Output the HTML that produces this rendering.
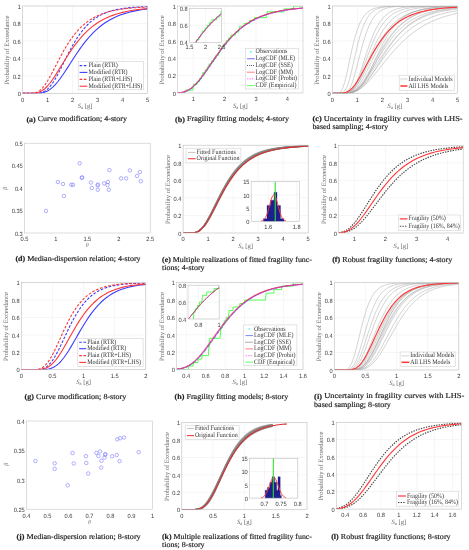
<!DOCTYPE html>
<html><head><meta charset="utf-8"><style>
html,body{margin:0;padding:0;background:#fff;width:469px;height:550px;overflow:hidden}
svg{display:block;will-change:transform} text{text-rendering:geometricPrecision}
</style></head><body>
<svg width="469" height="550" viewBox="0 0 469 550" font-family='"Liberation Sans", sans-serif'>
<rect width="469" height="550" fill="#fff"/>
<clipPath id="c1"><rect x="22.50" y="6.00" width="125.20" height="87.40"/></clipPath>
<rect x="22.50" y="6.00" width="125.20" height="87.40" fill="#fff"/>
<line x1="22.50" y1="6.00" x2="22.50" y2="93.40" stroke="#ececec" stroke-width="0.5"/>
<line x1="47.54" y1="6.00" x2="47.54" y2="93.40" stroke="#ececec" stroke-width="0.5"/>
<line x1="72.58" y1="6.00" x2="72.58" y2="93.40" stroke="#ececec" stroke-width="0.5"/>
<line x1="97.62" y1="6.00" x2="97.62" y2="93.40" stroke="#ececec" stroke-width="0.5"/>
<line x1="122.66" y1="6.00" x2="122.66" y2="93.40" stroke="#ececec" stroke-width="0.5"/>
<line x1="147.70" y1="6.00" x2="147.70" y2="93.40" stroke="#ececec" stroke-width="0.5"/>
<line x1="22.50" y1="93.40" x2="147.70" y2="93.40" stroke="#ececec" stroke-width="0.5"/>
<line x1="22.50" y1="75.92" x2="147.70" y2="75.92" stroke="#ececec" stroke-width="0.5"/>
<line x1="22.50" y1="58.44" x2="147.70" y2="58.44" stroke="#ececec" stroke-width="0.5"/>
<line x1="22.50" y1="40.96" x2="147.70" y2="40.96" stroke="#ececec" stroke-width="0.5"/>
<line x1="22.50" y1="23.48" x2="147.70" y2="23.48" stroke="#ececec" stroke-width="0.5"/>
<line x1="22.50" y1="6.00" x2="147.70" y2="6.00" stroke="#ececec" stroke-width="0.5"/>
<text x="22.50" y="100.20" font-size="6.1" text-anchor="middle" dominant-baseline="central" fill="#383838" textLength="3.17" lengthAdjust="spacingAndGlyphs">0</text>
<text x="47.54" y="100.20" font-size="6.1" text-anchor="middle" dominant-baseline="central" fill="#383838" textLength="3.17" lengthAdjust="spacingAndGlyphs">1</text>
<text x="72.58" y="100.20" font-size="6.1" text-anchor="middle" dominant-baseline="central" fill="#383838" textLength="3.17" lengthAdjust="spacingAndGlyphs">2</text>
<text x="97.62" y="100.20" font-size="6.1" text-anchor="middle" dominant-baseline="central" fill="#383838" textLength="3.17" lengthAdjust="spacingAndGlyphs">3</text>
<text x="122.66" y="100.20" font-size="6.1" text-anchor="middle" dominant-baseline="central" fill="#383838" textLength="3.17" lengthAdjust="spacingAndGlyphs">4</text>
<text x="147.70" y="100.20" font-size="6.1" text-anchor="middle" dominant-baseline="central" fill="#383838" textLength="3.17" lengthAdjust="spacingAndGlyphs">5</text>
<text x="20.80" y="93.40" font-size="6.1" text-anchor="end" dominant-baseline="central" fill="#383838" dy="1.25" textLength="3.17" lengthAdjust="spacingAndGlyphs">0</text>
<text x="20.80" y="75.92" font-size="6.1" text-anchor="end" dominant-baseline="central" fill="#383838" dy="1.25" textLength="7.92" lengthAdjust="spacingAndGlyphs">0.2</text>
<text x="20.80" y="58.44" font-size="6.1" text-anchor="end" dominant-baseline="central" fill="#383838" dy="1.25" textLength="7.92" lengthAdjust="spacingAndGlyphs">0.4</text>
<text x="20.80" y="40.96" font-size="6.1" text-anchor="end" dominant-baseline="central" fill="#383838" dy="1.25" textLength="7.92" lengthAdjust="spacingAndGlyphs">0.6</text>
<text x="20.80" y="23.48" font-size="6.1" text-anchor="end" dominant-baseline="central" fill="#383838" dy="1.25" textLength="7.92" lengthAdjust="spacingAndGlyphs">0.8</text>
<text x="20.80" y="6.00" font-size="6.1" text-anchor="end" dominant-baseline="central" fill="#383838" dy="1.25" textLength="3.17" lengthAdjust="spacingAndGlyphs">1</text>
<path d="M22.50,93.40 L25.00,93.40 L27.51,93.40 L30.01,93.40 L32.52,93.40 L35.02,93.37 L37.52,93.27 L40.03,92.96 L42.53,92.28 L45.04,91.05 L47.54,89.16 L50.04,86.53 L52.55,83.20 L55.05,79.25 L57.56,74.79 L60.06,70.00 L62.56,65.01 L65.07,59.96 L67.57,54.98 L70.08,50.17 L72.58,45.59 L75.08,41.30 L77.59,37.33 L80.09,33.70 L82.60,30.39 L85.10,27.42 L87.60,24.75 L90.11,22.38 L92.61,20.28 L95.12,18.42 L97.62,16.79 L100.12,15.37 L102.63,14.12 L105.13,13.03 L107.64,12.08 L110.14,11.26 L112.64,10.55 L115.15,9.93 L117.65,9.40 L120.16,8.94 L122.66,8.54 L125.16,8.19 L127.67,7.89 L130.17,7.64 L132.68,7.41 L135.18,7.22 L137.68,7.06 L140.19,6.92 L142.69,6.79 L145.20,6.69 L147.70,6.59" fill="none" stroke="#3c3cff" stroke-width="1.1" stroke-dasharray="2.6,1.6" stroke-linejoin="round" clip-path="url(#c1)"/>
<path d="M22.50,93.40 L25.00,93.40 L27.51,93.40 L30.01,93.40 L32.52,93.40 L35.02,93.38 L37.52,93.31 L40.03,93.13 L42.53,92.73 L45.04,92.03 L47.54,90.93 L50.04,89.38 L52.55,87.36 L55.05,84.88 L57.56,81.99 L60.06,78.75 L62.56,75.22 L65.07,71.49 L67.57,67.64 L70.08,63.73 L72.58,59.82 L75.08,55.98 L77.59,52.24 L80.09,48.64 L82.60,45.20 L85.10,41.94 L87.60,38.87 L90.11,36.01 L92.61,33.34 L95.12,30.86 L97.62,28.58 L100.12,26.48 L102.63,24.55 L105.13,22.79 L107.64,21.18 L110.14,19.72 L112.64,18.39 L115.15,17.18 L117.65,16.09 L120.16,15.10 L122.66,14.20 L125.16,13.39 L127.67,12.66 L130.17,12.00 L132.68,11.41 L135.18,10.87 L137.68,10.39 L140.19,9.96 L142.69,9.57 L145.20,9.21 L147.70,8.90" fill="none" stroke="#3c3cff" stroke-width="1.1" stroke-linejoin="round" clip-path="url(#c1)"/>
<path d="M22.50,93.40 L25.00,93.40 L27.51,93.40 L30.01,93.38 L32.52,93.27 L35.02,92.88 L37.52,91.96 L40.03,90.34 L42.53,87.93 L45.04,84.76 L47.54,80.93 L50.04,76.60 L52.55,71.94 L55.05,67.10 L57.56,62.23 L60.06,57.43 L62.56,52.81 L65.07,48.41 L67.57,44.28 L70.08,40.44 L72.58,36.90 L75.08,33.67 L77.59,30.73 L80.09,28.06 L82.60,25.66 L85.10,23.51 L87.60,21.57 L90.11,19.85 L92.61,18.31 L95.12,16.94 L97.62,15.72 L100.12,14.63 L102.63,13.67 L105.13,12.81 L107.64,12.06 L110.14,11.38 L112.64,10.79 L115.15,10.26 L117.65,9.79 L120.16,9.37 L122.66,9.01 L125.16,8.68 L127.67,8.39 L130.17,8.13 L132.68,7.90 L135.18,7.70 L137.68,7.52 L140.19,7.36 L142.69,7.22 L145.20,7.09 L147.70,6.98" fill="none" stroke="#ff3636" stroke-width="1.1" stroke-dasharray="2.6,1.6" stroke-linejoin="round" clip-path="url(#c1)"/>
<path d="M22.50,93.40 L25.00,93.40 L27.51,93.40 L30.01,93.39 L32.52,93.35 L35.02,93.17 L37.52,92.71 L40.03,91.84 L42.53,90.45 L45.04,88.50 L47.54,85.99 L50.04,82.98 L52.55,79.56 L55.05,75.83 L57.56,71.89 L60.06,67.83 L62.56,63.74 L65.07,59.69 L67.57,55.73 L70.08,51.91 L72.58,48.26 L75.08,44.81 L77.59,41.56 L80.09,38.52 L82.60,35.69 L85.10,33.07 L87.60,30.65 L90.11,28.43 L92.61,26.39 L95.12,24.53 L97.62,22.82 L100.12,21.27 L102.63,19.86 L105.13,18.57 L107.64,17.40 L110.14,16.34 L112.64,15.38 L115.15,14.51 L117.65,13.72 L120.16,13.00 L122.66,12.36 L125.16,11.77 L127.67,11.24 L130.17,10.76 L132.68,10.32 L135.18,9.93 L137.68,9.57 L140.19,9.25 L142.69,8.95 L145.20,8.69 L147.70,8.45" fill="none" stroke="#ff3636" stroke-width="1.1" stroke-linejoin="round" clip-path="url(#c1)"/>
<rect x="22.50" y="6.00" width="125.20" height="87.40" fill="none" stroke="#c0c0c0" stroke-width="0.55"/>
<rect x="78.20" y="61.50" width="65.40" height="28.30" fill="#fff" stroke="#d2d2d2" stroke-width="0.6"/>
<line x1="79.60" y1="65.60" x2="87.40" y2="65.60" stroke="#3c3cff" stroke-width="1.1" stroke-dasharray="2.6,1.6"/>
<text x="88.50" y="65.60" font-family='"Liberation Serif", serif' font-size="6.8" dominant-baseline="central" fill="#333" textLength="29.14" lengthAdjust="spacingAndGlyphs">Plain (RTR)</text>
<line x1="79.60" y1="72.40" x2="87.40" y2="72.40" stroke="#3c3cff" stroke-width="1.1"/>
<text x="88.50" y="72.40" font-family='"Liberation Serif", serif' font-size="6.8" dominant-baseline="central" fill="#333" textLength="39.13" lengthAdjust="spacingAndGlyphs">Modified (RTR)</text>
<line x1="79.60" y1="79.40" x2="87.40" y2="79.40" stroke="#ff3636" stroke-width="1.1" stroke-dasharray="2.6,1.6"/>
<text x="88.50" y="79.40" font-family='"Liberation Serif", serif' font-size="6.8" dominant-baseline="central" fill="#333" textLength="43.86" lengthAdjust="spacingAndGlyphs">Plain (RTR+LHS)</text>
<line x1="79.60" y1="86.20" x2="87.40" y2="86.20" stroke="#ff3636" stroke-width="1.1"/>
<text x="88.50" y="86.20" font-family='"Liberation Serif", serif' font-size="6.8" dominant-baseline="central" fill="#333" textLength="53.85" lengthAdjust="spacingAndGlyphs">Modified (RTR+LHS)</text>
<text x="7.90" y="50.10" font-family='"Liberation Serif", serif' font-size="6.6" text-anchor="middle" dominant-baseline="central" fill="#666" transform="rotate(-90 7.90 50.10)" textLength="69" lengthAdjust="spacingAndGlyphs">Probability of Exceedance</text>
<text x="85.10" y="106.00" font-family='"Liberation Serif", serif' font-size="6.6" text-anchor="middle" dominant-baseline="central" fill="#666"><tspan font-style="italic">S</tspan><tspan font-size="4.62" dy="1">a</tspan><tspan dy="-1"> [g]</tspan></text>
<text x="26.40" y="118.80" font-family='"Liberation Serif", serif' font-size="7.6" dominant-baseline="central" fill="#222" stroke="#222" stroke-width="0.18" textLength="100.6" lengthAdjust="spacingAndGlyphs"><tspan font-weight="bold">(a)</tspan> Curve modification; 4-story</text>
<clipPath id="c2"><rect x="177.60" y="6.00" width="125.40" height="87.00"/></clipPath>
<rect x="177.60" y="6.00" width="125.40" height="87.00" fill="#fff"/>
<line x1="193.28" y1="6.00" x2="193.28" y2="93.00" stroke="#ececec" stroke-width="0.5"/>
<line x1="224.62" y1="6.00" x2="224.62" y2="93.00" stroke="#ececec" stroke-width="0.5"/>
<line x1="255.97" y1="6.00" x2="255.97" y2="93.00" stroke="#ececec" stroke-width="0.5"/>
<line x1="287.32" y1="6.00" x2="287.32" y2="93.00" stroke="#ececec" stroke-width="0.5"/>
<line x1="177.60" y1="93.00" x2="303.00" y2="93.00" stroke="#ececec" stroke-width="0.5"/>
<line x1="177.60" y1="75.60" x2="303.00" y2="75.60" stroke="#ececec" stroke-width="0.5"/>
<line x1="177.60" y1="58.20" x2="303.00" y2="58.20" stroke="#ececec" stroke-width="0.5"/>
<line x1="177.60" y1="40.80" x2="303.00" y2="40.80" stroke="#ececec" stroke-width="0.5"/>
<line x1="177.60" y1="23.40" x2="303.00" y2="23.40" stroke="#ececec" stroke-width="0.5"/>
<line x1="177.60" y1="6.00" x2="303.00" y2="6.00" stroke="#ececec" stroke-width="0.5"/>
<text x="193.28" y="99.80" font-size="6.1" text-anchor="middle" dominant-baseline="central" fill="#383838" textLength="3.17" lengthAdjust="spacingAndGlyphs">1</text>
<text x="224.62" y="99.80" font-size="6.1" text-anchor="middle" dominant-baseline="central" fill="#383838" textLength="3.17" lengthAdjust="spacingAndGlyphs">2</text>
<text x="255.97" y="99.80" font-size="6.1" text-anchor="middle" dominant-baseline="central" fill="#383838" textLength="3.17" lengthAdjust="spacingAndGlyphs">3</text>
<text x="287.32" y="99.80" font-size="6.1" text-anchor="middle" dominant-baseline="central" fill="#383838" textLength="3.17" lengthAdjust="spacingAndGlyphs">4</text>
<text x="175.90" y="93.00" font-size="6.1" text-anchor="end" dominant-baseline="central" fill="#383838" dy="1.25" textLength="3.17" lengthAdjust="spacingAndGlyphs">0</text>
<text x="175.90" y="75.60" font-size="6.1" text-anchor="end" dominant-baseline="central" fill="#383838" dy="1.25" textLength="7.92" lengthAdjust="spacingAndGlyphs">0.2</text>
<text x="175.90" y="58.20" font-size="6.1" text-anchor="end" dominant-baseline="central" fill="#383838" dy="1.25" textLength="7.92" lengthAdjust="spacingAndGlyphs">0.4</text>
<text x="175.90" y="40.80" font-size="6.1" text-anchor="end" dominant-baseline="central" fill="#383838" dy="1.25" textLength="7.92" lengthAdjust="spacingAndGlyphs">0.6</text>
<text x="175.90" y="23.40" font-size="6.1" text-anchor="end" dominant-baseline="central" fill="#383838" dy="1.25" textLength="7.92" lengthAdjust="spacingAndGlyphs">0.8</text>
<text x="175.90" y="6.00" font-size="6.1" text-anchor="end" dominant-baseline="central" fill="#383838" dy="1.25" textLength="3.17" lengthAdjust="spacingAndGlyphs">1</text>
<path d="M177.60,93.00 L185.12,93.00 L185.12,90.10 L192.96,90.10 L192.96,87.20 L193.28,87.20 L193.28,84.30 L197.04,84.30 L197.04,81.40 L199.54,81.40 L199.54,78.50 L201.43,78.50 L201.43,75.60 L202.68,75.60 L202.68,72.70 L205.19,72.70 L205.19,69.80 L207.38,69.80 L207.38,66.90 L208.95,66.90 L208.95,64.00 L211.46,64.00 L211.46,61.10 L213.97,61.10 L213.97,58.20 L215.85,58.20 L215.85,55.30 L218.35,55.30 L218.35,52.40 L219.92,52.40 L219.92,49.50 L221.49,49.50 L221.49,46.60 L224.00,46.60 L224.00,43.70 L226.19,43.70 L226.19,40.80 L228.39,40.80 L228.39,37.90 L230.90,37.90 L230.90,35.00 L235.60,35.00 L235.60,32.10 L238.73,32.10 L238.73,29.20 L239.67,29.20 L239.67,26.30 L244.06,26.30 L244.06,23.40 L249.70,23.40 L249.70,20.50 L254.41,20.50 L254.41,17.60 L266.32,17.60 L266.32,14.70 L266.95,14.70 L266.95,11.80 L284.19,11.80 L284.19,8.90 L293.60,8.90 L293.60,6.00 L303.00,6.00" fill="none" stroke="#40ff40" stroke-width="0.9" stroke-linejoin="round" clip-path="url(#c2)"/>
<path d="M177.60,92.89 L180.11,92.68 L182.62,92.27 L185.12,91.56 L187.63,90.49 L190.14,89.01 L192.65,87.10 L195.16,84.79 L197.66,82.10 L200.17,79.09 L202.68,75.82 L205.19,72.35 L207.70,68.75 L210.20,65.09 L212.71,61.42 L215.22,57.78 L217.73,54.22 L220.24,50.76 L222.74,47.44 L225.25,44.27 L227.76,41.27 L230.27,38.43 L232.78,35.78 L235.28,33.29 L237.79,30.98 L240.30,28.84 L242.81,26.85 L245.32,25.02 L247.82,23.34 L250.33,21.80 L252.84,20.38 L255.35,19.08 L257.86,17.90 L260.36,16.81 L262.87,15.83 L265.38,14.93 L267.89,14.11 L270.40,13.37 L272.90,12.69 L275.41,12.08 L277.92,11.52 L280.43,11.01 L282.94,10.55 L285.44,10.13 L287.95,9.75 L290.46,9.41 L292.97,9.10 L295.48,8.82 L297.98,8.56 L300.49,8.33 L303.00,8.12" fill="none" stroke="#6060ff" stroke-width="1.0" stroke-linejoin="round" clip-path="url(#c2)"/>
<path d="M177.60,92.92 L180.11,92.75 L182.62,92.40 L185.12,91.78 L187.63,90.82 L190.14,89.47 L192.65,87.69 L195.16,85.50 L197.66,82.91 L200.17,79.99 L202.68,76.78 L205.19,73.35 L207.70,69.77 L210.20,66.10 L212.71,62.40 L215.22,58.72 L217.73,55.10 L220.24,51.59 L222.74,48.20 L225.25,44.96 L227.76,41.88 L230.27,38.98 L232.78,36.25 L235.28,33.70 L237.79,31.33 L240.30,29.12 L242.81,27.09 L245.32,25.21 L247.82,23.48 L250.33,21.90 L252.84,20.45 L255.35,19.12 L257.86,17.91 L260.36,16.81 L262.87,15.80 L265.38,14.89 L267.89,14.05 L270.40,13.30 L272.90,12.61 L275.41,11.99 L277.92,11.43 L280.43,10.92 L282.94,10.46 L285.44,10.04 L287.95,9.66 L290.46,9.32 L292.97,9.01 L295.48,8.73 L297.98,8.47 L300.49,8.24 L303.00,8.03" fill="none" stroke="#222" stroke-width="0.7" stroke-dasharray="0.8,0.8" stroke-linejoin="round" clip-path="url(#c2)"/>
<path d="M177.60,92.88 L180.11,92.66 L182.62,92.22 L185.12,91.48 L187.63,90.36 L190.14,88.81 L192.65,86.84 L195.16,84.45 L197.66,81.69 L200.17,78.60 L202.68,75.26 L205.19,71.73 L207.70,68.08 L210.20,64.37 L212.71,60.67 L215.22,57.01 L217.73,53.43 L220.24,49.97 L222.74,46.65 L225.25,43.49 L227.76,40.50 L230.27,37.68 L232.78,35.05 L235.28,32.59 L237.79,30.31 L240.30,28.19 L242.81,26.24 L245.32,24.44 L247.82,22.79 L250.33,21.28 L252.84,19.89 L255.35,18.62 L257.86,17.47 L260.36,16.41 L262.87,15.45 L265.38,14.58 L267.89,13.78 L270.40,13.06 L272.90,12.41 L275.41,11.81 L277.92,11.27 L280.43,10.79 L282.94,10.34 L285.44,9.94 L287.95,9.58 L290.46,9.25 L292.97,8.95 L295.48,8.68 L297.98,8.43 L300.49,8.21 L303.00,8.01" fill="none" stroke="#ff3636" stroke-width="0.8" stroke-linejoin="round" clip-path="url(#c2)"/>
<path d="M177.60,92.87 L180.11,92.63 L182.62,92.17 L185.12,91.40 L187.63,90.27 L190.14,88.72 L192.65,86.76 L195.16,84.41 L197.66,81.69 L200.17,78.67 L202.68,75.41 L205.19,71.97 L207.70,68.42 L210.20,64.80 L212.71,61.19 L215.22,57.62 L217.73,54.12 L220.24,50.74 L222.74,47.48 L225.25,44.37 L227.76,41.43 L230.27,38.64 L232.78,36.03 L235.28,33.59 L237.79,31.31 L240.30,29.19 L242.81,27.23 L245.32,25.42 L247.82,23.75 L250.33,22.21 L252.84,20.79 L255.35,19.50 L257.86,18.31 L260.36,17.22 L262.87,16.23 L265.38,15.32 L267.89,14.49 L270.40,13.74 L272.90,13.05 L275.41,12.42 L277.92,11.85 L280.43,11.33 L282.94,10.85 L285.44,10.42 L287.95,10.03 L290.46,9.67 L292.97,9.35 L295.48,9.05 L297.98,8.78 L300.49,8.54 L303.00,8.32" fill="none" stroke="#ff40ff" stroke-width="0.8" stroke-dasharray="1.5,1" stroke-linejoin="round" clip-path="url(#c2)"/>
<rect x="177.60" y="6.00" width="125.40" height="87.00" fill="none" stroke="#c0c0c0" stroke-width="0.55"/>
<clipPath id="c3"><rect x="189.40" y="8.30" width="32.20" height="34.20"/></clipPath>
<rect x="189.40" y="8.30" width="32.20" height="34.20" fill="#fff"/>
<line x1="189.40" y1="8.30" x2="189.40" y2="42.50" stroke="#ececec" stroke-width="0.5"/>
<line x1="205.50" y1="8.30" x2="205.50" y2="42.50" stroke="#ececec" stroke-width="0.5"/>
<line x1="221.60" y1="8.30" x2="221.60" y2="42.50" stroke="#ececec" stroke-width="0.5"/>
<line x1="189.40" y1="42.50" x2="221.60" y2="42.50" stroke="#ececec" stroke-width="0.5"/>
<line x1="189.40" y1="25.40" x2="221.60" y2="25.40" stroke="#ececec" stroke-width="0.5"/>
<line x1="189.40" y1="8.30" x2="221.60" y2="8.30" stroke="#ececec" stroke-width="0.5"/>
<text x="189.40" y="47.50" font-size="6.1" text-anchor="middle" dominant-baseline="central" fill="#383838" textLength="7.92" lengthAdjust="spacingAndGlyphs">1.5</text>
<text x="205.50" y="47.50" font-size="6.1" text-anchor="middle" dominant-baseline="central" fill="#383838" textLength="3.17" lengthAdjust="spacingAndGlyphs">2</text>
<text x="221.60" y="47.50" font-size="6.1" text-anchor="middle" dominant-baseline="central" fill="#383838" textLength="7.92" lengthAdjust="spacingAndGlyphs">2.5</text>
<text x="187.70" y="42.50" font-size="6.1" text-anchor="end" dominant-baseline="central" fill="#383838" dy="1.25" textLength="7.92" lengthAdjust="spacingAndGlyphs">0.4</text>
<text x="187.70" y="25.40" font-size="6.1" text-anchor="end" dominant-baseline="central" fill="#383838" dy="1.25" textLength="7.92" lengthAdjust="spacingAndGlyphs">0.6</text>
<text x="187.70" y="8.30" font-size="6.1" text-anchor="end" dominant-baseline="central" fill="#383838" dy="1.25" textLength="7.92" lengthAdjust="spacingAndGlyphs">0.8</text>
<path d="M157.20,76.70 L164.93,76.70 L164.93,73.85 L172.98,73.85 L172.98,71.00 L173.30,71.00 L173.30,68.15 L177.16,68.15 L177.16,65.30 L179.74,65.30 L179.74,62.45 L181.67,62.45 L181.67,59.60 L182.96,59.60 L182.96,56.75 L185.54,56.75 L185.54,53.90 L187.79,53.90 L187.79,51.05 L189.40,51.05 L189.40,48.20 L191.98,48.20 L191.98,45.35 L194.55,45.35 L194.55,42.50 L196.48,42.50 L196.48,39.65 L199.06,39.65 L199.06,36.80 L200.67,36.80 L200.67,33.95 L202.28,33.95 L202.28,31.10 L204.86,31.10 L204.86,28.25 L207.11,28.25 L207.11,25.40 L209.36,25.40 L209.36,22.55 L211.94,22.55 L211.94,19.70 L216.77,19.70 L216.77,16.85 L219.99,16.85 L219.99,14.00 L220.96,14.00 L220.96,11.15 L225.46,11.15 L225.46,8.30 L231.26,8.30 L231.26,5.45 L236.09,5.45 L236.09,2.60 L248.33,2.60 L248.33,-0.25 L248.97,-0.25 L248.97,-3.10 L266.68,-3.10 L266.68,-5.95 L276.34,-5.95 L276.34,-8.80 L286.00,-8.80" fill="none" stroke="#40ff40" stroke-width="0.9" stroke-linejoin="round" clip-path="url(#c3)"/>
<path d="M194.87,43.42 L195.41,42.68 L195.94,41.94 L196.48,41.21 L197.01,40.48 L197.55,39.76 L198.08,39.03 L198.62,38.32 L199.15,37.60 L199.68,36.90 L200.22,36.20 L200.75,35.50 L201.29,34.81 L201.82,34.12 L202.36,33.44 L202.89,32.77 L203.43,32.10 L203.96,31.44 L204.50,30.79 L205.03,30.14 L205.56,29.50 L206.10,28.87 L206.63,28.24 L207.17,27.62 L207.70,27.01 L208.24,26.40 L208.77,25.80 L209.31,25.21 L209.84,24.63 L210.38,24.05 L210.91,23.48 L211.44,22.92 L211.98,22.37 L212.51,21.82 L213.05,21.28 L213.58,20.75 L214.12,20.22 L214.65,19.71 L215.19,19.20 L215.72,18.69 L216.25,18.20 L216.79,17.71 L217.32,17.23 L217.86,16.76 L218.39,16.29 L218.93,15.83 L219.46,15.38 L220.00,14.93 L220.53,14.50 L221.07,14.07 L221.60,13.64" fill="none" stroke="#6060ff" stroke-width="1.0" stroke-linejoin="round" clip-path="url(#c3)"/>
<path d="M194.87,43.42 L195.41,42.68 L195.94,41.94 L196.48,41.21 L197.01,40.48 L197.55,39.76 L198.08,39.03 L198.62,38.32 L199.15,37.60 L199.68,36.90 L200.22,36.20 L200.75,35.50 L201.29,34.81 L201.82,34.12 L202.36,33.44 L202.89,32.77 L203.43,32.10 L203.96,31.44 L204.50,30.79 L205.03,30.14 L205.56,29.50 L206.10,28.87 L206.63,28.24 L207.17,27.62 L207.70,27.01 L208.24,26.40 L208.77,25.80 L209.31,25.21 L209.84,24.63 L210.38,24.05 L210.91,23.48 L211.44,22.92 L211.98,22.37 L212.51,21.82 L213.05,21.28 L213.58,20.75 L214.12,20.22 L214.65,19.71 L215.19,19.20 L215.72,18.69 L216.25,18.20 L216.79,17.71 L217.32,17.23 L217.86,16.76 L218.39,16.29 L218.93,15.83 L219.46,15.38 L220.00,14.93 L220.53,14.50 L221.07,14.07 L221.60,13.64" fill="none" stroke="#ff3636" stroke-width="0.8" stroke-linejoin="round" clip-path="url(#c3)"/>
<path d="M194.87,43.24 L195.41,42.51 L195.94,41.79 L196.48,41.07 L197.01,40.35 L197.55,39.64 L198.08,38.93 L198.62,38.23 L199.15,37.53 L199.68,36.84 L200.22,36.15 L200.75,35.47 L201.29,34.79 L201.82,34.12 L202.36,33.45 L202.89,32.79 L203.43,32.14 L203.96,31.49 L204.50,30.85 L205.03,30.21 L205.56,29.59 L206.10,28.96 L206.63,28.35 L207.17,27.74 L207.70,27.14 L208.24,26.55 L208.77,25.96 L209.31,25.38 L209.84,24.81 L210.38,24.24 L210.91,23.68 L211.44,23.13 L211.98,22.58 L212.51,22.05 L213.05,21.52 L213.58,20.99 L214.12,20.48 L214.65,19.97 L215.19,19.47 L215.72,18.97 L216.25,18.48 L216.79,18.00 L217.32,17.53 L217.86,17.06 L218.39,16.60 L218.93,16.15 L219.46,15.71 L220.00,15.27 L220.53,14.84 L221.07,14.41 L221.60,13.99" fill="none" stroke="#ff40ff" stroke-width="0.8" stroke-dasharray="1.5,1" stroke-linejoin="round" clip-path="url(#c3)"/>
<rect x="189.40" y="8.30" width="32.20" height="34.20" fill="none" stroke="#c0c0c0" stroke-width="0.55"/>
<rect x="245.40" y="48.40" width="53.00" height="40.60" fill="#fff" stroke="#d2d2d2" stroke-width="0.6"/>
<circle cx="250.85" cy="51.90" r="1.1" fill="#80ffff"/>
<text x="255.60" y="51.90" font-family='"Liberation Serif", serif' font-size="6.8" dominant-baseline="central" fill="#333" textLength="31.66" lengthAdjust="spacingAndGlyphs">Observations</text>
<line x1="247.00" y1="58.70" x2="254.70" y2="58.70" stroke="#9090ff" stroke-width="1.3"/>
<text x="255.60" y="58.70" font-family='"Liberation Serif", serif' font-size="6.8" dominant-baseline="central" fill="#333" textLength="39.50" lengthAdjust="spacingAndGlyphs">LogCDF (MLE)</text>
<line x1="247.00" y1="65.50" x2="254.70" y2="65.50" stroke="#333" stroke-width="0.8" stroke-dasharray="1,1"/>
<text x="255.60" y="65.50" font-family='"Liberation Serif", serif' font-size="6.8" dominant-baseline="central" fill="#333" textLength="37.17" lengthAdjust="spacingAndGlyphs">LogCDF (SSE)</text>
<line x1="247.00" y1="72.20" x2="254.70" y2="72.20" stroke="#ff6060" stroke-width="0.8"/>
<text x="255.60" y="72.20" font-family='"Liberation Serif", serif' font-size="6.8" dominant-baseline="central" fill="#333" textLength="37.50" lengthAdjust="spacingAndGlyphs">LogCDF (MM)</text>
<line x1="247.00" y1="78.90" x2="254.70" y2="78.90" stroke="#ff60ff" stroke-width="0.8" stroke-dasharray="1.5,1"/>
<text x="255.60" y="78.90" font-family='"Liberation Serif", serif' font-size="6.8" dominant-baseline="central" fill="#333" textLength="41.50" lengthAdjust="spacingAndGlyphs">LogCDF (Probit)</text>
<line x1="247.00" y1="85.60" x2="254.70" y2="85.60" stroke="#60ff60" stroke-width="1.0"/>
<text x="255.60" y="85.60" font-family='"Liberation Serif", serif' font-size="6.8" dominant-baseline="central" fill="#333" textLength="40.82" lengthAdjust="spacingAndGlyphs">CDF (Empirical)</text>
<text x="163.00" y="49.90" font-family='"Liberation Serif", serif' font-size="6.6" text-anchor="middle" dominant-baseline="central" fill="#666" transform="rotate(-90 163.00 49.90)" textLength="69" lengthAdjust="spacingAndGlyphs">Probability of Exceedance</text>
<text x="240.30" y="105.60" font-family='"Liberation Serif", serif' font-size="6.6" text-anchor="middle" dominant-baseline="central" fill="#666"><tspan font-style="italic">S</tspan><tspan font-size="4.62" dy="1">a</tspan><tspan dy="-1"> [g]</tspan></text>
<text x="175.10" y="118.80" font-family='"Liberation Serif", serif' font-size="7.6" dominant-baseline="central" fill="#222" stroke="#222" stroke-width="0.18" textLength="113.9" lengthAdjust="spacingAndGlyphs"><tspan font-weight="bold">(b)</tspan> Fragility fitting models; 4-story</text>
<clipPath id="c4"><rect x="332.40" y="6.00" width="125.10" height="87.30"/></clipPath>
<rect x="332.40" y="6.00" width="125.10" height="87.30" fill="#fff"/>
<line x1="332.40" y1="6.00" x2="332.40" y2="93.30" stroke="#ececec" stroke-width="0.5"/>
<line x1="357.42" y1="6.00" x2="357.42" y2="93.30" stroke="#ececec" stroke-width="0.5"/>
<line x1="382.44" y1="6.00" x2="382.44" y2="93.30" stroke="#ececec" stroke-width="0.5"/>
<line x1="407.46" y1="6.00" x2="407.46" y2="93.30" stroke="#ececec" stroke-width="0.5"/>
<line x1="432.48" y1="6.00" x2="432.48" y2="93.30" stroke="#ececec" stroke-width="0.5"/>
<line x1="457.50" y1="6.00" x2="457.50" y2="93.30" stroke="#ececec" stroke-width="0.5"/>
<line x1="332.40" y1="93.30" x2="457.50" y2="93.30" stroke="#ececec" stroke-width="0.5"/>
<line x1="332.40" y1="75.84" x2="457.50" y2="75.84" stroke="#ececec" stroke-width="0.5"/>
<line x1="332.40" y1="58.38" x2="457.50" y2="58.38" stroke="#ececec" stroke-width="0.5"/>
<line x1="332.40" y1="40.92" x2="457.50" y2="40.92" stroke="#ececec" stroke-width="0.5"/>
<line x1="332.40" y1="23.46" x2="457.50" y2="23.46" stroke="#ececec" stroke-width="0.5"/>
<line x1="332.40" y1="6.00" x2="457.50" y2="6.00" stroke="#ececec" stroke-width="0.5"/>
<text x="332.40" y="100.10" font-size="6.1" text-anchor="middle" dominant-baseline="central" fill="#383838" textLength="3.17" lengthAdjust="spacingAndGlyphs">0</text>
<text x="357.42" y="100.10" font-size="6.1" text-anchor="middle" dominant-baseline="central" fill="#383838" textLength="3.17" lengthAdjust="spacingAndGlyphs">1</text>
<text x="382.44" y="100.10" font-size="6.1" text-anchor="middle" dominant-baseline="central" fill="#383838" textLength="3.17" lengthAdjust="spacingAndGlyphs">2</text>
<text x="407.46" y="100.10" font-size="6.1" text-anchor="middle" dominant-baseline="central" fill="#383838" textLength="3.17" lengthAdjust="spacingAndGlyphs">3</text>
<text x="432.48" y="100.10" font-size="6.1" text-anchor="middle" dominant-baseline="central" fill="#383838" textLength="3.17" lengthAdjust="spacingAndGlyphs">4</text>
<text x="457.50" y="100.10" font-size="6.1" text-anchor="middle" dominant-baseline="central" fill="#383838" textLength="3.17" lengthAdjust="spacingAndGlyphs">5</text>
<text x="330.70" y="93.30" font-size="6.1" text-anchor="end" dominant-baseline="central" fill="#383838" dy="1.25" textLength="3.17" lengthAdjust="spacingAndGlyphs">0</text>
<text x="330.70" y="75.84" font-size="6.1" text-anchor="end" dominant-baseline="central" fill="#383838" dy="1.25" textLength="7.92" lengthAdjust="spacingAndGlyphs">0.2</text>
<text x="330.70" y="58.38" font-size="6.1" text-anchor="end" dominant-baseline="central" fill="#383838" dy="1.25" textLength="7.92" lengthAdjust="spacingAndGlyphs">0.4</text>
<text x="330.70" y="40.92" font-size="6.1" text-anchor="end" dominant-baseline="central" fill="#383838" dy="1.25" textLength="7.92" lengthAdjust="spacingAndGlyphs">0.6</text>
<text x="330.70" y="23.46" font-size="6.1" text-anchor="end" dominant-baseline="central" fill="#383838" dy="1.25" textLength="7.92" lengthAdjust="spacingAndGlyphs">0.8</text>
<text x="330.70" y="6.00" font-size="6.1" text-anchor="end" dominant-baseline="central" fill="#383838" dy="1.25" textLength="3.17" lengthAdjust="spacingAndGlyphs">1</text>
<path d="M332.40,93.30 L334.90,93.30 L337.40,93.27 L339.91,92.56 L342.41,89.15 L344.91,81.68 L347.41,70.96 L349.91,58.96 L352.42,47.45 L354.92,37.45 L357.42,29.33 L359.92,23.03 L362.42,18.29 L364.93,14.80 L367.43,12.27 L369.93,10.46 L372.43,9.16 L374.93,8.25 L377.44,7.60 L379.94,7.14 L382.44,6.81 L384.94,6.58 L387.44,6.42 L389.95,6.30 L392.45,6.22 L394.95,6.16 L397.45,6.11 L399.95,6.08 L402.46,6.06 L404.96,6.04 L407.46,6.03 L409.96,6.02 L412.46,6.02 L414.97,6.01 L417.47,6.01 L419.97,6.01 L422.47,6.01 L424.97,6.00 L427.48,6.00 L429.98,6.00 L432.48,6.00 L434.98,6.00 L437.48,6.00 L439.99,6.00 L442.49,6.00 L444.99,6.00 L447.49,6.00 L449.99,6.00 L452.50,6.00 L455.00,6.00 L457.50,6.00" fill="none" stroke="#a8a8a8" stroke-width="0.5" stroke-linejoin="round" clip-path="url(#c4)"/>
<path d="M332.40,93.30 L334.90,93.30 L337.40,93.30 L339.91,93.27 L342.41,92.86 L344.91,90.90 L347.41,86.02 L349.91,77.90 L352.42,67.47 L354.92,56.22 L357.42,45.48 L359.92,36.07 L362.42,28.33 L364.93,22.26 L367.43,17.66 L369.93,14.26 L372.43,11.80 L374.93,10.05 L377.44,8.81 L379.94,7.95 L382.44,7.35 L384.94,6.93 L387.44,6.64 L389.95,6.44 L392.45,6.31 L394.95,6.21 L397.45,6.15 L399.95,6.10 L402.46,6.07 L404.96,6.05 L407.46,6.04 L409.96,6.02 L412.46,6.02 L414.97,6.01 L417.47,6.01 L419.97,6.01 L422.47,6.00 L424.97,6.00 L427.48,6.00 L429.98,6.00 L432.48,6.00 L434.98,6.00 L437.48,6.00 L439.99,6.00 L442.49,6.00 L444.99,6.00 L447.49,6.00 L449.99,6.00 L452.50,6.00 L455.00,6.00 L457.50,6.00" fill="none" stroke="#a8a8a8" stroke-width="0.5" stroke-linejoin="round" clip-path="url(#c4)"/>
<path d="M332.40,93.30 L334.90,93.30 L337.40,93.30 L339.91,93.30 L342.41,93.26 L344.91,92.91 L347.41,91.50 L349.91,88.11 L352.42,82.24 L354.92,74.14 L357.42,64.65 L359.92,54.75 L362.42,45.31 L364.93,36.89 L367.43,29.75 L369.93,23.94 L372.43,19.35 L374.93,15.82 L377.44,13.16 L379.94,11.17 L382.44,9.72 L384.94,8.66 L387.44,7.90 L389.95,7.35 L392.45,6.96 L394.95,6.68 L397.45,6.48 L399.95,6.34 L402.46,6.24 L404.96,6.17 L407.46,6.12 L409.96,6.09 L412.46,6.06 L414.97,6.04 L417.47,6.03 L419.97,6.02 L422.47,6.02 L424.97,6.01 L427.48,6.01 L429.98,6.01 L432.48,6.00 L434.98,6.00 L437.48,6.00 L439.99,6.00 L442.49,6.00 L444.99,6.00 L447.49,6.00 L449.99,6.00 L452.50,6.00 L455.00,6.00 L457.50,6.00" fill="none" stroke="#a8a8a8" stroke-width="0.5" stroke-linejoin="round" clip-path="url(#c4)"/>
<path d="M332.40,93.30 L334.90,93.30 L337.40,93.30 L339.91,93.30 L342.41,93.29 L344.91,93.23 L347.41,92.88 L349.91,91.82 L352.42,89.55 L354.92,85.72 L357.42,80.30 L359.92,73.58 L362.42,66.02 L364.93,58.14 L367.43,50.40 L369.93,43.16 L372.43,36.63 L374.93,30.92 L377.44,26.05 L379.94,21.98 L382.44,18.64 L384.94,15.93 L387.44,13.75 L389.95,12.03 L392.45,10.67 L394.95,9.61 L397.45,8.78 L399.95,8.14 L402.46,7.64 L404.96,7.26 L407.46,6.97 L409.96,6.74 L412.46,6.57 L414.97,6.44 L417.47,6.33 L419.97,6.26 L422.47,6.20 L424.97,6.15 L427.48,6.12 L429.98,6.09 L432.48,6.07 L434.98,6.05 L437.48,6.04 L439.99,6.03 L442.49,6.02 L444.99,6.02 L447.49,6.01 L449.99,6.01 L452.50,6.01 L455.00,6.01 L457.50,6.01" fill="none" stroke="#a8a8a8" stroke-width="0.5" stroke-linejoin="round" clip-path="url(#c4)"/>
<path d="M332.40,93.30 L334.90,93.30 L337.40,93.30 L339.91,93.30 L342.41,93.29 L344.91,93.20 L347.41,92.82 L349.91,91.80 L352.42,89.77 L354.92,86.49 L357.42,81.95 L359.92,76.32 L362.42,69.93 L364.93,63.14 L367.43,56.28 L369.93,49.65 L372.43,43.44 L374.93,37.78 L377.44,32.74 L379.94,28.32 L382.44,24.52 L384.94,21.28 L387.44,18.54 L389.95,16.26 L392.45,14.37 L394.95,12.81 L397.45,11.52 L399.95,10.48 L402.46,9.62 L404.96,8.93 L407.46,8.36 L409.96,7.91 L412.46,7.54 L414.97,7.24 L417.47,7.00 L419.97,6.81 L422.47,6.66 L424.97,6.53 L427.48,6.43 L429.98,6.35 L432.48,6.28 L434.98,6.23 L437.48,6.18 L439.99,6.15 L442.49,6.12 L444.99,6.10 L447.49,6.08 L449.99,6.07 L452.50,6.05 L455.00,6.04 L457.50,6.04" fill="none" stroke="#a8a8a8" stroke-width="0.5" stroke-linejoin="round" clip-path="url(#c4)"/>
<path d="M332.40,93.30 L334.90,93.30 L337.40,93.30 L339.91,93.30 L342.41,93.29 L344.91,93.21 L347.41,92.91 L349.91,92.11 L352.42,90.53 L354.92,87.98 L357.42,84.38 L359.92,79.84 L362.42,74.54 L364.93,68.75 L367.43,62.71 L369.93,56.66 L372.43,50.79 L374.93,45.24 L377.44,40.12 L379.94,35.46 L382.44,31.28 L384.94,27.59 L387.44,24.36 L389.95,21.56 L392.45,19.14 L394.95,17.07 L397.45,15.30 L399.95,13.81 L402.46,12.54 L404.96,11.48 L407.46,10.58 L409.96,9.83 L412.46,9.20 L414.97,8.67 L417.47,8.23 L419.97,7.86 L422.47,7.55 L424.97,7.30 L427.48,7.09 L429.98,6.91 L432.48,6.76 L434.98,6.63 L437.48,6.53 L439.99,6.45 L442.49,6.37 L444.99,6.31 L447.49,6.26 L449.99,6.22 L452.50,6.19 L455.00,6.16 L457.50,6.13" fill="none" stroke="#a8a8a8" stroke-width="0.5" stroke-linejoin="round" clip-path="url(#c4)"/>
<path d="M332.40,93.30 L334.90,93.30 L337.40,93.30 L339.91,93.30 L342.41,93.29 L344.91,93.24 L347.41,93.04 L349.91,92.50 L352.42,91.44 L354.92,89.67 L357.42,87.11 L359.92,83.77 L362.42,79.74 L364.93,75.15 L367.43,70.17 L369.93,64.99 L372.43,59.76 L374.93,54.61 L377.44,49.65 L379.94,44.96 L382.44,40.58 L384.94,36.55 L387.44,32.88 L389.95,29.57 L392.45,26.60 L394.95,23.96 L397.45,21.62 L399.95,19.56 L402.46,17.76 L404.96,16.18 L407.46,14.80 L409.96,13.60 L412.46,12.56 L414.97,11.66 L417.47,10.88 L419.97,10.21 L422.47,9.63 L424.97,9.13 L427.48,8.70 L429.98,8.32 L432.48,8.00 L434.98,7.73 L437.48,7.49 L439.99,7.29 L442.49,7.11 L444.99,6.96 L447.49,6.83 L449.99,6.72 L452.50,6.62 L455.00,6.54 L457.50,6.46" fill="none" stroke="#a8a8a8" stroke-width="0.5" stroke-linejoin="round" clip-path="url(#c4)"/>
<path d="M332.40,93.30 L334.90,93.30 L337.40,93.30 L339.91,93.30 L342.41,93.29 L344.91,93.25 L347.41,93.08 L349.91,92.66 L352.42,91.82 L354.92,90.44 L357.42,88.42 L359.92,85.76 L362.42,82.49 L364.93,78.71 L367.43,74.52 L369.93,70.07 L372.43,65.47 L374.93,60.83 L377.44,56.25 L379.94,51.80 L382.44,47.55 L384.94,43.54 L387.44,39.78 L389.95,36.31 L392.45,33.11 L394.95,30.19 L397.45,27.54 L399.95,25.14 L402.46,22.98 L404.96,21.05 L407.46,19.32 L409.96,17.77 L412.46,16.40 L414.97,15.18 L417.47,14.10 L419.97,13.15 L422.47,12.30 L424.97,11.55 L427.48,10.90 L429.98,10.32 L432.48,9.80 L434.98,9.35 L437.48,8.96 L439.99,8.61 L442.49,8.30 L444.99,8.03 L447.49,7.79 L449.99,7.58 L452.50,7.40 L455.00,7.23 L457.50,7.09" fill="none" stroke="#a8a8a8" stroke-width="0.5" stroke-linejoin="round" clip-path="url(#c4)"/>
<path d="M332.40,93.30 L334.90,93.30 L337.40,93.30 L339.91,93.30 L342.41,93.29 L344.91,93.24 L347.41,93.07 L349.91,92.66 L352.42,91.88 L354.92,90.62 L357.42,88.81 L359.92,86.44 L362.42,83.54 L364.93,80.18 L367.43,76.45 L369.93,72.45 L372.43,68.28 L374.93,64.03 L377.44,59.80 L379.94,55.63 L382.44,51.60 L384.94,47.74 L387.44,44.08 L389.95,40.64 L392.45,37.43 L394.95,34.46 L397.45,31.71 L399.95,29.19 L402.46,26.89 L404.96,24.79 L407.46,22.88 L409.96,21.16 L412.46,19.60 L414.97,18.19 L417.47,16.92 L419.97,15.78 L422.47,14.76 L424.97,13.84 L427.48,13.02 L429.98,12.28 L432.48,11.62 L434.98,11.03 L437.48,10.50 L439.99,10.03 L442.49,9.61 L444.99,9.23 L447.49,8.89 L449.99,8.59 L452.50,8.32 L455.00,8.08 L457.50,7.87" fill="none" stroke="#a8a8a8" stroke-width="0.5" stroke-linejoin="round" clip-path="url(#c4)"/>
<path d="M332.40,93.30 L334.90,93.30 L337.40,93.30 L339.91,93.30 L342.41,93.29 L344.91,93.23 L347.41,93.06 L349.91,92.66 L352.42,91.92 L354.92,90.75 L357.42,89.11 L359.92,86.96 L362.42,84.36 L364.93,81.34 L367.43,77.98 L369.93,74.36 L372.43,70.57 L374.93,66.69 L377.44,62.78 L379.94,58.90 L382.44,55.10 L384.94,51.43 L387.44,47.91 L389.95,44.56 L392.45,41.40 L394.95,38.43 L397.45,35.66 L399.95,33.08 L402.46,30.70 L404.96,28.50 L407.46,26.47 L409.96,24.61 L412.46,22.91 L414.97,21.35 L417.47,19.93 L419.97,18.63 L422.47,17.46 L424.97,16.39 L427.48,15.41 L429.98,14.53 L432.48,13.73 L434.98,13.01 L437.48,12.35 L439.99,11.76 L442.49,11.22 L444.99,10.73 L447.49,10.29 L449.99,9.89 L452.50,9.53 L455.00,9.20 L457.50,8.90" fill="none" stroke="#a8a8a8" stroke-width="0.5" stroke-linejoin="round" clip-path="url(#c4)"/>
<path d="M332.40,93.30 L334.90,93.30 L337.40,93.30 L339.91,93.30 L342.41,93.29 L344.91,93.24 L347.41,93.08 L349.91,92.72 L352.42,92.09 L354.92,91.09 L357.42,89.69 L359.92,87.87 L362.42,85.65 L364.93,83.06 L367.43,80.16 L369.93,77.01 L372.43,73.67 L374.93,70.22 L377.44,66.69 L379.94,63.16 L382.44,59.65 L384.94,56.21 L387.44,52.87 L389.95,49.65 L392.45,46.57 L394.95,43.63 L397.45,40.85 L399.95,38.23 L402.46,35.77 L404.96,33.46 L407.46,31.31 L409.96,29.31 L412.46,27.45 L414.97,25.73 L417.47,24.14 L419.97,22.66 L422.47,21.30 L424.97,20.05 L427.48,18.90 L429.98,17.84 L432.48,16.87 L434.98,15.97 L437.48,15.15 L439.99,14.40 L442.49,13.71 L444.99,13.07 L447.49,12.49 L449.99,11.96 L452.50,11.47 L455.00,11.02 L457.50,10.61" fill="none" stroke="#a8a8a8" stroke-width="0.5" stroke-linejoin="round" clip-path="url(#c4)"/>
<path d="M332.40,93.30 L334.90,93.30 L337.40,93.30 L339.91,93.30 L342.41,93.29 L344.91,93.24 L347.41,93.11 L349.91,92.82 L352.42,92.31 L354.92,91.51 L357.42,90.38 L359.92,88.91 L362.42,87.10 L364.93,84.97 L367.43,82.55 L369.93,79.90 L372.43,77.06 L374.93,74.07 L377.44,70.99 L379.94,67.85 L382.44,64.69 L384.94,61.55 L387.44,58.46 L389.95,55.43 L392.45,52.49 L394.95,49.65 L397.45,46.92 L399.95,44.31 L402.46,41.82 L404.96,39.46 L407.46,37.23 L409.96,35.12 L412.46,33.13 L414.97,31.26 L417.47,29.51 L419.97,27.87 L422.47,26.33 L424.97,24.90 L427.48,23.56 L429.98,22.32 L432.48,21.16 L434.98,20.08 L437.48,19.07 L439.99,18.14 L442.49,17.27 L444.99,16.47 L447.49,15.72 L449.99,15.02 L452.50,14.38 L455.00,13.78 L457.50,13.23" fill="none" stroke="#a8a8a8" stroke-width="0.5" stroke-linejoin="round" clip-path="url(#c4)"/>
<path d="M332.40,93.30 L334.90,93.30 L337.40,93.30 L339.91,93.30 L342.41,93.30 L344.91,93.29 L347.41,93.24 L349.91,93.06 L352.42,92.59 L354.92,91.64 L357.42,90.04 L359.92,87.67 L362.42,84.49 L364.93,80.56 L367.43,76.00 L369.93,70.98 L372.43,65.66 L374.93,60.24 L377.44,54.86 L379.94,49.65 L382.44,44.70 L384.94,40.09 L387.44,35.85 L389.95,32.00 L392.45,28.54 L394.95,25.46 L397.45,22.74 L399.95,20.36 L402.46,18.28 L404.96,16.48 L407.46,14.93 L409.96,13.59 L412.46,12.44 L414.97,11.46 L417.47,10.63 L419.97,9.92 L422.47,9.31 L424.97,8.80 L427.48,8.36 L429.98,8.00 L432.48,7.69 L434.98,7.42 L437.48,7.20 L439.99,7.02 L442.49,6.86 L444.99,6.73 L447.49,6.61 L449.99,6.52 L452.50,6.44 L455.00,6.37 L457.50,6.31" fill="none" stroke="#a8a8a8" stroke-width="0.5" stroke-linejoin="round" clip-path="url(#c4)"/>
<path d="M332.40,93.30 L334.90,93.30 L337.40,93.30 L339.91,93.30 L342.41,93.28 L344.91,93.16 L347.41,92.77 L349.91,91.89 L352.42,90.32 L354.92,87.93 L357.42,84.72 L359.92,80.76 L362.42,76.22 L364.93,71.25 L367.43,66.06 L369.93,60.80 L372.43,55.62 L374.93,50.62 L377.44,45.89 L379.94,41.47 L382.44,37.41 L384.94,33.70 L387.44,30.35 L389.95,27.35 L392.45,24.67 L394.95,22.29 L397.45,20.20 L399.95,18.35 L402.46,16.74 L404.96,15.32 L407.46,14.09 L409.96,13.02 L412.46,12.08 L414.97,11.27 L417.47,10.57 L419.97,9.96 L422.47,9.43 L424.97,8.98 L427.48,8.58 L429.98,8.24 L432.48,7.94 L434.98,7.69 L437.48,7.46 L439.99,7.27 L442.49,7.11 L444.99,6.96 L447.49,6.84 L449.99,6.73 L452.50,6.63 L455.00,6.55 L457.50,6.48" fill="none" stroke="#a8a8a8" stroke-width="0.5" stroke-linejoin="round" clip-path="url(#c4)"/>
<path d="M332.40,93.30 L334.90,93.30 L337.40,93.30 L339.91,93.30 L342.41,93.30 L344.91,93.28 L347.41,93.19 L349.91,92.92 L352.42,92.34 L354.92,91.30 L357.42,89.67 L359.92,87.41 L362.42,84.50 L364.93,81.01 L367.43,77.04 L369.93,72.70 L372.43,68.12 L374.93,63.42 L377.44,58.72 L379.94,54.10 L382.44,49.65 L384.94,45.41 L387.44,41.43 L389.95,37.72 L392.45,34.31 L394.95,31.18 L397.45,28.34 L399.95,25.78 L402.46,23.47 L404.96,21.41 L407.46,19.56 L409.96,17.93 L412.46,16.48 L414.97,15.19 L417.47,14.06 L419.97,13.06 L422.47,12.19 L424.97,11.42 L427.48,10.74 L429.98,10.15 L432.48,9.63 L434.98,9.17 L437.48,8.78 L439.99,8.43 L442.49,8.13 L444.99,7.86 L447.49,7.63 L449.99,7.43 L452.50,7.25 L455.00,7.09 L457.50,6.96" fill="none" stroke="#a8a8a8" stroke-width="0.5" stroke-linejoin="round" clip-path="url(#c4)"/>
<path d="M332.40,93.30 L334.90,93.30 L337.40,93.30 L339.91,93.30 L342.41,93.30 L344.91,93.28 L347.41,93.21 L349.91,93.02 L352.42,92.60 L354.92,91.85 L357.42,90.66 L359.92,88.98 L362.42,86.80 L364.93,84.12 L367.43,81.00 L369.93,77.51 L372.43,73.73 L374.93,69.76 L377.44,65.68 L379.94,61.56 L382.44,57.49 L384.94,53.50 L387.44,49.65 L389.95,45.97 L392.45,42.49 L394.95,39.21 L397.45,36.15 L399.95,33.32 L402.46,30.70 L404.96,28.29 L407.46,26.09 L409.96,24.08 L412.46,22.25 L414.97,20.59 L417.47,19.09 L419.97,17.74 L422.47,16.52 L424.97,15.42 L427.48,14.43 L429.98,13.54 L432.48,12.75 L434.98,12.04 L437.48,11.40 L439.99,10.83 L442.49,10.32 L444.99,9.86 L447.49,9.45 L449.99,9.09 L452.50,8.76 L455.00,8.47 L457.50,8.21" fill="none" stroke="#a8a8a8" stroke-width="0.5" stroke-linejoin="round" clip-path="url(#c4)"/>
<path d="M332.40,93.30 L334.90,93.30 L337.40,93.30 L339.91,93.28 L342.41,93.16 L344.91,92.75 L347.41,91.84 L349.91,90.24 L352.42,87.89 L354.92,84.82 L357.42,81.13 L359.92,76.96 L362.42,72.47 L364.93,67.81 L367.43,63.10 L369.93,58.45 L372.43,53.95 L374.93,49.65 L377.44,45.60 L379.94,41.81 L382.44,38.31 L384.94,35.08 L387.44,32.14 L389.95,29.45 L392.45,27.02 L394.95,24.82 L397.45,22.84 L399.95,21.06 L402.46,19.47 L404.96,18.04 L407.46,16.76 L409.96,15.61 L412.46,14.59 L414.97,13.68 L417.47,12.86 L419.97,12.14 L422.47,11.49 L424.97,10.91 L427.48,10.39 L429.98,9.94 L432.48,9.53 L434.98,9.16 L437.48,8.83 L439.99,8.54 L442.49,8.28 L444.99,8.05 L447.49,7.84 L449.99,7.66 L452.50,7.49 L455.00,7.34 L457.50,7.21" fill="none" stroke="#ff3636" stroke-width="1.15" stroke-linejoin="round" clip-path="url(#c4)"/>
<rect x="332.40" y="6.00" width="125.10" height="87.30" fill="none" stroke="#c0c0c0" stroke-width="0.55"/>
<rect x="399.20" y="75.20" width="55.10" height="15.40" fill="#fff" stroke="#d2d2d2" stroke-width="0.6"/>
<line x1="400.30" y1="79.00" x2="407.50" y2="79.00" stroke="#aaa" stroke-width="0.5"/>
<text x="408.40" y="79.00" font-family='"Liberation Serif", serif' font-size="6.8" dominant-baseline="central" fill="#333" textLength="44.16" lengthAdjust="spacingAndGlyphs">Individual Models</text>
<line x1="400.30" y1="86.00" x2="407.50" y2="86.00" stroke="#ff3636" stroke-width="1.5"/>
<text x="408.40" y="86.00" font-family='"Liberation Serif", serif' font-size="6.8" dominant-baseline="central" fill="#333" textLength="40.00" lengthAdjust="spacingAndGlyphs">All LHS Models</text>
<text x="317.80" y="50.05" font-family='"Liberation Serif", serif' font-size="6.6" text-anchor="middle" dominant-baseline="central" fill="#666" transform="rotate(-90 317.80 50.05)" textLength="69" lengthAdjust="spacingAndGlyphs">Probability of Exceedance</text>
<text x="394.95" y="105.90" font-family='"Liberation Serif", serif' font-size="6.6" text-anchor="middle" dominant-baseline="central" fill="#666"><tspan font-style="italic">S</tspan><tspan font-size="4.62" dy="1">a</tspan><tspan dy="-1"> [g]</tspan></text>
<text x="312.40" y="118.30" font-family='"Liberation Serif", serif' font-size="7.6" dominant-baseline="central" fill="#222" stroke="#222" stroke-width="0.18" textLength="150.2" lengthAdjust="spacingAndGlyphs"><tspan font-weight="bold">(c)</tspan> Uncertainty in fragility curves with LHS-</text>
<text x="312.40" y="126.90" font-family='"Liberation Serif", serif' font-size="7.6" dominant-baseline="central" fill="#222" stroke="#222" stroke-width="0.18" textLength="75.8" lengthAdjust="spacingAndGlyphs">based sampling; 4-story</text>
<clipPath id="c5"><rect x="24.50" y="143.20" width="125.70" height="89.80"/></clipPath>
<rect x="24.50" y="143.20" width="125.70" height="89.80" fill="#fff"/>
<text x="24.50" y="239.80" font-size="6.1" text-anchor="middle" dominant-baseline="central" fill="#383838" textLength="7.92" lengthAdjust="spacingAndGlyphs">0.5</text>
<text x="55.92" y="239.80" font-size="6.1" text-anchor="middle" dominant-baseline="central" fill="#383838" textLength="3.17" lengthAdjust="spacingAndGlyphs">1</text>
<text x="87.35" y="239.80" font-size="6.1" text-anchor="middle" dominant-baseline="central" fill="#383838" textLength="7.92" lengthAdjust="spacingAndGlyphs">1.5</text>
<text x="118.77" y="239.80" font-size="6.1" text-anchor="middle" dominant-baseline="central" fill="#383838" textLength="3.17" lengthAdjust="spacingAndGlyphs">2</text>
<text x="150.20" y="239.80" font-size="6.1" text-anchor="middle" dominant-baseline="central" fill="#383838" textLength="7.92" lengthAdjust="spacingAndGlyphs">2.5</text>
<text x="22.80" y="233.00" font-size="6.1" text-anchor="end" dominant-baseline="central" fill="#383838" dy="1.25" textLength="7.92" lengthAdjust="spacingAndGlyphs">0.3</text>
<text x="22.80" y="210.55" font-size="6.1" text-anchor="end" dominant-baseline="central" fill="#383838" dy="1.25" textLength="11.09" lengthAdjust="spacingAndGlyphs">0.35</text>
<text x="22.80" y="188.10" font-size="6.1" text-anchor="end" dominant-baseline="central" fill="#383838" dy="1.25" textLength="7.92" lengthAdjust="spacingAndGlyphs">0.4</text>
<text x="22.80" y="165.65" font-size="6.1" text-anchor="end" dominant-baseline="central" fill="#383838" dy="1.25" textLength="11.09" lengthAdjust="spacingAndGlyphs">0.45</text>
<text x="22.80" y="143.20" font-size="6.1" text-anchor="end" dominant-baseline="central" fill="#383838" dy="1.25" textLength="7.92" lengthAdjust="spacingAndGlyphs">0.5</text>
<circle cx="46.00" cy="210.90" r="1.75" fill="none" stroke="#7070ff" stroke-width="0.55"/>
<circle cx="57.90" cy="182.00" r="1.75" fill="none" stroke="#7070ff" stroke-width="0.55"/>
<circle cx="63.00" cy="184.00" r="1.75" fill="none" stroke="#7070ff" stroke-width="0.55"/>
<circle cx="71.30" cy="184.80" r="1.75" fill="none" stroke="#7070ff" stroke-width="0.55"/>
<circle cx="73.00" cy="184.80" r="1.75" fill="none" stroke="#7070ff" stroke-width="0.55"/>
<circle cx="63.90" cy="195.90" r="1.75" fill="none" stroke="#7070ff" stroke-width="0.55"/>
<circle cx="79.70" cy="163.30" r="1.75" fill="none" stroke="#7070ff" stroke-width="0.55"/>
<circle cx="81.80" cy="177.80" r="1.75" fill="none" stroke="#7070ff" stroke-width="0.55"/>
<circle cx="82.20" cy="177.40" r="1.75" fill="none" stroke="#7070ff" stroke-width="0.55"/>
<circle cx="90.90" cy="182.50" r="1.75" fill="none" stroke="#7070ff" stroke-width="0.55"/>
<circle cx="91.80" cy="188.00" r="1.75" fill="none" stroke="#7070ff" stroke-width="0.55"/>
<circle cx="97.60" cy="185.40" r="1.75" fill="none" stroke="#7070ff" stroke-width="0.55"/>
<circle cx="97.80" cy="189.80" r="1.75" fill="none" stroke="#7070ff" stroke-width="0.55"/>
<circle cx="97.90" cy="184.60" r="1.75" fill="none" stroke="#7070ff" stroke-width="0.55"/>
<circle cx="104.10" cy="183.40" r="1.75" fill="none" stroke="#7070ff" stroke-width="0.55"/>
<circle cx="107.90" cy="181.90" r="1.75" fill="none" stroke="#7070ff" stroke-width="0.55"/>
<circle cx="107.50" cy="185.10" r="1.75" fill="none" stroke="#7070ff" stroke-width="0.55"/>
<circle cx="108.80" cy="189.80" r="1.75" fill="none" stroke="#7070ff" stroke-width="0.55"/>
<circle cx="109.40" cy="170.10" r="1.75" fill="none" stroke="#7070ff" stroke-width="0.55"/>
<circle cx="121.10" cy="178.40" r="1.75" fill="none" stroke="#7070ff" stroke-width="0.55"/>
<circle cx="126.10" cy="178.40" r="1.75" fill="none" stroke="#7070ff" stroke-width="0.55"/>
<circle cx="129.90" cy="170.40" r="1.75" fill="none" stroke="#7070ff" stroke-width="0.55"/>
<circle cx="137.10" cy="175.90" r="1.75" fill="none" stroke="#7070ff" stroke-width="0.55"/>
<circle cx="139.90" cy="172.00" r="1.75" fill="none" stroke="#7070ff" stroke-width="0.55"/>
<circle cx="140.80" cy="181.20" r="1.75" fill="none" stroke="#7070ff" stroke-width="0.55"/>
<rect x="24.50" y="143.20" width="125.70" height="89.80" fill="none" stroke="#c0c0c0" stroke-width="0.55"/>
<text x="6.0" y="188.2" font-family='"Liberation Serif", serif' font-size="6" text-anchor="middle" dominant-baseline="central" fill="#777" font-style="italic" transform="rotate(-90 6.0 188.2)">β</text>
<text x="87.3" y="246.2" font-family='"Liberation Serif", serif' font-size="6" text-anchor="middle" dominant-baseline="central" fill="#777" font-style="italic">θ</text>
<text x="15.40" y="258.30" font-family='"Liberation Serif", serif' font-size="7.6" dominant-baseline="central" fill="#222" stroke="#222" stroke-width="0.18" textLength="125.2" lengthAdjust="spacingAndGlyphs"><tspan font-weight="bold">(d)</tspan> Median-dispersion relation; 4-story</text>
<clipPath id="c6"><rect x="183.10" y="145.20" width="125.10" height="87.80"/></clipPath>
<rect x="183.10" y="145.20" width="125.10" height="87.80" fill="#fff"/>
<line x1="183.10" y1="145.20" x2="183.10" y2="233.00" stroke="#ececec" stroke-width="0.5"/>
<line x1="208.12" y1="145.20" x2="208.12" y2="233.00" stroke="#ececec" stroke-width="0.5"/>
<line x1="233.14" y1="145.20" x2="233.14" y2="233.00" stroke="#ececec" stroke-width="0.5"/>
<line x1="258.16" y1="145.20" x2="258.16" y2="233.00" stroke="#ececec" stroke-width="0.5"/>
<line x1="283.18" y1="145.20" x2="283.18" y2="233.00" stroke="#ececec" stroke-width="0.5"/>
<line x1="308.20" y1="145.20" x2="308.20" y2="233.00" stroke="#ececec" stroke-width="0.5"/>
<line x1="183.10" y1="233.00" x2="308.20" y2="233.00" stroke="#ececec" stroke-width="0.5"/>
<line x1="183.10" y1="215.44" x2="308.20" y2="215.44" stroke="#ececec" stroke-width="0.5"/>
<line x1="183.10" y1="197.88" x2="308.20" y2="197.88" stroke="#ececec" stroke-width="0.5"/>
<line x1="183.10" y1="180.32" x2="308.20" y2="180.32" stroke="#ececec" stroke-width="0.5"/>
<line x1="183.10" y1="162.76" x2="308.20" y2="162.76" stroke="#ececec" stroke-width="0.5"/>
<line x1="183.10" y1="145.20" x2="308.20" y2="145.20" stroke="#ececec" stroke-width="0.5"/>
<text x="183.10" y="239.80" font-size="6.1" text-anchor="middle" dominant-baseline="central" fill="#383838" textLength="3.17" lengthAdjust="spacingAndGlyphs">0</text>
<text x="208.12" y="239.80" font-size="6.1" text-anchor="middle" dominant-baseline="central" fill="#383838" textLength="3.17" lengthAdjust="spacingAndGlyphs">1</text>
<text x="233.14" y="239.80" font-size="6.1" text-anchor="middle" dominant-baseline="central" fill="#383838" textLength="3.17" lengthAdjust="spacingAndGlyphs">2</text>
<text x="258.16" y="239.80" font-size="6.1" text-anchor="middle" dominant-baseline="central" fill="#383838" textLength="3.17" lengthAdjust="spacingAndGlyphs">3</text>
<text x="283.18" y="239.80" font-size="6.1" text-anchor="middle" dominant-baseline="central" fill="#383838" textLength="3.17" lengthAdjust="spacingAndGlyphs">4</text>
<text x="308.20" y="239.80" font-size="6.1" text-anchor="middle" dominant-baseline="central" fill="#383838" textLength="3.17" lengthAdjust="spacingAndGlyphs">5</text>
<text x="181.40" y="233.00" font-size="6.1" text-anchor="end" dominant-baseline="central" fill="#383838" dy="1.25" textLength="3.17" lengthAdjust="spacingAndGlyphs">0</text>
<text x="181.40" y="215.44" font-size="6.1" text-anchor="end" dominant-baseline="central" fill="#383838" dy="1.25" textLength="7.92" lengthAdjust="spacingAndGlyphs">0.2</text>
<text x="181.40" y="197.88" font-size="6.1" text-anchor="end" dominant-baseline="central" fill="#383838" dy="1.25" textLength="7.92" lengthAdjust="spacingAndGlyphs">0.4</text>
<text x="181.40" y="180.32" font-size="6.1" text-anchor="end" dominant-baseline="central" fill="#383838" dy="1.25" textLength="7.92" lengthAdjust="spacingAndGlyphs">0.6</text>
<text x="181.40" y="162.76" font-size="6.1" text-anchor="end" dominant-baseline="central" fill="#383838" dy="1.25" textLength="7.92" lengthAdjust="spacingAndGlyphs">0.8</text>
<text x="181.40" y="145.20" font-size="6.1" text-anchor="end" dominant-baseline="central" fill="#383838" dy="1.25" textLength="3.17" lengthAdjust="spacingAndGlyphs">1</text>
<path d="M183.10,233.00 L185.60,233.00 L188.10,233.00 L190.61,232.98 L193.11,232.82 L195.61,232.31 L198.11,231.17 L200.61,229.22 L203.12,226.41 L205.62,222.81 L208.12,218.56 L210.62,213.85 L213.12,208.86 L215.63,203.78 L218.13,198.73 L220.63,193.83 L223.13,189.15 L225.63,184.76 L228.14,180.68 L230.64,176.92 L233.14,173.50 L235.64,170.39 L238.14,167.58 L240.65,165.07 L243.15,162.81 L245.65,160.80 L248.15,159.01 L250.65,157.43 L253.16,156.02 L255.66,154.77 L258.16,153.67 L260.66,152.69 L263.16,151.83 L265.67,151.07 L268.17,150.39 L270.67,149.80 L273.17,149.28 L275.67,148.82 L278.18,148.41 L280.68,148.05 L283.18,147.73 L285.68,147.45 L288.18,147.20 L290.69,146.98 L293.19,146.78 L295.69,146.61 L298.19,146.46 L300.69,146.32 L303.20,146.20 L305.70,146.09 L308.20,146.00" fill="none" stroke="#8a8a8a" stroke-width="0.6" stroke-opacity="0.6" stroke-linejoin="round" clip-path="url(#c6)"/>
<path d="M183.10,233.00 L185.60,233.00 L188.10,233.00 L190.61,232.99 L193.11,232.90 L195.61,232.54 L198.11,231.67 L200.61,230.08 L203.12,227.67 L205.62,224.43 L208.12,220.49 L210.62,215.99 L213.12,211.12 L215.63,206.07 L218.13,200.98 L220.63,195.98 L223.13,191.16 L225.63,186.60 L228.14,182.34 L230.64,178.40 L233.14,174.78 L235.64,171.50 L238.14,168.53 L240.65,165.87 L243.15,163.48 L245.65,161.35 L248.15,159.46 L250.65,157.78 L253.16,156.29 L255.66,154.98 L258.16,153.82 L260.66,152.79 L263.16,151.89 L265.67,151.10 L268.17,150.40 L270.67,149.79 L273.17,149.25 L275.67,148.77 L278.18,148.35 L280.68,147.98 L283.18,147.66 L285.68,147.38 L288.18,147.13 L290.69,146.90 L293.19,146.71 L295.69,146.54 L298.19,146.39 L300.69,146.25 L303.20,146.14 L305.70,146.03 L308.20,145.94" fill="none" stroke="#8a8a8a" stroke-width="0.6" stroke-opacity="0.6" stroke-linejoin="round" clip-path="url(#c6)"/>
<path d="M183.10,233.00 L185.60,233.00 L188.10,233.00 L190.61,232.98 L193.11,232.85 L195.61,232.38 L198.11,231.31 L200.61,229.44 L203.12,226.69 L205.62,223.12 L208.12,218.88 L210.62,214.14 L213.12,209.10 L215.63,203.94 L218.13,198.80 L220.63,193.82 L223.13,189.06 L225.63,184.59 L228.14,180.44 L230.64,176.63 L233.14,173.15 L235.64,170.01 L238.14,167.18 L240.65,164.65 L243.15,162.38 L245.65,160.37 L248.15,158.58 L250.65,157.00 L253.16,155.61 L255.66,154.37 L258.16,153.28 L260.66,152.33 L263.16,151.48 L265.67,150.74 L268.17,150.09 L270.67,149.51 L273.17,149.01 L275.67,148.56 L278.18,148.17 L280.68,147.83 L283.18,147.52 L285.68,147.26 L288.18,147.02 L290.69,146.82 L293.19,146.63 L295.69,146.47 L298.19,146.33 L300.69,146.20 L303.20,146.09 L305.70,145.99 L308.20,145.91" fill="none" stroke="#8a8a8a" stroke-width="0.6" stroke-opacity="0.6" stroke-linejoin="round" clip-path="url(#c6)"/>
<path d="M183.10,233.00 L185.60,233.00 L188.10,233.00 L190.61,232.97 L193.11,232.80 L195.61,232.26 L198.11,231.10 L200.61,229.17 L203.12,226.43 L205.62,222.95 L208.12,218.87 L210.62,214.36 L213.12,209.59 L215.63,204.71 L218.13,199.86 L220.63,195.13 L223.13,190.60 L225.63,186.32 L228.14,182.32 L230.64,178.62 L233.14,175.22 L235.64,172.12 L238.14,169.30 L240.65,166.75 L243.15,164.45 L245.65,162.38 L248.15,160.53 L250.65,158.87 L253.16,157.39 L255.66,156.06 L258.16,154.88 L260.66,153.83 L263.16,152.90 L265.67,152.07 L268.17,151.33 L270.67,150.67 L273.17,150.08 L275.67,149.56 L278.18,149.10 L280.68,148.69 L283.18,148.32 L285.68,147.99 L288.18,147.70 L290.69,147.44 L293.19,147.21 L295.69,147.00 L298.19,146.82 L300.69,146.66 L303.20,146.51 L305.70,146.38 L308.20,146.26" fill="none" stroke="#8a8a8a" stroke-width="0.6" stroke-opacity="0.6" stroke-linejoin="round" clip-path="url(#c6)"/>
<path d="M183.10,233.00 L185.60,233.00 L188.10,233.00 L190.61,232.99 L193.11,232.91 L195.61,232.57 L198.11,231.71 L200.61,230.09 L203.12,227.58 L205.62,224.18 L208.12,220.01 L210.62,215.24 L213.12,210.09 L215.63,204.75 L218.13,199.39 L220.63,194.16 L223.13,189.16 L225.63,184.46 L228.14,180.10 L230.64,176.11 L233.14,172.49 L235.64,169.22 L238.14,166.30 L240.65,163.70 L243.15,161.40 L245.65,159.36 L248.15,157.58 L250.65,156.00 L253.16,154.63 L255.66,153.42 L258.16,152.37 L260.66,151.46 L263.16,150.66 L265.67,149.96 L268.17,149.35 L270.67,148.82 L273.17,148.36 L275.67,147.96 L278.18,147.62 L280.68,147.31 L283.18,147.05 L285.68,146.82 L288.18,146.62 L290.69,146.44 L293.19,146.29 L295.69,146.16 L298.19,146.04 L300.69,145.94 L303.20,145.85 L305.70,145.77 L308.20,145.70" fill="none" stroke="#8a8a8a" stroke-width="0.6" stroke-opacity="0.6" stroke-linejoin="round" clip-path="url(#c6)"/>
<path d="M183.10,233.00 L185.60,233.00 L188.10,233.00 L190.61,232.98 L193.11,232.84 L195.61,232.38 L198.11,231.34 L200.61,229.54 L203.12,226.92 L205.62,223.53 L208.12,219.50 L210.62,214.99 L213.12,210.19 L215.63,205.24 L218.13,200.30 L220.63,195.47 L223.13,190.83 L225.63,186.45 L228.14,182.35 L230.64,178.56 L233.14,175.08 L235.64,171.91 L238.14,169.03 L240.65,166.44 L243.15,164.10 L245.65,162.01 L248.15,160.14 L250.65,158.47 L253.16,156.98 L255.66,155.66 L258.16,154.49 L260.66,153.45 L263.16,152.52 L265.67,151.70 L268.17,150.98 L270.67,150.33 L273.17,149.76 L275.67,149.26 L278.18,148.81 L280.68,148.42 L283.18,148.06 L285.68,147.75 L288.18,147.48 L290.69,147.23 L293.19,147.01 L295.69,146.82 L298.19,146.65 L300.69,146.49 L303.20,146.36 L305.70,146.24 L308.20,146.13" fill="none" stroke="#8a8a8a" stroke-width="0.6" stroke-opacity="0.6" stroke-linejoin="round" clip-path="url(#c6)"/>
<path d="M183.10,233.00 L185.60,233.00 L188.10,233.00 L190.61,232.98 L193.11,232.82 L195.61,232.33 L198.11,231.25 L200.61,229.43 L203.12,226.81 L205.62,223.46 L208.12,219.50 L210.62,215.09 L213.12,210.39 L215.63,205.57 L218.13,200.75 L220.63,196.03 L223.13,191.49 L225.63,187.19 L228.14,183.17 L230.64,179.43 L233.14,175.98 L235.64,172.83 L238.14,169.97 L240.65,167.37 L243.15,165.02 L245.65,162.91 L248.15,161.01 L250.65,159.31 L253.16,157.79 L255.66,156.43 L258.16,155.22 L260.66,154.14 L263.16,153.17 L265.67,152.32 L268.17,151.55 L270.67,150.87 L273.17,150.27 L275.67,149.73 L278.18,149.25 L280.68,148.82 L283.18,148.44 L285.68,148.10 L288.18,147.80 L290.69,147.53 L293.19,147.29 L295.69,147.08 L298.19,146.88 L300.69,146.71 L303.20,146.56 L305.70,146.42 L308.20,146.30" fill="none" stroke="#8a8a8a" stroke-width="0.6" stroke-opacity="0.6" stroke-linejoin="round" clip-path="url(#c6)"/>
<path d="M183.10,233.00 L185.60,233.00 L188.10,233.00 L190.61,232.99 L193.11,232.87 L195.61,232.46 L198.11,231.50 L200.61,229.78 L203.12,227.20 L205.62,223.81 L208.12,219.72 L210.62,215.10 L213.12,210.16 L215.63,205.05 L218.13,199.94 L220.63,194.95 L223.13,190.16 L225.63,185.65 L228.14,181.45 L230.64,177.57 L233.14,174.03 L235.64,170.81 L238.14,167.91 L240.65,165.31 L243.15,162.98 L245.65,160.91 L248.15,159.07 L250.65,157.43 L253.16,155.99 L255.66,154.71 L258.16,153.58 L260.66,152.59 L263.16,151.72 L265.67,150.95 L268.17,150.27 L270.67,149.67 L273.17,149.15 L275.67,148.69 L278.18,148.28 L280.68,147.92 L283.18,147.61 L285.68,147.33 L288.18,147.09 L290.69,146.87 L293.19,146.68 L295.69,146.51 L298.19,146.37 L300.69,146.24 L303.20,146.12 L305.70,146.02 L308.20,145.93" fill="none" stroke="#8a8a8a" stroke-width="0.6" stroke-opacity="0.6" stroke-linejoin="round" clip-path="url(#c6)"/>
<path d="M183.10,233.00 L185.60,233.00 L188.10,233.00 L190.61,232.99 L193.11,232.90 L195.61,232.56 L198.11,231.74 L200.61,230.23 L203.12,227.93 L205.62,224.84 L208.12,221.07 L210.62,216.74 L213.12,212.04 L215.63,207.13 L218.13,202.17 L220.63,197.26 L223.13,192.52 L225.63,188.00 L228.14,183.76 L230.64,179.81 L233.14,176.18 L235.64,172.87 L238.14,169.85 L240.65,167.13 L243.15,164.68 L245.65,162.49 L248.15,160.53 L250.65,158.78 L253.16,157.22 L255.66,155.84 L258.16,154.62 L260.66,153.54 L263.16,152.58 L265.67,151.73 L268.17,150.98 L270.67,150.32 L273.17,149.73 L275.67,149.21 L278.18,148.76 L280.68,148.36 L283.18,148.00 L285.68,147.68 L288.18,147.41 L290.69,147.16 L293.19,146.94 L295.69,146.75 L298.19,146.58 L300.69,146.43 L303.20,146.30 L305.70,146.18 L308.20,146.07" fill="none" stroke="#8a8a8a" stroke-width="0.6" stroke-opacity="0.6" stroke-linejoin="round" clip-path="url(#c6)"/>
<path d="M183.10,233.00 L185.60,233.00 L188.10,233.00 L190.61,232.99 L193.11,232.91 L195.61,232.56 L198.11,231.70 L200.61,230.09 L203.12,227.60 L205.62,224.23 L208.12,220.11 L210.62,215.39 L213.12,210.30 L215.63,205.02 L218.13,199.72 L220.63,194.53 L223.13,189.57 L225.63,184.89 L228.14,180.55 L230.64,176.57 L233.14,172.95 L235.64,169.68 L238.14,166.74 L240.65,164.13 L243.15,161.81 L245.65,159.75 L248.15,157.94 L250.65,156.35 L253.16,154.95 L255.66,153.72 L258.16,152.65 L260.66,151.71 L263.16,150.89 L265.67,150.17 L268.17,149.55 L270.67,149.01 L273.17,148.53 L275.67,148.11 L278.18,147.75 L280.68,147.44 L283.18,147.16 L285.68,146.92 L288.18,146.71 L290.69,146.53 L293.19,146.37 L295.69,146.23 L298.19,146.10 L300.69,145.99 L303.20,145.90 L305.70,145.82 L308.20,145.75" fill="none" stroke="#8a8a8a" stroke-width="0.6" stroke-opacity="0.6" stroke-linejoin="round" clip-path="url(#c6)"/>
<path d="M183.10,233.00 L185.60,233.00 L188.10,233.00 L190.61,232.98 L193.11,232.85 L195.61,232.41 L198.11,231.38 L200.61,229.60 L203.12,226.97 L205.62,223.55 L208.12,219.46 L210.62,214.88 L213.12,209.99 L215.63,204.96 L218.13,199.93 L220.63,195.02 L223.13,190.32 L225.63,185.88 L228.14,181.74 L230.64,177.92 L233.14,174.42 L235.64,171.24 L238.14,168.36 L240.65,165.77 L243.15,163.45 L245.65,161.38 L248.15,159.53 L250.65,157.89 L253.16,156.43 L255.66,155.13 L258.16,153.99 L260.66,152.98 L263.16,152.08 L265.67,151.29 L268.17,150.59 L270.67,149.98 L273.17,149.43 L275.67,148.95 L278.18,148.53 L280.68,148.15 L283.18,147.82 L285.68,147.53 L288.18,147.27 L290.69,147.04 L293.19,146.84 L295.69,146.66 L298.19,146.50 L300.69,146.36 L303.20,146.23 L305.70,146.12 L308.20,146.02" fill="none" stroke="#8a8a8a" stroke-width="0.6" stroke-opacity="0.6" stroke-linejoin="round" clip-path="url(#c6)"/>
<path d="M183.10,233.00 L185.60,233.00 L188.10,233.00 L190.61,232.98 L193.11,232.86 L195.61,232.42 L198.11,231.41 L200.61,229.62 L203.12,226.98 L205.62,223.53 L208.12,219.41 L210.62,214.77 L213.12,209.82 L215.63,204.73 L218.13,199.65 L220.63,194.69 L223.13,189.94 L225.63,185.46 L228.14,181.30 L230.64,177.46 L233.14,173.95 L235.64,170.77 L238.14,167.89 L240.65,165.31 L243.15,163.00 L245.65,160.95 L248.15,159.12 L250.65,157.49 L253.16,156.05 L255.66,154.78 L258.16,153.66 L260.66,152.67 L263.16,151.79 L265.67,151.02 L268.17,150.34 L270.67,149.74 L273.17,149.22 L275.67,148.75 L278.18,148.34 L280.68,147.98 L283.18,147.66 L285.68,147.38 L288.18,147.14 L290.69,146.92 L293.19,146.73 L295.69,146.56 L298.19,146.41 L300.69,146.27 L303.20,146.15 L305.70,146.05 L308.20,145.96" fill="none" stroke="#8a8a8a" stroke-width="0.6" stroke-opacity="0.6" stroke-linejoin="round" clip-path="url(#c6)"/>
<path d="M183.10,233.00 L185.60,233.00 L188.10,233.00 L190.61,232.98 L193.11,232.82 L195.61,232.32 L198.11,231.22 L200.61,229.34 L203.12,226.65 L205.62,223.19 L208.12,219.10 L210.62,214.55 L213.12,209.73 L215.63,204.78 L218.13,199.85 L220.63,195.05 L223.13,190.45 L225.63,186.10 L228.14,182.04 L230.64,178.29 L233.14,174.85 L235.64,171.72 L238.14,168.87 L240.65,166.31 L243.15,164.00 L245.65,161.93 L248.15,160.08 L250.65,158.43 L253.16,156.96 L255.66,155.65 L258.16,154.49 L260.66,153.45 L263.16,152.54 L265.67,151.72 L268.17,151.00 L270.67,150.36 L273.17,149.79 L275.67,149.29 L278.18,148.84 L280.68,148.45 L283.18,148.10 L285.68,147.78 L288.18,147.51 L290.69,147.26 L293.19,147.04 L295.69,146.85 L298.19,146.67 L300.69,146.52 L303.20,146.38 L305.70,146.26 L308.20,146.15" fill="none" stroke="#8a8a8a" stroke-width="0.6" stroke-opacity="0.6" stroke-linejoin="round" clip-path="url(#c6)"/>
<path d="M183.10,233.00 L185.60,233.00 L188.10,233.00 L190.61,232.98 L193.11,232.86 L195.61,232.44 L198.11,231.46 L200.61,229.74 L203.12,227.21 L205.62,223.90 L208.12,219.92 L210.62,215.45 L213.12,210.65 L215.63,205.70 L218.13,200.73 L220.63,195.87 L223.13,191.19 L225.63,186.76 L228.14,182.61 L230.64,178.78 L233.14,175.25 L235.64,172.04 L238.14,169.13 L240.65,166.50 L243.15,164.14 L245.65,162.02 L248.15,160.13 L250.65,158.45 L253.16,156.95 L255.66,155.61 L258.16,154.43 L260.66,153.39 L263.16,152.46 L265.67,151.64 L268.17,150.91 L270.67,150.26 L273.17,149.70 L275.67,149.19 L278.18,148.75 L280.68,148.35 L283.18,148.00 L285.68,147.69 L288.18,147.42 L290.69,147.18 L293.19,146.96 L295.69,146.77 L298.19,146.60 L300.69,146.45 L303.20,146.32 L305.70,146.20 L308.20,146.09" fill="none" stroke="#8a8a8a" stroke-width="0.6" stroke-opacity="0.6" stroke-linejoin="round" clip-path="url(#c6)"/>
<path d="M183.10,233.00 L185.60,233.00 L188.10,233.00 L190.61,232.97 L193.11,232.79 L195.61,232.22 L198.11,230.98 L200.61,228.92 L203.12,226.00 L205.62,222.30 L208.12,217.98 L210.62,213.22 L213.12,208.23 L215.63,203.15 L218.13,198.13 L220.63,193.27 L223.13,188.65 L225.63,184.32 L228.14,180.30 L230.64,176.61 L233.14,173.23 L235.64,170.18 L238.14,167.42 L240.65,164.94 L243.15,162.73 L245.65,160.75 L248.15,158.98 L250.65,157.42 L253.16,156.03 L255.66,154.79 L258.16,153.70 L260.66,152.73 L263.16,151.88 L265.67,151.12 L268.17,150.45 L270.67,149.86 L273.17,149.34 L275.67,148.88 L278.18,148.47 L280.68,148.11 L283.18,147.78 L285.68,147.50 L288.18,147.25 L290.69,147.03 L293.19,146.83 L295.69,146.66 L298.19,146.50 L300.69,146.36 L303.20,146.24 L305.70,146.13 L308.20,146.03" fill="none" stroke="#8a8a8a" stroke-width="0.6" stroke-opacity="0.6" stroke-linejoin="round" clip-path="url(#c6)"/>
<path d="M183.10,233.00 L185.60,233.00 L188.10,233.00 L190.61,232.98 L193.11,232.85 L195.61,232.39 L198.11,231.33 L200.61,229.47 L203.12,226.74 L205.62,223.17 L208.12,218.92 L210.62,214.16 L213.12,209.10 L215.63,203.92 L218.13,198.76 L220.63,193.75 L223.13,188.98 L225.63,184.49 L228.14,180.32 L230.64,176.50 L233.14,173.02 L235.64,169.87 L238.14,167.04 L240.65,164.50 L243.15,162.24 L245.65,160.23 L248.15,158.45 L250.65,156.87 L253.16,155.48 L255.66,154.25 L258.16,153.17 L260.66,152.22 L263.16,151.38 L265.67,150.64 L268.17,150.00 L270.67,149.43 L273.17,148.93 L275.67,148.49 L278.18,148.11 L280.68,147.77 L283.18,147.47 L285.68,147.21 L288.18,146.97 L290.69,146.77 L293.19,146.59 L295.69,146.43 L298.19,146.30 L300.69,146.17 L303.20,146.06 L305.70,145.97 L308.20,145.88" fill="none" stroke="#8a8a8a" stroke-width="0.6" stroke-opacity="0.6" stroke-linejoin="round" clip-path="url(#c6)"/>
<path d="M183.10,233.00 L185.60,233.00 L188.10,233.00 L190.61,232.98 L193.11,232.84 L195.61,232.36 L198.11,231.27 L200.61,229.37 L203.12,226.60 L205.62,223.00 L208.12,218.74 L210.62,213.99 L213.12,208.94 L215.63,203.78 L218.13,198.65 L220.63,193.67 L223.13,188.93 L225.63,184.47 L228.14,180.34 L230.64,176.54 L233.14,173.08 L235.64,169.95 L238.14,167.13 L240.65,164.60 L243.15,162.35 L245.65,160.34 L248.15,158.56 L250.65,156.99 L253.16,155.60 L255.66,154.37 L258.16,153.28 L260.66,152.33 L263.16,151.49 L265.67,150.74 L268.17,150.09 L270.67,149.52 L273.17,149.01 L275.67,148.57 L278.18,148.18 L280.68,147.84 L283.18,147.53 L285.68,147.27 L288.18,147.03 L290.69,146.82 L293.19,146.64 L295.69,146.48 L298.19,146.34 L300.69,146.21 L303.20,146.10 L305.70,146.00 L308.20,145.91" fill="none" stroke="#8a8a8a" stroke-width="0.6" stroke-opacity="0.6" stroke-linejoin="round" clip-path="url(#c6)"/>
<path d="M183.10,233.00 L185.60,233.00 L188.10,233.00 L190.61,232.98 L193.11,232.84 L195.61,232.36 L198.11,231.27 L200.61,229.39 L203.12,226.66 L205.62,223.13 L208.12,218.94 L210.62,214.27 L213.12,209.31 L215.63,204.23 L218.13,199.17 L220.63,194.25 L223.13,189.55 L225.63,185.12 L228.14,181.01 L230.64,177.22 L233.14,173.76 L235.64,170.62 L238.14,167.78 L240.65,165.24 L243.15,162.96 L245.65,160.92 L248.15,159.12 L250.65,157.51 L253.16,156.08 L255.66,154.82 L258.16,153.71 L260.66,152.72 L263.16,151.85 L265.67,151.08 L268.17,150.41 L270.67,149.81 L273.17,149.28 L275.67,148.82 L278.18,148.40 L280.68,148.04 L283.18,147.72 L285.68,147.44 L288.18,147.19 L290.69,146.97 L293.19,146.77 L295.69,146.60 L298.19,146.45 L300.69,146.31 L303.20,146.19 L305.70,146.08 L308.20,145.99" fill="none" stroke="#8a8a8a" stroke-width="0.6" stroke-opacity="0.6" stroke-linejoin="round" clip-path="url(#c6)"/>
<path d="M183.10,233.00 L185.60,233.00 L188.10,233.00 L190.61,232.99 L193.11,232.90 L195.61,232.55 L198.11,231.73 L200.61,230.23 L203.12,227.96 L205.62,224.92 L208.12,221.20 L210.62,216.96 L213.12,212.34 L215.63,207.51 L218.13,202.63 L220.63,197.79 L223.13,193.11 L225.63,188.64 L228.14,184.43 L230.64,180.51 L233.14,176.89 L235.64,173.57 L238.14,170.55 L240.65,167.81 L243.15,165.35 L245.65,163.13 L248.15,161.14 L250.65,159.36 L253.16,157.78 L255.66,156.37 L258.16,155.11 L260.66,154.00 L263.16,153.01 L265.67,152.13 L268.17,151.35 L270.67,150.66 L273.17,150.05 L275.67,149.51 L278.18,149.03 L280.68,148.61 L283.18,148.23 L285.68,147.90 L288.18,147.60 L290.69,147.34 L293.19,147.11 L295.69,146.90 L298.19,146.72 L300.69,146.56 L303.20,146.41 L305.70,146.28 L308.20,146.17" fill="none" stroke="#8a8a8a" stroke-width="0.6" stroke-opacity="0.6" stroke-linejoin="round" clip-path="url(#c6)"/>
<path d="M183.10,233.00 L185.60,233.00 L188.10,233.00 L190.61,232.99 L193.11,232.93 L195.61,232.64 L198.11,231.89 L200.61,230.45 L203.12,228.17 L205.62,225.03 L208.12,221.12 L210.62,216.60 L213.12,211.65 L215.63,206.48 L218.13,201.23 L220.63,196.07 L223.13,191.09 L225.63,186.37 L228.14,181.97 L230.64,177.91 L233.14,174.20 L235.64,170.83 L238.14,167.81 L240.65,165.10 L243.15,162.69 L245.65,160.55 L248.15,158.66 L250.65,156.99 L253.16,155.52 L255.66,154.24 L258.16,153.11 L260.66,152.12 L263.16,151.25 L265.67,150.49 L268.17,149.83 L270.67,149.25 L273.17,148.75 L275.67,148.31 L278.18,147.92 L280.68,147.59 L283.18,147.29 L285.68,147.04 L288.18,146.81 L290.69,146.62 L293.19,146.45 L295.69,146.30 L298.19,146.16 L300.69,146.05 L303.20,145.95 L305.70,145.86 L308.20,145.78" fill="none" stroke="#8a8a8a" stroke-width="0.6" stroke-opacity="0.6" stroke-linejoin="round" clip-path="url(#c6)"/>
<path d="M183.10,233.00 L185.60,233.00 L188.10,233.00 L190.61,232.98 L193.11,232.82 L195.61,232.30 L198.11,231.17 L200.61,229.25 L203.12,226.50 L205.62,222.98 L208.12,218.83 L210.62,214.22 L213.12,209.35 L215.63,204.36 L218.13,199.40 L220.63,194.58 L223.13,189.96 L225.63,185.62 L228.14,181.56 L230.64,177.82 L233.14,174.40 L235.64,171.28 L238.14,168.45 L240.65,165.91 L243.15,163.63 L245.65,161.58 L248.15,159.75 L250.65,158.13 L253.16,156.68 L255.66,155.39 L258.16,154.25 L260.66,153.23 L263.16,152.33 L265.67,151.53 L268.17,150.83 L270.67,150.20 L273.17,149.65 L275.67,149.16 L278.18,148.72 L280.68,148.34 L283.18,147.99 L285.68,147.69 L288.18,147.42 L290.69,147.18 L293.19,146.97 L295.69,146.78 L298.19,146.62 L300.69,146.47 L303.20,146.33 L305.70,146.22 L308.20,146.11" fill="none" stroke="#8a8a8a" stroke-width="0.6" stroke-opacity="0.6" stroke-linejoin="round" clip-path="url(#c6)"/>
<path d="M183.10,233.00 L185.60,233.00 L188.10,233.00 L190.61,232.98 L193.11,232.84 L195.61,232.36 L198.11,231.29 L200.61,229.44 L203.12,226.76 L205.62,223.29 L208.12,219.17 L210.62,214.58 L213.12,209.69 L215.63,204.68 L218.13,199.68 L220.63,194.81 L223.13,190.15 L225.63,185.75 L228.14,181.64 L230.64,177.86 L233.14,174.39 L235.64,171.24 L238.14,168.39 L240.65,165.82 L243.15,163.51 L245.65,161.45 L248.15,159.62 L250.65,157.98 L253.16,156.53 L255.66,155.24 L258.16,154.09 L260.66,153.08 L263.16,152.18 L265.67,151.39 L268.17,150.69 L270.67,150.07 L273.17,149.52 L275.67,149.04 L278.18,148.61 L280.68,148.23 L283.18,147.89 L285.68,147.60 L288.18,147.33 L290.69,147.10 L293.19,146.89 L295.69,146.71 L298.19,146.55 L300.69,146.40 L303.20,146.28 L305.70,146.16 L308.20,146.06" fill="none" stroke="#8a8a8a" stroke-width="0.6" stroke-opacity="0.6" stroke-linejoin="round" clip-path="url(#c6)"/>
<path d="M183.10,233.00 L185.60,233.00 L188.10,233.00 L190.61,232.99 L193.11,232.91 L195.61,232.58 L198.11,231.74 L200.61,230.18 L203.12,227.76 L205.62,224.48 L208.12,220.46 L210.62,215.86 L213.12,210.86 L215.63,205.67 L218.13,200.44 L220.63,195.31 L223.13,190.39 L225.63,185.73 L228.14,181.40 L230.64,177.41 L233.14,173.77 L235.64,170.47 L238.14,167.51 L240.65,164.85 L243.15,162.49 L245.65,160.39 L248.15,158.54 L250.65,156.90 L253.16,155.46 L255.66,154.19 L258.16,153.08 L260.66,152.11 L263.16,151.25 L265.67,150.51 L268.17,149.85 L270.67,149.28 L273.17,148.78 L275.67,148.34 L278.18,147.96 L280.68,147.62 L283.18,147.33 L285.68,147.07 L288.18,146.85 L290.69,146.65 L293.19,146.48 L295.69,146.33 L298.19,146.19 L300.69,146.08 L303.20,145.97 L305.70,145.88 L308.20,145.81" fill="none" stroke="#8a8a8a" stroke-width="0.6" stroke-opacity="0.6" stroke-linejoin="round" clip-path="url(#c6)"/>
<path d="M183.10,233.00 L185.60,233.00 L188.10,233.00 L190.61,232.99 L193.11,232.90 L195.61,232.57 L198.11,231.72 L200.61,230.16 L203.12,227.75 L205.62,224.51 L208.12,220.53 L210.62,215.98 L213.12,211.05 L215.63,205.92 L218.13,200.75 L220.63,195.68 L223.13,190.79 L225.63,186.18 L228.14,181.87 L230.64,177.90 L233.14,174.26 L235.64,170.97 L238.14,167.99 L240.65,165.33 L243.15,162.95 L245.65,160.84 L248.15,158.96 L250.65,157.30 L253.16,155.84 L255.66,154.55 L258.16,153.41 L260.66,152.41 L263.16,151.54 L265.67,150.77 L268.17,150.09 L270.67,149.50 L273.17,148.98 L275.67,148.53 L278.18,148.13 L280.68,147.78 L283.18,147.47 L285.68,147.20 L288.18,146.97 L290.69,146.76 L293.19,146.58 L295.69,146.42 L298.19,146.27 L300.69,146.15 L303.20,146.04 L305.70,145.95 L308.20,145.86" fill="none" stroke="#8a8a8a" stroke-width="0.6" stroke-opacity="0.6" stroke-linejoin="round" clip-path="url(#c6)"/>
<path d="M183.10,233.00 L185.60,233.00 L188.10,233.00 L190.61,232.99 L193.11,232.90 L195.61,232.57 L198.11,231.74 L200.61,230.22 L203.12,227.89 L205.62,224.76 L208.12,220.91 L210.62,216.51 L213.12,211.73 L215.63,206.75 L218.13,201.70 L220.63,196.73 L223.13,191.94 L225.63,187.38 L228.14,183.10 L230.64,179.14 L233.14,175.50 L235.64,172.19 L238.14,169.19 L240.65,166.48 L243.15,164.05 L245.65,161.88 L248.15,159.95 L250.65,158.23 L253.16,156.71 L255.66,155.36 L258.16,154.16 L260.66,153.11 L263.16,152.18 L265.67,151.36 L268.17,150.64 L270.67,150.00 L273.17,149.44 L275.67,148.95 L278.18,148.51 L280.68,148.13 L283.18,147.79 L285.68,147.50 L288.18,147.23 L290.69,147.00 L293.19,146.80 L295.69,146.62 L298.19,146.46 L300.69,146.32 L303.20,146.19 L305.70,146.08 L308.20,145.99" fill="none" stroke="#8a8a8a" stroke-width="0.6" stroke-opacity="0.6" stroke-linejoin="round" clip-path="url(#c6)"/>
<path d="M183.10,233.00 L185.60,233.00 L188.10,233.00 L190.61,232.98 L193.11,232.87 L195.61,232.45 L198.11,231.49 L200.61,229.78 L203.12,227.24 L205.62,223.90 L208.12,219.89 L210.62,215.37 L213.12,210.52 L215.63,205.51 L218.13,200.49 L220.63,195.57 L223.13,190.85 L225.63,186.38 L228.14,182.21 L230.64,178.35 L233.14,174.82 L235.64,171.60 L238.14,168.68 L240.65,166.06 L243.15,163.71 L245.65,161.61 L248.15,159.73 L250.65,158.06 L253.16,156.58 L255.66,155.27 L258.16,154.11 L260.66,153.08 L263.16,152.17 L265.67,151.37 L268.17,150.66 L270.67,150.03 L273.17,149.48 L275.67,148.99 L278.18,148.56 L280.68,148.18 L283.18,147.85 L285.68,147.55 L288.18,147.29 L290.69,147.05 L293.19,146.85 L295.69,146.67 L298.19,146.51 L300.69,146.36 L303.20,146.24 L305.70,146.13 L308.20,146.03" fill="none" stroke="#8a8a8a" stroke-width="0.6" stroke-opacity="0.6" stroke-linejoin="round" clip-path="url(#c6)"/>
<path d="M183.10,233.00 L185.60,233.00 L188.10,233.00 L190.61,232.99 L193.11,232.90 L195.61,232.55 L198.11,231.70 L200.61,230.12 L203.12,227.72 L205.62,224.49 L208.12,220.54 L210.62,216.04 L213.12,211.16 L215.63,206.09 L218.13,200.98 L220.63,195.96 L223.13,191.13 L225.63,186.55 L228.14,182.27 L230.64,178.32 L233.14,174.70 L235.64,171.41 L238.14,168.44 L240.65,165.77 L243.15,163.38 L245.65,161.25 L248.15,159.36 L250.65,157.68 L253.16,156.19 L255.66,154.88 L258.16,153.73 L260.66,152.71 L263.16,151.81 L265.67,151.02 L268.17,150.33 L270.67,149.72 L273.17,149.18 L275.67,148.71 L278.18,148.30 L280.68,147.94 L283.18,147.62 L285.68,147.33 L288.18,147.09 L290.69,146.87 L293.19,146.68 L295.69,146.51 L298.19,146.36 L300.69,146.23 L303.20,146.11 L305.70,146.01 L308.20,145.92" fill="none" stroke="#8a8a8a" stroke-width="0.6" stroke-opacity="0.6" stroke-linejoin="round" clip-path="url(#c6)"/>
<path d="M183.10,233.00 L185.60,233.00 L188.10,233.00 L190.61,232.99 L193.11,232.88 L195.61,232.48 L198.11,231.56 L200.61,229.89 L203.12,227.41 L205.62,224.12 L208.12,220.15 L210.62,215.66 L213.12,210.83 L215.63,205.83 L218.13,200.80 L220.63,195.87 L223.13,191.13 L225.63,186.64 L228.14,182.44 L230.64,178.56 L233.14,175.00 L235.64,171.76 L238.14,168.82 L240.65,166.18 L243.15,163.80 L245.65,161.68 L248.15,159.79 L250.65,158.11 L253.16,156.62 L255.66,155.30 L258.16,154.13 L260.66,153.09 L263.16,152.18 L265.67,151.37 L268.17,150.66 L270.67,150.03 L273.17,149.47 L275.67,148.99 L278.18,148.55 L280.68,148.17 L283.18,147.83 L285.68,147.54 L288.18,147.28 L290.69,147.04 L293.19,146.84 L295.69,146.66 L298.19,146.50 L300.69,146.35 L303.20,146.23 L305.70,146.12 L308.20,146.02" fill="none" stroke="#8a8a8a" stroke-width="0.6" stroke-opacity="0.6" stroke-linejoin="round" clip-path="url(#c6)"/>
<path d="M183.10,233.00 L185.60,233.00 L188.10,233.00 L190.61,232.98 L193.11,232.84 L195.61,232.38 L198.11,231.34 L200.61,229.56 L203.12,226.98 L205.62,223.64 L208.12,219.66 L210.62,215.21 L213.12,210.46 L215.63,205.58 L218.13,200.69 L220.63,195.90 L223.13,191.30 L225.63,186.94 L228.14,182.86 L230.64,179.08 L233.14,175.60 L235.64,172.42 L238.14,169.53 L240.65,166.92 L243.15,164.57 L245.65,162.46 L248.15,160.57 L250.65,158.88 L253.16,157.37 L255.66,156.02 L258.16,154.83 L260.66,153.76 L263.16,152.82 L265.67,151.98 L268.17,151.23 L270.67,150.57 L273.17,149.98 L275.67,149.46 L278.18,149.00 L280.68,148.59 L283.18,148.22 L285.68,147.90 L288.18,147.61 L290.69,147.35 L293.19,147.13 L295.69,146.92 L298.19,146.74 L300.69,146.58 L303.20,146.44 L305.70,146.31 L308.20,146.20" fill="none" stroke="#8a8a8a" stroke-width="0.6" stroke-opacity="0.6" stroke-linejoin="round" clip-path="url(#c6)"/>
<path d="M183.10,233.00 L185.60,233.00 L188.10,233.00 L190.61,232.99 L193.11,232.90 L195.61,232.55 L198.11,231.68 L200.61,230.07 L203.12,227.61 L205.62,224.31 L208.12,220.28 L210.62,215.68 L213.12,210.72 L215.63,205.56 L218.13,200.37 L220.63,195.29 L223.13,190.41 L225.63,185.80 L228.14,181.50 L230.64,177.55 L233.14,173.93 L235.64,170.66 L238.14,167.71 L240.65,165.06 L243.15,162.71 L245.65,160.61 L248.15,158.76 L250.65,157.12 L253.16,155.67 L255.66,154.40 L258.16,153.28 L260.66,152.29 L263.16,151.43 L265.67,150.67 L268.17,150.01 L270.67,149.42 L273.17,148.91 L275.67,148.46 L278.18,148.07 L280.68,147.73 L283.18,147.43 L285.68,147.16 L288.18,146.93 L290.69,146.73 L293.19,146.55 L295.69,146.39 L298.19,146.25 L300.69,146.13 L303.20,146.02 L305.70,145.93 L308.20,145.85" fill="none" stroke="#8a8a8a" stroke-width="0.6" stroke-opacity="0.6" stroke-linejoin="round" clip-path="url(#c6)"/>
<path d="M183.10,233.00 L185.60,233.00 L188.10,233.00 L190.61,232.98 L193.11,232.84 L195.61,232.38 L198.11,231.34 L200.61,229.55 L203.12,226.94 L205.62,223.56 L208.12,219.54 L210.62,215.04 L213.12,210.23 L215.63,205.29 L218.13,200.35 L220.63,195.52 L223.13,190.89 L225.63,186.50 L228.14,182.40 L230.64,178.61 L233.14,175.13 L235.64,171.95 L238.14,169.07 L240.65,166.47 L243.15,164.14 L245.65,162.04 L248.15,160.17 L250.65,158.50 L253.16,157.01 L255.66,155.68 L258.16,154.51 L260.66,153.46 L263.16,152.54 L265.67,151.72 L268.17,150.99 L270.67,150.35 L273.17,149.77 L275.67,149.27 L278.18,148.82 L280.68,148.42 L283.18,148.07 L285.68,147.76 L288.18,147.48 L290.69,147.24 L293.19,147.02 L295.69,146.82 L298.19,146.65 L300.69,146.50 L303.20,146.36 L305.70,146.24 L308.20,146.13" fill="none" stroke="#8a8a8a" stroke-width="0.6" stroke-opacity="0.6" stroke-linejoin="round" clip-path="url(#c6)"/>
<path d="M183.10,233.00 L185.60,233.00 L188.10,233.00 L190.61,232.99 L193.11,232.90 L195.61,232.54 L198.11,231.69 L200.61,230.12 L203.12,227.75 L205.62,224.57 L208.12,220.69 L210.62,216.27 L213.12,211.47 L215.63,206.48 L218.13,201.45 L220.63,196.50 L223.13,191.72 L225.63,187.18 L228.14,182.94 L230.64,179.00 L233.14,175.39 L235.64,172.09 L238.14,169.11 L240.65,166.42 L243.15,164.01 L245.65,161.85 L248.15,159.93 L250.65,158.22 L253.16,156.71 L255.66,155.37 L258.16,154.18 L260.66,153.13 L263.16,152.20 L265.67,151.38 L268.17,150.66 L270.67,150.03 L273.17,149.47 L275.67,148.97 L278.18,148.54 L280.68,148.15 L283.18,147.82 L285.68,147.52 L288.18,147.25 L290.69,147.02 L293.19,146.82 L295.69,146.64 L298.19,146.48 L300.69,146.33 L303.20,146.21 L305.70,146.10 L308.20,146.00" fill="none" stroke="#8a8a8a" stroke-width="0.6" stroke-opacity="0.6" stroke-linejoin="round" clip-path="url(#c6)"/>
<path d="M183.10,233.00 L185.60,233.00 L188.10,233.00 L190.61,232.98 L193.11,232.84 L195.61,232.37 L198.11,231.31 L200.61,229.49 L203.12,226.86 L205.62,223.45 L208.12,219.40 L210.62,214.87 L213.12,210.06 L215.63,205.11 L218.13,200.16 L220.63,195.33 L223.13,190.70 L225.63,186.32 L228.14,182.23 L230.64,178.45 L233.14,174.98 L235.64,171.82 L238.14,168.95 L240.65,166.36 L243.15,164.03 L245.65,161.95 L248.15,160.08 L250.65,158.42 L253.16,156.94 L255.66,155.62 L258.16,154.45 L260.66,153.42 L263.16,152.50 L265.67,151.68 L268.17,150.96 L270.67,150.32 L273.17,149.75 L275.67,149.25 L278.18,148.80 L280.68,148.41 L283.18,148.06 L285.68,147.75 L288.18,147.47 L290.69,147.23 L293.19,147.01 L295.69,146.82 L298.19,146.64 L300.69,146.49 L303.20,146.36 L305.70,146.24 L308.20,146.13" fill="none" stroke="#8a8a8a" stroke-width="0.6" stroke-opacity="0.6" stroke-linejoin="round" clip-path="url(#c6)"/>
<path d="M183.10,233.00 L185.60,233.00 L188.10,233.00 L190.61,232.98 L193.11,232.85 L195.61,232.40 L198.11,231.38 L200.61,229.60 L203.12,226.98 L205.62,223.57 L208.12,219.51 L210.62,214.95 L213.12,210.08 L215.63,205.07 L218.13,200.06 L220.63,195.17 L223.13,190.48 L225.63,186.05 L228.14,181.92 L230.64,178.10 L233.14,174.60 L235.64,171.42 L238.14,168.54 L240.65,165.95 L243.15,163.62 L245.65,161.54 L248.15,159.68 L250.65,158.03 L253.16,156.57 L255.66,155.27 L258.16,154.11 L260.66,153.09 L263.16,152.19 L265.67,151.39 L268.17,150.69 L270.67,150.06 L273.17,149.51 L275.67,149.02 L278.18,148.59 L280.68,148.21 L283.18,147.88 L285.68,147.58 L288.18,147.32 L290.69,147.08 L293.19,146.88 L295.69,146.69 L298.19,146.53 L300.69,146.39 L303.20,146.26 L305.70,146.15 L308.20,146.05" fill="none" stroke="#8a8a8a" stroke-width="0.6" stroke-opacity="0.6" stroke-linejoin="round" clip-path="url(#c6)"/>
<path d="M183.10,233.00 L185.60,233.00 L188.10,233.00 L190.61,232.99 L193.11,232.89 L195.61,232.52 L198.11,231.63 L200.61,229.99 L203.12,227.50 L205.62,224.18 L208.12,220.14 L210.62,215.56 L213.12,210.61 L215.63,205.48 L218.13,200.33 L220.63,195.28 L223.13,190.44 L225.63,185.86 L228.14,181.60 L230.64,177.66 L233.14,174.07 L235.64,170.81 L238.14,167.88 L240.65,165.24 L243.15,162.89 L245.65,160.80 L248.15,158.94 L250.65,157.30 L253.16,155.84 L255.66,154.56 L258.16,153.44 L260.66,152.44 L263.16,151.57 L265.67,150.81 L268.17,150.13 L270.67,149.54 L273.17,149.02 L275.67,148.57 L278.18,148.17 L280.68,147.82 L283.18,147.51 L285.68,147.24 L288.18,147.00 L290.69,146.79 L293.19,146.61 L295.69,146.45 L298.19,146.30 L300.69,146.18 L303.20,146.07 L305.70,145.97 L308.20,145.88" fill="none" stroke="#8a8a8a" stroke-width="0.6" stroke-opacity="0.6" stroke-linejoin="round" clip-path="url(#c6)"/>
<path d="M183.10,233.00 L185.60,233.00 L188.10,233.00 L190.61,232.99 L193.11,232.87 L195.61,232.45 L198.11,231.45 L200.61,229.67 L203.12,227.02 L205.62,223.53 L208.12,219.33 L210.62,214.61 L213.12,209.57 L215.63,204.38 L218.13,199.21 L220.63,194.16 L223.13,189.34 L225.63,184.81 L228.14,180.60 L230.64,176.74 L233.14,173.21 L235.64,170.02 L238.14,167.16 L240.65,164.59 L243.15,162.30 L245.65,160.27 L248.15,158.47 L250.65,156.88 L253.16,155.47 L255.66,154.23 L258.16,153.14 L260.66,152.19 L263.16,151.35 L265.67,150.61 L268.17,149.96 L270.67,149.39 L273.17,148.89 L275.67,148.45 L278.18,148.07 L280.68,147.73 L283.18,147.43 L285.68,147.17 L288.18,146.94 L290.69,146.74 L293.19,146.56 L295.69,146.40 L298.19,146.27 L300.69,146.15 L303.20,146.04 L305.70,145.95 L308.20,145.86" fill="none" stroke="#8a8a8a" stroke-width="0.6" stroke-opacity="0.6" stroke-linejoin="round" clip-path="url(#c6)"/>
<path d="M183.10,233.00 L185.60,233.00 L188.10,233.00 L190.61,232.97 L193.11,232.77 L195.61,232.18 L198.11,230.96 L200.61,228.97 L203.12,226.18 L205.62,222.67 L208.12,218.60 L210.62,214.11 L213.12,209.38 L215.63,204.57 L218.13,199.78 L220.63,195.13 L223.13,190.67 L225.63,186.46 L228.14,182.52 L230.64,178.87 L233.14,175.51 L235.64,172.44 L238.14,169.65 L240.65,167.12 L243.15,164.83 L245.65,162.77 L248.15,160.92 L250.65,159.26 L253.16,157.77 L255.66,156.44 L258.16,155.25 L260.66,154.19 L263.16,153.24 L265.67,152.39 L268.17,151.64 L270.67,150.96 L273.17,150.36 L275.67,149.82 L278.18,149.35 L280.68,148.92 L283.18,148.54 L285.68,148.20 L288.18,147.89 L290.69,147.62 L293.19,147.38 L295.69,147.16 L298.19,146.96 L300.69,146.79 L303.20,146.63 L305.70,146.49 L308.20,146.37" fill="none" stroke="#8a8a8a" stroke-width="0.6" stroke-opacity="0.6" stroke-linejoin="round" clip-path="url(#c6)"/>
<path d="M183.10,233.00 L185.60,233.00 L188.10,233.00 L190.61,232.97 L193.11,232.81 L195.61,232.29 L198.11,231.17 L200.61,229.29 L203.12,226.61 L205.62,223.19 L208.12,219.16 L210.62,214.70 L213.12,209.96 L215.63,205.11 L218.13,200.27 L220.63,195.55 L223.13,191.02 L225.63,186.73 L228.14,182.72 L230.64,179.01 L233.14,175.59 L235.64,172.46 L238.14,169.62 L240.65,167.05 L243.15,164.72 L245.65,162.64 L248.15,160.76 L250.65,159.08 L253.16,157.58 L255.66,156.24 L258.16,155.05 L260.66,153.98 L263.16,153.04 L265.67,152.19 L268.17,151.44 L270.67,150.77 L273.17,150.18 L275.67,149.65 L278.18,149.17 L280.68,148.75 L283.18,148.38 L285.68,148.05 L288.18,147.75 L290.69,147.49 L293.19,147.25 L295.69,147.04 L298.19,146.85 L300.69,146.69 L303.20,146.54 L305.70,146.40 L308.20,146.28" fill="none" stroke="#8a8a8a" stroke-width="0.6" stroke-opacity="0.6" stroke-linejoin="round" clip-path="url(#c6)"/>
<path d="M183.10,233.00 L185.60,233.00 L188.10,233.00 L190.61,232.98 L193.11,232.83 L195.61,232.34 L198.11,231.27 L200.61,229.44 L203.12,226.79 L205.62,223.39 L208.12,219.35 L210.62,214.86 L213.12,210.08 L215.63,205.16 L218.13,200.26 L220.63,195.47 L223.13,190.88 L225.63,186.53 L228.14,182.47 L230.64,178.71 L233.14,175.25 L235.64,172.10 L238.14,169.24 L240.65,166.65 L243.15,164.32 L245.65,162.23 L248.15,160.36 L250.65,158.69 L253.16,157.20 L255.66,155.87 L258.16,154.69 L260.66,153.64 L263.16,152.71 L265.67,151.88 L268.17,151.15 L270.67,150.49 L273.17,149.91 L275.67,149.40 L278.18,148.94 L280.68,148.54 L283.18,148.18 L285.68,147.86 L288.18,147.58 L290.69,147.32 L293.19,147.10 L295.69,146.90 L298.19,146.72 L300.69,146.56 L303.20,146.42 L305.70,146.30 L308.20,146.19" fill="none" stroke="#8a8a8a" stroke-width="0.6" stroke-opacity="0.6" stroke-linejoin="round" clip-path="url(#c6)"/>
<path d="M183.10,233.00 L185.60,233.00 L188.10,233.00 L190.61,232.98 L193.11,232.82 L195.61,232.30 L198.11,231.18 L200.61,229.28 L203.12,226.57 L205.62,223.09 L208.12,218.99 L210.62,214.43 L213.12,209.61 L215.63,204.67 L218.13,199.75 L220.63,194.96 L223.13,190.37 L225.63,186.03 L228.14,181.99 L230.64,178.25 L233.14,174.82 L235.64,171.70 L238.14,168.87 L240.65,166.31 L243.15,164.01 L245.65,161.94 L248.15,160.10 L250.65,158.45 L253.16,156.98 L255.66,155.68 L258.16,154.51 L260.66,153.48 L263.16,152.56 L265.67,151.75 L268.17,151.03 L270.67,150.39 L273.17,149.82 L275.67,149.32 L278.18,148.87 L280.68,148.47 L283.18,148.12 L285.68,147.81 L288.18,147.53 L290.69,147.28 L293.19,147.06 L295.69,146.86 L298.19,146.69 L300.69,146.54 L303.20,146.40 L305.70,146.27 L308.20,146.16" fill="none" stroke="#8a8a8a" stroke-width="0.6" stroke-opacity="0.6" stroke-linejoin="round" clip-path="url(#c6)"/>
<path d="M183.10,233.00 L185.60,233.00 L188.10,233.00 L190.61,232.98 L193.11,232.85 L195.61,232.42 L198.11,231.43 L200.61,229.71 L203.12,227.18 L205.62,223.90 L208.12,219.97 L210.62,215.56 L213.12,210.83 L215.63,205.95 L218.13,201.05 L220.63,196.25 L223.13,191.63 L225.63,187.25 L228.14,183.14 L230.64,179.33 L233.14,175.82 L235.64,172.61 L238.14,169.70 L240.65,167.07 L243.15,164.69 L245.65,162.56 L248.15,160.65 L250.65,158.94 L253.16,157.42 L255.66,156.07 L258.16,154.86 L260.66,153.79 L263.16,152.83 L265.67,151.99 L268.17,151.24 L270.67,150.57 L273.17,149.98 L275.67,149.46 L278.18,148.99 L280.68,148.58 L283.18,148.21 L285.68,147.89 L288.18,147.60 L290.69,147.34 L293.19,147.11 L295.69,146.91 L298.19,146.73 L300.69,146.57 L303.20,146.43 L305.70,146.30 L308.20,146.19" fill="none" stroke="#d83030" stroke-width="1.1" stroke-linejoin="round" clip-path="url(#c6)"/>
<rect x="183.10" y="145.20" width="125.10" height="87.80" fill="none" stroke="#c0c0c0" stroke-width="0.55"/>
<rect x="186.00" y="148.20" width="54.90" height="14.70" fill="#fff" stroke="#d2d2d2" stroke-width="0.6"/>
<line x1="187.90" y1="152.40" x2="195.60" y2="152.40" stroke="#999" stroke-width="0.6"/>
<text x="196.60" y="152.40" font-family='"Liberation Serif", serif' font-size="6.8" dominant-baseline="central" fill="#333" textLength="39.17" lengthAdjust="spacingAndGlyphs">Fitted Functions</text>
<line x1="187.90" y1="158.70" x2="195.60" y2="158.70" stroke="#ff3636" stroke-width="1.1"/>
<text x="196.60" y="158.70" font-family='"Liberation Serif", serif' font-size="6.8" dominant-baseline="central" fill="#333" textLength="42.83" lengthAdjust="spacingAndGlyphs">Original Function</text>
<clipPath id="c7"><rect x="251.20" y="181.70" width="48.30" height="39.60"/></clipPath>
<rect x="251.20" y="181.70" width="48.30" height="39.60" fill="#fff"/>
<line x1="268.25" y1="181.70" x2="268.25" y2="221.30" stroke="#ececec" stroke-width="0.5"/>
<line x1="296.66" y1="181.70" x2="296.66" y2="221.30" stroke="#ececec" stroke-width="0.5"/>
<line x1="251.20" y1="221.30" x2="299.50" y2="221.30" stroke="#ececec" stroke-width="0.5"/>
<line x1="251.20" y1="208.10" x2="299.50" y2="208.10" stroke="#ececec" stroke-width="0.5"/>
<line x1="251.20" y1="194.90" x2="299.50" y2="194.90" stroke="#ececec" stroke-width="0.5"/>
<line x1="251.20" y1="181.70" x2="299.50" y2="181.70" stroke="#ececec" stroke-width="0.5"/>
<text x="268.25" y="227.50" font-size="6.1" text-anchor="middle" dominant-baseline="central" fill="#383838" textLength="7.92" lengthAdjust="spacingAndGlyphs">1.6</text>
<text x="296.66" y="227.50" font-size="6.1" text-anchor="middle" dominant-baseline="central" fill="#383838" textLength="7.92" lengthAdjust="spacingAndGlyphs">1.8</text>
<text x="249.50" y="221.30" font-size="6.1" text-anchor="end" dominant-baseline="central" fill="#383838" dy="1.25" textLength="3.17" lengthAdjust="spacingAndGlyphs">0</text>
<text x="249.50" y="208.10" font-size="6.1" text-anchor="end" dominant-baseline="central" fill="#383838" dy="1.25" textLength="3.17" lengthAdjust="spacingAndGlyphs">5</text>
<text x="249.50" y="194.90" font-size="6.1" text-anchor="end" dominant-baseline="central" fill="#383838" dy="1.25" textLength="6.34" lengthAdjust="spacingAndGlyphs">10</text>
<text x="249.50" y="181.70" font-size="6.1" text-anchor="end" dominant-baseline="central" fill="#383838" dy="1.25" textLength="6.34" lengthAdjust="spacingAndGlyphs">15</text>
<path d="M263.40,221.30 L263.40,218.66 L267.00,218.66 L267.00,205.46 L270.50,205.46 L270.50,200.18 L274.00,200.18 L274.00,192.26 L277.00,192.26 L277.00,205.46 L280.50,205.46 L280.50,218.66 L284.00,218.66 L284.00,221.30 Z" fill="#1e1e8c" stroke="#1e1e8c" stroke-width="0.3"/>
<path d="M261.40,220.96 L261.81,220.85 L262.22,220.71 L262.63,220.53 L263.05,220.31 L263.46,220.03 L263.87,219.69 L264.28,219.28 L264.69,218.79 L265.10,218.21 L265.52,217.54 L265.93,216.76 L266.34,215.87 L266.75,214.87 L267.16,213.75 L267.57,212.53 L267.99,211.21 L268.40,209.80 L268.81,208.32 L269.22,206.78 L269.63,205.22 L270.05,203.66 L270.46,202.14 L270.87,200.69 L271.28,199.33 L271.69,198.11 L272.10,197.06 L272.51,196.20 L272.93,195.56 L273.34,195.16 L273.75,195.00 L274.16,195.10 L274.57,195.44 L274.99,196.03 L275.40,196.83 L275.81,197.84 L276.22,199.02 L276.63,200.35 L277.04,201.78 L277.45,203.29 L277.87,204.84 L278.28,206.40 L278.69,207.95 L279.10,209.44 L279.51,210.87 L279.93,212.22 L280.34,213.47 L280.75,214.61 L281.16,215.64 L281.57,216.55 L281.98,217.36 L282.40,218.06 L282.81,218.66 L283.22,219.17 L283.63,219.60 L284.04,219.95 L284.45,220.25 L284.87,220.48 L285.28,220.67 L285.69,220.82 L286.10,220.94" fill="none" stroke="#ff3636" stroke-width="1.0"/>
<line x1="275.2" y1="181.70" x2="275.2" y2="221.30" stroke="#30e030" stroke-width="1.1"/>
<rect x="251.20" y="181.70" width="48.30" height="39.60" fill="none" stroke="#c0c0c0" stroke-width="0.55"/>
<text x="168.50" y="189.50" font-family='"Liberation Serif", serif' font-size="6.6" text-anchor="middle" dominant-baseline="central" fill="#666" transform="rotate(-90 168.50 189.50)" textLength="69" lengthAdjust="spacingAndGlyphs">Probability of Exceedance</text>
<text x="245.65" y="245.60" font-family='"Liberation Serif", serif' font-size="6.6" text-anchor="middle" dominant-baseline="central" fill="#666"><tspan font-style="italic">S</tspan><tspan font-size="4.62" dy="1">a</tspan><tspan dy="-1"> [g]</tspan></text>
<text x="162.00" y="259.30" font-family='"Liberation Serif", serif' font-size="7.6" dominant-baseline="central" fill="#222" stroke="#222" stroke-width="0.18" textLength="150.0" lengthAdjust="spacingAndGlyphs"><tspan font-weight="bold">(e)</tspan> Multiple realizations of fitted fragility func-</text>
<text x="162.00" y="267.80" font-family='"Liberation Serif", serif' font-size="7.6" dominant-baseline="central" fill="#222" stroke="#222" stroke-width="0.18" textLength="42.6" lengthAdjust="spacingAndGlyphs">tions; 4-story</text>
<clipPath id="c8"><rect x="338.70" y="145.30" width="124.50" height="87.70"/></clipPath>
<rect x="338.70" y="145.30" width="124.50" height="87.70" fill="#fff"/>
<line x1="354.26" y1="145.30" x2="354.26" y2="233.00" stroke="#ececec" stroke-width="0.5"/>
<line x1="385.39" y1="145.30" x2="385.39" y2="233.00" stroke="#ececec" stroke-width="0.5"/>
<line x1="416.51" y1="145.30" x2="416.51" y2="233.00" stroke="#ececec" stroke-width="0.5"/>
<line x1="447.64" y1="145.30" x2="447.64" y2="233.00" stroke="#ececec" stroke-width="0.5"/>
<line x1="338.70" y1="233.00" x2="463.20" y2="233.00" stroke="#ececec" stroke-width="0.5"/>
<line x1="338.70" y1="215.46" x2="463.20" y2="215.46" stroke="#ececec" stroke-width="0.5"/>
<line x1="338.70" y1="197.92" x2="463.20" y2="197.92" stroke="#ececec" stroke-width="0.5"/>
<line x1="338.70" y1="180.38" x2="463.20" y2="180.38" stroke="#ececec" stroke-width="0.5"/>
<line x1="338.70" y1="162.84" x2="463.20" y2="162.84" stroke="#ececec" stroke-width="0.5"/>
<line x1="338.70" y1="145.30" x2="463.20" y2="145.30" stroke="#ececec" stroke-width="0.5"/>
<text x="354.26" y="239.80" font-size="6.1" text-anchor="middle" dominant-baseline="central" fill="#383838" textLength="3.17" lengthAdjust="spacingAndGlyphs">1</text>
<text x="385.39" y="239.80" font-size="6.1" text-anchor="middle" dominant-baseline="central" fill="#383838" textLength="3.17" lengthAdjust="spacingAndGlyphs">2</text>
<text x="416.51" y="239.80" font-size="6.1" text-anchor="middle" dominant-baseline="central" fill="#383838" textLength="3.17" lengthAdjust="spacingAndGlyphs">3</text>
<text x="447.64" y="239.80" font-size="6.1" text-anchor="middle" dominant-baseline="central" fill="#383838" textLength="3.17" lengthAdjust="spacingAndGlyphs">4</text>
<text x="337.00" y="233.00" font-size="6.1" text-anchor="end" dominant-baseline="central" fill="#383838" dy="1.25" textLength="3.17" lengthAdjust="spacingAndGlyphs">0</text>
<text x="337.00" y="215.46" font-size="6.1" text-anchor="end" dominant-baseline="central" fill="#383838" dy="1.25" textLength="7.92" lengthAdjust="spacingAndGlyphs">0.2</text>
<text x="337.00" y="197.92" font-size="6.1" text-anchor="end" dominant-baseline="central" fill="#383838" dy="1.25" textLength="7.92" lengthAdjust="spacingAndGlyphs">0.4</text>
<text x="337.00" y="180.38" font-size="6.1" text-anchor="end" dominant-baseline="central" fill="#383838" dy="1.25" textLength="7.92" lengthAdjust="spacingAndGlyphs">0.6</text>
<text x="337.00" y="162.84" font-size="6.1" text-anchor="end" dominant-baseline="central" fill="#383838" dy="1.25" textLength="7.92" lengthAdjust="spacingAndGlyphs">0.8</text>
<text x="337.00" y="145.30" font-size="6.1" text-anchor="end" dominant-baseline="central" fill="#383838" dy="1.25" textLength="3.17" lengthAdjust="spacingAndGlyphs">1</text>
<path d="M338.70,232.74 L341.19,232.33 L343.68,231.57 L346.17,230.39 L348.66,228.71 L351.15,226.54 L353.64,223.89 L356.13,220.82 L358.62,217.40 L361.11,213.72 L363.60,209.86 L366.09,205.91 L368.58,201.92 L371.07,197.98 L373.56,194.12 L376.05,190.39 L378.54,186.82 L381.03,183.42 L383.52,180.22 L386.01,177.22 L388.50,174.42 L390.99,171.83 L393.48,169.43 L395.97,167.22 L398.46,165.19 L400.95,163.34 L403.44,161.64 L405.93,160.09 L408.42,158.68 L410.91,157.40 L413.40,156.24 L415.89,155.19 L418.38,154.24 L420.87,153.37 L423.36,152.59 L425.85,151.89 L428.34,151.25 L430.83,150.68 L433.32,150.16 L435.81,149.69 L438.30,149.27 L440.79,148.89 L443.28,148.54 L445.77,148.23 L448.26,147.95 L450.75,147.70 L453.24,147.47 L455.73,147.27 L458.22,147.08 L460.71,146.91 L463.20,146.76" fill="none" stroke="#444" stroke-width="1.15" stroke-dasharray="1.4,1.2" stroke-linejoin="round" clip-path="url(#c8)"/>
<path d="M338.70,232.93 L341.19,232.79 L343.68,232.51 L346.17,232.02 L348.66,231.25 L351.15,230.17 L353.64,228.75 L356.13,226.97 L358.62,224.86 L361.11,222.44 L363.60,219.75 L366.09,216.83 L368.58,213.74 L371.07,210.53 L373.56,207.24 L376.05,203.92 L378.54,200.60 L381.03,197.32 L383.52,194.10 L386.01,190.97 L388.50,187.96 L390.99,185.06 L393.48,182.29 L395.97,179.66 L398.46,177.17 L400.95,174.83 L403.44,172.62 L405.93,170.55 L408.42,168.62 L410.91,166.82 L413.40,165.14 L415.89,163.58 L418.38,162.13 L420.87,160.79 L423.36,159.56 L425.85,158.41 L428.34,157.36 L430.83,156.38 L433.32,155.48 L435.81,154.66 L438.30,153.90 L440.79,153.20 L443.28,152.56 L445.77,151.97 L448.26,151.42 L450.75,150.93 L453.24,150.47 L455.73,150.05 L458.22,149.66 L460.71,149.31 L463.20,148.98" fill="none" stroke="#444" stroke-width="1.15" stroke-dasharray="1.4,1.2" stroke-linejoin="round" clip-path="url(#c8)"/>
<path d="M338.70,232.86 L341.19,232.62 L343.68,232.15 L346.17,231.37 L348.66,230.22 L351.15,228.65 L353.64,226.67 L356.13,224.28 L358.62,221.54 L361.11,218.50 L363.60,215.21 L366.09,211.75 L368.58,208.17 L371.07,204.54 L373.56,200.90 L376.05,197.31 L378.54,193.80 L381.03,190.39 L383.52,187.12 L386.01,184.00 L388.50,181.03 L390.99,178.23 L393.48,175.61 L395.97,173.15 L398.46,170.86 L400.95,168.73 L403.44,166.75 L405.93,164.93 L408.42,163.24 L410.91,161.69 L413.40,160.27 L415.89,158.96 L418.38,157.77 L420.87,156.67 L423.36,155.67 L425.85,154.75 L428.34,153.91 L430.83,153.15 L433.32,152.45 L435.81,151.82 L438.30,151.24 L440.79,150.71 L443.28,150.23 L445.77,149.80 L448.26,149.40 L450.75,149.04 L453.24,148.71 L455.73,148.41 L458.22,148.14 L460.71,147.89 L463.20,147.66" fill="none" stroke="#ff3636" stroke-width="1.1" stroke-linejoin="round" clip-path="url(#c8)"/>
<rect x="338.70" y="145.30" width="124.50" height="87.70" fill="none" stroke="#c0c0c0" stroke-width="0.55"/>
<rect x="398.40" y="215.00" width="61.90" height="15.60" fill="#fff" stroke="#d2d2d2" stroke-width="0.6"/>
<line x1="399.80" y1="218.90" x2="407.50" y2="218.90" stroke="#ff3636" stroke-width="1.2"/>
<text x="408.60" y="218.90" font-family='"Liberation Serif", serif' font-size="6.8" dominant-baseline="central" fill="#333" textLength="37.16" lengthAdjust="spacingAndGlyphs">Fragility (50%)</text>
<line x1="399.80" y1="226.20" x2="407.50" y2="226.20" stroke="#444" stroke-width="1.15" stroke-dasharray="1.4,1.2"/>
<text x="408.60" y="226.20" font-family='"Liberation Serif", serif' font-size="6.8" dominant-baseline="central" fill="#333" textLength="51.16" lengthAdjust="spacingAndGlyphs">Fragility (16%, 84%)</text>
<text x="324.10" y="189.55" font-family='"Liberation Serif", serif' font-size="6.6" text-anchor="middle" dominant-baseline="central" fill="#666" transform="rotate(-90 324.10 189.55)" textLength="69" lengthAdjust="spacingAndGlyphs">Probability of Exceedance</text>
<text x="400.95" y="245.60" font-family='"Liberation Serif", serif' font-size="6.6" text-anchor="middle" dominant-baseline="central" fill="#666"><tspan font-style="italic">S</tspan><tspan font-size="4.62" dy="1">a</tspan><tspan dy="-1"> [g]</tspan></text>
<text x="332.20" y="259.30" font-family='"Liberation Serif", serif' font-size="7.6" dominant-baseline="central" fill="#222" stroke="#222" stroke-width="0.18" textLength="120.1" lengthAdjust="spacingAndGlyphs"><tspan font-weight="bold">(f)</tspan> Robust fragility functions; 4-story</text>
<clipPath id="c9"><rect x="21.30" y="282.70" width="124.50" height="87.00"/></clipPath>
<rect x="21.30" y="282.70" width="124.50" height="87.00" fill="#fff"/>
<line x1="21.30" y1="282.70" x2="21.30" y2="369.70" stroke="#ececec" stroke-width="0.5"/>
<line x1="52.43" y1="282.70" x2="52.43" y2="369.70" stroke="#ececec" stroke-width="0.5"/>
<line x1="83.55" y1="282.70" x2="83.55" y2="369.70" stroke="#ececec" stroke-width="0.5"/>
<line x1="114.68" y1="282.70" x2="114.68" y2="369.70" stroke="#ececec" stroke-width="0.5"/>
<line x1="145.80" y1="282.70" x2="145.80" y2="369.70" stroke="#ececec" stroke-width="0.5"/>
<line x1="21.30" y1="369.70" x2="145.80" y2="369.70" stroke="#ececec" stroke-width="0.5"/>
<line x1="21.30" y1="352.30" x2="145.80" y2="352.30" stroke="#ececec" stroke-width="0.5"/>
<line x1="21.30" y1="334.90" x2="145.80" y2="334.90" stroke="#ececec" stroke-width="0.5"/>
<line x1="21.30" y1="317.50" x2="145.80" y2="317.50" stroke="#ececec" stroke-width="0.5"/>
<line x1="21.30" y1="300.10" x2="145.80" y2="300.10" stroke="#ececec" stroke-width="0.5"/>
<line x1="21.30" y1="282.70" x2="145.80" y2="282.70" stroke="#ececec" stroke-width="0.5"/>
<text x="21.30" y="376.50" font-size="6.1" text-anchor="middle" dominant-baseline="central" fill="#383838" textLength="3.17" lengthAdjust="spacingAndGlyphs">0</text>
<text x="52.43" y="376.50" font-size="6.1" text-anchor="middle" dominant-baseline="central" fill="#383838" textLength="7.92" lengthAdjust="spacingAndGlyphs">0.5</text>
<text x="83.55" y="376.50" font-size="6.1" text-anchor="middle" dominant-baseline="central" fill="#383838" textLength="3.17" lengthAdjust="spacingAndGlyphs">1</text>
<text x="114.68" y="376.50" font-size="6.1" text-anchor="middle" dominant-baseline="central" fill="#383838" textLength="7.92" lengthAdjust="spacingAndGlyphs">1.5</text>
<text x="145.80" y="376.50" font-size="6.1" text-anchor="middle" dominant-baseline="central" fill="#383838" textLength="3.17" lengthAdjust="spacingAndGlyphs">2</text>
<text x="19.60" y="369.70" font-size="6.1" text-anchor="end" dominant-baseline="central" fill="#383838" dy="1.25" textLength="3.17" lengthAdjust="spacingAndGlyphs">0</text>
<text x="19.60" y="352.30" font-size="6.1" text-anchor="end" dominant-baseline="central" fill="#383838" dy="1.25" textLength="7.92" lengthAdjust="spacingAndGlyphs">0.2</text>
<text x="19.60" y="334.90" font-size="6.1" text-anchor="end" dominant-baseline="central" fill="#383838" dy="1.25" textLength="7.92" lengthAdjust="spacingAndGlyphs">0.4</text>
<text x="19.60" y="317.50" font-size="6.1" text-anchor="end" dominant-baseline="central" fill="#383838" dy="1.25" textLength="7.92" lengthAdjust="spacingAndGlyphs">0.6</text>
<text x="19.60" y="300.10" font-size="6.1" text-anchor="end" dominant-baseline="central" fill="#383838" dy="1.25" textLength="7.92" lengthAdjust="spacingAndGlyphs">0.8</text>
<text x="19.60" y="282.70" font-size="6.1" text-anchor="end" dominant-baseline="central" fill="#383838" dy="1.25" textLength="3.17" lengthAdjust="spacingAndGlyphs">1</text>
<path d="M21.30,369.70 L23.79,369.70 L26.28,369.70 L28.77,369.70 L31.26,369.70 L33.75,369.69 L36.24,369.66 L38.73,369.53 L41.22,369.18 L43.71,368.44 L46.20,367.12 L48.69,365.10 L51.18,362.30 L53.67,358.74 L56.16,354.51 L58.65,349.75 L61.14,344.63 L63.63,339.32 L66.12,333.98 L68.61,328.74 L71.10,323.72 L73.59,318.99 L76.08,314.60 L78.57,310.58 L81.06,306.95 L83.55,303.70 L86.04,300.81 L88.53,298.27 L91.02,296.04 L93.51,294.11 L96.00,292.43 L98.49,290.98 L100.98,289.74 L103.47,288.67 L105.96,287.76 L108.45,286.98 L110.94,286.32 L113.43,285.76 L115.92,285.29 L118.41,284.88 L120.90,284.54 L123.39,284.26 L125.88,284.01 L128.37,283.81 L130.86,283.64 L133.35,283.49 L135.84,283.37 L138.33,283.26 L140.82,283.18 L143.31,283.10 L145.80,283.04" fill="none" stroke="#3c3cff" stroke-width="1.1" stroke-dasharray="2.6,1.6" stroke-linejoin="round" clip-path="url(#c9)"/>
<path d="M21.30,369.70 L23.79,369.70 L26.28,369.70 L28.77,369.70 L31.26,369.70 L33.75,369.70 L36.24,369.70 L38.73,369.69 L41.22,369.66 L43.71,369.57 L46.20,369.37 L48.69,368.96 L51.18,368.25 L53.67,367.17 L56.16,365.62 L58.65,363.58 L61.14,361.02 L63.63,357.99 L66.12,354.52 L68.61,350.70 L71.10,346.61 L73.59,342.34 L76.08,337.99 L78.57,333.63 L81.06,329.34 L83.55,325.17 L86.04,321.19 L88.53,317.41 L91.02,313.88 L93.51,310.59 L96.00,307.56 L98.49,304.79 L100.98,302.27 L103.47,299.99 L105.96,297.94 L108.45,296.10 L110.94,294.46 L113.43,293.01 L115.92,291.72 L118.41,290.58 L120.90,289.57 L123.39,288.69 L125.88,287.91 L128.37,287.23 L130.86,286.64 L133.35,286.12 L135.84,285.67 L138.33,285.28 L140.82,284.94 L143.31,284.64 L145.80,284.38" fill="none" stroke="#3c3cff" stroke-width="1.1" stroke-linejoin="round" clip-path="url(#c9)"/>
<path d="M21.30,369.70 L23.79,369.70 L26.28,369.70 L28.77,369.70 L31.26,369.70 L33.75,369.67 L36.24,369.54 L38.73,369.15 L41.22,368.29 L43.71,366.74 L46.20,364.38 L48.69,361.15 L51.18,357.12 L53.67,352.43 L56.16,347.26 L58.65,341.82 L61.14,336.28 L63.63,330.82 L66.12,325.56 L68.61,320.59 L71.10,315.98 L73.59,311.77 L76.08,307.96 L78.57,304.56 L81.06,301.55 L83.55,298.89 L86.04,296.58 L88.53,294.56 L91.02,292.82 L93.51,291.32 L96.00,290.03 L98.49,288.93 L100.98,287.98 L103.47,287.18 L105.96,286.50 L108.45,285.92 L110.94,285.42 L113.43,285.01 L115.92,284.65 L118.41,284.35 L120.90,284.10 L123.39,283.89 L125.88,283.70 L128.37,283.55 L130.86,283.42 L133.35,283.31 L135.84,283.22 L138.33,283.14 L140.82,283.07 L143.31,283.02 L145.80,282.97" fill="none" stroke="#ff3636" stroke-width="1.1" stroke-dasharray="2.6,1.6" stroke-linejoin="round" clip-path="url(#c9)"/>
<path d="M21.30,369.70 L23.79,369.70 L26.28,369.70 L28.77,369.70 L31.26,369.70 L33.75,369.70 L36.24,369.67 L38.73,369.59 L41.22,369.36 L43.71,368.89 L46.20,368.05 L48.69,366.74 L51.18,364.88 L53.67,362.47 L56.16,359.51 L58.65,356.06 L61.14,352.21 L63.63,348.06 L66.12,343.71 L68.61,339.27 L71.10,334.81 L73.59,330.44 L76.08,326.20 L78.57,322.15 L81.06,318.32 L83.55,314.74 L86.04,311.42 L88.53,308.36 L91.02,305.57 L93.51,303.02 L96.00,300.73 L98.49,298.66 L100.98,296.80 L103.47,295.14 L105.96,293.66 L108.45,292.35 L110.94,291.18 L113.43,290.15 L115.92,289.24 L118.41,288.44 L120.90,287.73 L123.39,287.11 L125.88,286.56 L128.37,286.08 L130.86,285.66 L133.35,285.30 L135.84,284.97 L138.33,284.69 L140.82,284.44 L143.31,284.23 L145.80,284.04" fill="none" stroke="#ff3636" stroke-width="1.1" stroke-linejoin="round" clip-path="url(#c9)"/>
<rect x="21.30" y="282.70" width="124.50" height="87.00" fill="none" stroke="#c0c0c0" stroke-width="0.55"/>
<rect x="77.80" y="338.30" width="65.30" height="28.40" fill="#fff" stroke="#d2d2d2" stroke-width="0.6"/>
<line x1="79.20" y1="342.30" x2="86.20" y2="342.30" stroke="#3c3cff" stroke-width="1.1" stroke-dasharray="2.6,1.6"/>
<text x="87.20" y="342.30" font-family='"Liberation Serif", serif' font-size="6.8" dominant-baseline="central" fill="#333" textLength="29.14" lengthAdjust="spacingAndGlyphs">Plain (RTR)</text>
<line x1="79.20" y1="348.70" x2="86.20" y2="348.70" stroke="#3c3cff" stroke-width="1.1"/>
<text x="87.20" y="348.70" font-family='"Liberation Serif", serif' font-size="6.8" dominant-baseline="central" fill="#333" textLength="39.13" lengthAdjust="spacingAndGlyphs">Modified (RTR)</text>
<line x1="79.20" y1="355.60" x2="86.20" y2="355.60" stroke="#ff3636" stroke-width="1.1" stroke-dasharray="2.6,1.6"/>
<text x="87.20" y="355.60" font-family='"Liberation Serif", serif' font-size="6.8" dominant-baseline="central" fill="#333" textLength="43.86" lengthAdjust="spacingAndGlyphs">Plain (RTR+LHS)</text>
<line x1="79.20" y1="362.40" x2="86.20" y2="362.40" stroke="#ff3636" stroke-width="1.1"/>
<text x="87.20" y="362.40" font-family='"Liberation Serif", serif' font-size="6.8" dominant-baseline="central" fill="#333" textLength="53.85" lengthAdjust="spacingAndGlyphs">Modified (RTR+LHS)</text>
<text x="6.70" y="326.60" font-family='"Liberation Serif", serif' font-size="6.6" text-anchor="middle" dominant-baseline="central" fill="#666" transform="rotate(-90 6.70 326.60)" textLength="69" lengthAdjust="spacingAndGlyphs">Probability of Exceedance</text>
<text x="83.55" y="382.30" font-family='"Liberation Serif", serif' font-size="6.6" text-anchor="middle" dominant-baseline="central" fill="#666"><tspan font-style="italic">S</tspan><tspan font-size="4.62" dy="1">a</tspan><tspan dy="-1"> [g]</tspan></text>
<text x="24.60" y="396.00" font-family='"Liberation Serif", serif' font-size="7.6" dominant-baseline="central" fill="#222" stroke="#222" stroke-width="0.18" textLength="101.7" lengthAdjust="spacingAndGlyphs"><tspan font-weight="bold">(g)</tspan> Curve modification; 8-story</text>
<clipPath id="c10"><rect x="176.60" y="282.70" width="126.40" height="86.80"/></clipPath>
<rect x="176.60" y="282.70" width="126.40" height="86.80" fill="#fff"/>
<line x1="186.32" y1="282.70" x2="186.32" y2="369.50" stroke="#ececec" stroke-width="0.5"/>
<line x1="205.77" y1="282.70" x2="205.77" y2="369.50" stroke="#ececec" stroke-width="0.5"/>
<line x1="225.22" y1="282.70" x2="225.22" y2="369.50" stroke="#ececec" stroke-width="0.5"/>
<line x1="244.66" y1="282.70" x2="244.66" y2="369.50" stroke="#ececec" stroke-width="0.5"/>
<line x1="264.11" y1="282.70" x2="264.11" y2="369.50" stroke="#ececec" stroke-width="0.5"/>
<line x1="283.55" y1="282.70" x2="283.55" y2="369.50" stroke="#ececec" stroke-width="0.5"/>
<line x1="303.00" y1="282.70" x2="303.00" y2="369.50" stroke="#ececec" stroke-width="0.5"/>
<line x1="176.60" y1="369.50" x2="303.00" y2="369.50" stroke="#ececec" stroke-width="0.5"/>
<line x1="176.60" y1="352.14" x2="303.00" y2="352.14" stroke="#ececec" stroke-width="0.5"/>
<line x1="176.60" y1="334.78" x2="303.00" y2="334.78" stroke="#ececec" stroke-width="0.5"/>
<line x1="176.60" y1="317.42" x2="303.00" y2="317.42" stroke="#ececec" stroke-width="0.5"/>
<line x1="176.60" y1="300.06" x2="303.00" y2="300.06" stroke="#ececec" stroke-width="0.5"/>
<line x1="176.60" y1="282.70" x2="303.00" y2="282.70" stroke="#ececec" stroke-width="0.5"/>
<text x="186.32" y="376.30" font-size="6.1" text-anchor="middle" dominant-baseline="central" fill="#383838" textLength="7.92" lengthAdjust="spacingAndGlyphs">0.4</text>
<text x="205.77" y="376.30" font-size="6.1" text-anchor="middle" dominant-baseline="central" fill="#383838" textLength="7.92" lengthAdjust="spacingAndGlyphs">0.6</text>
<text x="225.22" y="376.30" font-size="6.1" text-anchor="middle" dominant-baseline="central" fill="#383838" textLength="7.92" lengthAdjust="spacingAndGlyphs">0.8</text>
<text x="244.66" y="376.30" font-size="6.1" text-anchor="middle" dominant-baseline="central" fill="#383838" textLength="3.17" lengthAdjust="spacingAndGlyphs">1</text>
<text x="264.11" y="376.30" font-size="6.1" text-anchor="middle" dominant-baseline="central" fill="#383838" textLength="7.92" lengthAdjust="spacingAndGlyphs">1.2</text>
<text x="283.55" y="376.30" font-size="6.1" text-anchor="middle" dominant-baseline="central" fill="#383838" textLength="7.92" lengthAdjust="spacingAndGlyphs">1.4</text>
<text x="303.00" y="376.30" font-size="6.1" text-anchor="middle" dominant-baseline="central" fill="#383838" textLength="7.92" lengthAdjust="spacingAndGlyphs">1.6</text>
<text x="174.90" y="369.50" font-size="6.1" text-anchor="end" dominant-baseline="central" fill="#383838" dy="1.25" textLength="3.17" lengthAdjust="spacingAndGlyphs">0</text>
<text x="174.90" y="352.14" font-size="6.1" text-anchor="end" dominant-baseline="central" fill="#383838" dy="1.25" textLength="7.92" lengthAdjust="spacingAndGlyphs">0.2</text>
<text x="174.90" y="334.78" font-size="6.1" text-anchor="end" dominant-baseline="central" fill="#383838" dy="1.25" textLength="7.92" lengthAdjust="spacingAndGlyphs">0.4</text>
<text x="174.90" y="317.42" font-size="6.1" text-anchor="end" dominant-baseline="central" fill="#383838" dy="1.25" textLength="7.92" lengthAdjust="spacingAndGlyphs">0.6</text>
<text x="174.90" y="300.06" font-size="6.1" text-anchor="end" dominant-baseline="central" fill="#383838" dy="1.25" textLength="7.92" lengthAdjust="spacingAndGlyphs">0.8</text>
<text x="174.90" y="282.70" font-size="6.1" text-anchor="end" dominant-baseline="central" fill="#383838" dy="1.25" textLength="3.17" lengthAdjust="spacingAndGlyphs">1</text>
<path d="M176.60,369.50 L188.27,369.50 L188.27,366.03 L193.13,366.03 L193.13,362.56 L197.99,362.56 L197.99,359.08 L201.88,359.08 L201.88,355.61 L208.49,355.61 L208.49,352.14 L208.69,352.14 L208.69,348.67 L208.98,348.67 L208.98,345.20 L209.17,345.20 L209.17,341.72 L209.37,341.72 L209.37,338.25 L220.16,338.25 L220.16,334.78 L220.55,334.78 L220.55,331.31 L220.84,331.31 L220.84,327.84 L222.30,327.84 L222.30,324.36 L224.24,324.36 L224.24,320.89 L226.19,320.89 L226.19,317.42 L228.62,317.42 L228.62,313.95 L228.91,313.95 L228.91,310.48 L232.99,310.48 L232.99,307.00 L239.80,307.00 L239.80,303.53 L244.66,303.53 L244.66,300.06 L265.57,300.06 L265.57,296.59 L266.05,296.59 L266.05,293.12 L273.83,293.12 L273.83,289.64 L281.61,289.64 L281.61,286.17 L293.28,286.17 L293.28,282.70 L303.00,282.70" fill="none" stroke="#40ff40" stroke-width="0.9" stroke-linejoin="round" clip-path="url(#c10)"/>
<path d="M176.60,369.19 L179.13,368.89 L181.66,368.40 L184.18,367.67 L186.71,366.66 L189.24,365.33 L191.77,363.67 L194.30,361.66 L196.82,359.31 L199.35,356.67 L201.88,353.75 L204.41,350.61 L206.94,347.29 L209.46,343.85 L211.99,340.33 L214.52,336.78 L217.05,333.24 L219.58,329.76 L222.10,326.36 L224.63,323.07 L227.16,319.91 L229.69,316.90 L232.22,314.05 L234.74,311.36 L237.27,308.85 L239.80,306.50 L242.33,304.32 L244.86,302.31 L247.38,300.45 L249.91,298.75 L252.44,297.18 L254.97,295.76 L257.50,294.46 L260.02,293.27 L262.55,292.20 L265.08,291.23 L267.61,290.35 L270.14,289.56 L272.66,288.85 L275.19,288.20 L277.72,287.62 L280.25,287.10 L282.78,286.64 L285.30,286.22 L287.83,285.84 L290.36,285.51 L292.89,285.21 L295.42,284.94 L297.94,284.70 L300.47,284.48 L303.00,284.29" fill="none" stroke="#6060ff" stroke-width="1.0" stroke-linejoin="round" clip-path="url(#c10)"/>
<path d="M176.60,369.26 L179.13,369.01 L181.66,368.60 L184.18,367.96 L186.71,367.06 L189.24,365.85 L191.77,364.31 L194.30,362.42 L196.82,360.20 L199.35,357.65 L201.88,354.82 L204.41,351.74 L206.94,348.46 L209.46,345.03 L211.99,341.51 L214.52,337.94 L217.05,334.37 L219.58,330.83 L222.10,327.37 L224.63,324.01 L227.16,320.77 L229.69,317.69 L232.22,314.76 L234.74,311.99 L237.27,309.40 L239.80,306.99 L242.33,304.74 L244.86,302.66 L247.38,300.75 L249.91,298.99 L252.44,297.39 L254.97,295.92 L257.50,294.58 L260.02,293.37 L262.55,292.27 L265.08,291.27 L267.61,290.37 L270.14,289.56 L272.66,288.83 L275.19,288.18 L277.72,287.59 L280.25,287.06 L282.78,286.59 L285.30,286.17 L287.83,285.79 L290.36,285.45 L292.89,285.15 L295.42,284.88 L297.94,284.64 L300.47,284.43 L303.00,284.24" fill="none" stroke="#222" stroke-width="0.7" stroke-dasharray="0.8,0.8" stroke-linejoin="round" clip-path="url(#c10)"/>
<path d="M176.60,369.17 L179.13,368.84 L181.66,368.32 L184.18,367.54 L186.71,366.48 L189.24,365.08 L191.77,363.33 L194.30,361.24 L196.82,358.81 L199.35,356.08 L201.88,353.08 L204.41,349.87 L206.94,346.48 L209.46,342.98 L211.99,339.41 L214.52,335.83 L217.05,332.27 L219.58,328.77 L222.10,325.36 L224.63,322.08 L227.16,318.93 L229.69,315.94 L232.22,313.12 L234.74,310.46 L237.27,307.98 L239.80,305.68 L242.33,303.54 L244.86,301.57 L247.38,299.75 L249.91,298.09 L252.44,296.57 L254.97,295.18 L257.50,293.92 L260.02,292.78 L262.55,291.74 L265.08,290.81 L267.61,289.96 L270.14,289.20 L272.66,288.51 L275.19,287.90 L277.72,287.35 L280.25,286.85 L282.78,286.40 L285.30,286.01 L287.83,285.65 L290.36,285.33 L292.89,285.05 L295.42,284.79 L297.94,284.57 L300.47,284.36 L303.00,284.18" fill="none" stroke="#ff3636" stroke-width="0.8" stroke-linejoin="round" clip-path="url(#c10)"/>
<path d="M176.60,369.14 L179.13,368.80 L181.66,368.27 L184.18,367.49 L186.71,366.43 L189.24,365.04 L191.77,363.33 L194.30,361.28 L196.82,358.91 L199.35,356.25 L201.88,353.34 L204.41,350.22 L206.94,346.93 L209.46,343.53 L211.99,340.06 L214.52,336.58 L217.05,333.10 L219.58,329.69 L222.10,326.35 L224.63,323.13 L227.16,320.03 L229.69,317.07 L232.22,314.27 L234.74,311.63 L237.27,309.15 L239.80,306.84 L242.33,304.69 L244.86,302.69 L247.38,300.85 L249.91,299.16 L252.44,297.60 L254.97,296.17 L257.50,294.87 L260.02,293.68 L262.55,292.60 L265.08,291.62 L267.61,290.73 L270.14,289.92 L272.66,289.19 L275.19,288.53 L277.72,287.94 L280.25,287.40 L282.78,286.92 L285.30,286.48 L287.83,286.09 L290.36,285.74 L292.89,285.43 L295.42,285.14 L297.94,284.89 L300.47,284.66 L303.00,284.46" fill="none" stroke="#ff40ff" stroke-width="0.8" stroke-dasharray="1.5,1" stroke-linejoin="round" clip-path="url(#c10)"/>
<rect x="176.60" y="282.70" width="126.40" height="86.80" fill="none" stroke="#c0c0c0" stroke-width="0.55"/>
<clipPath id="c11"><rect x="188.00" y="285.20" width="31.20" height="33.80"/></clipPath>
<rect x="188.00" y="285.20" width="31.20" height="33.80" fill="#fff"/>
<line x1="198.40" y1="285.20" x2="198.40" y2="319.00" stroke="#ececec" stroke-width="0.5"/>
<line x1="219.20" y1="285.20" x2="219.20" y2="319.00" stroke="#ececec" stroke-width="0.5"/>
<line x1="188.00" y1="319.00" x2="219.20" y2="319.00" stroke="#ececec" stroke-width="0.5"/>
<line x1="188.00" y1="302.10" x2="219.20" y2="302.10" stroke="#ececec" stroke-width="0.5"/>
<line x1="188.00" y1="285.20" x2="219.20" y2="285.20" stroke="#ececec" stroke-width="0.5"/>
<text x="198.40" y="325.30" font-size="6.1" text-anchor="middle" dominant-baseline="central" fill="#383838" textLength="7.92" lengthAdjust="spacingAndGlyphs">0.8</text>
<text x="219.20" y="325.30" font-size="6.1" text-anchor="middle" dominant-baseline="central" fill="#383838" textLength="3.17" lengthAdjust="spacingAndGlyphs">1</text>
<text x="186.30" y="319.00" font-size="6.1" text-anchor="end" dominant-baseline="central" fill="#383838" dy="1.25" textLength="7.92" lengthAdjust="spacingAndGlyphs">0.4</text>
<text x="186.30" y="302.10" font-size="6.1" text-anchor="end" dominant-baseline="central" fill="#383838" dy="1.25" textLength="7.92" lengthAdjust="spacingAndGlyphs">0.6</text>
<text x="186.30" y="285.20" font-size="6.1" text-anchor="end" dominant-baseline="central" fill="#383838" dy="1.25" textLength="7.92" lengthAdjust="spacingAndGlyphs">0.8</text>
<path d="M146.40,352.80 L158.88,352.80 L158.88,349.42 L164.08,349.42 L164.08,346.04 L169.28,346.04 L169.28,342.66 L173.44,342.66 L173.44,339.28 L180.51,339.28 L180.51,335.90 L180.72,335.90 L180.72,332.52 L181.03,332.52 L181.03,329.14 L181.24,329.14 L181.24,325.76 L181.45,325.76 L181.45,322.38 L192.99,322.38 L192.99,319.00 L193.41,319.00 L193.41,315.62 L193.72,315.62 L193.72,312.24 L195.28,312.24 L195.28,308.86 L197.36,308.86 L197.36,305.48 L199.44,305.48 L199.44,302.10 L202.04,302.10 L202.04,298.72 L202.35,298.72 L202.35,295.34 L206.72,295.34 L206.72,291.96 L214.00,291.96 L214.00,288.58 L219.20,288.58 L219.20,285.20 L241.56,285.20 L241.56,281.82 L242.08,281.82 L242.08,278.44 L250.40,278.44 L250.40,275.06 L258.72,275.06 L258.72,271.68 L271.20,271.68 L271.20,268.30 L281.60,268.30" fill="none" stroke="#40ff40" stroke-width="0.9" stroke-linejoin="round" clip-path="url(#c11)"/>
<path d="M188.00,319.62 L188.62,318.82 L189.25,318.03 L189.87,317.24 L190.50,316.45 L191.12,315.67 L191.74,314.89 L192.37,314.11 L192.99,313.34 L193.62,312.57 L194.24,311.81 L194.86,311.05 L195.49,310.30 L196.11,309.55 L196.74,308.82 L197.36,308.08 L197.98,307.36 L198.61,306.64 L199.23,305.92 L199.86,305.22 L200.48,304.52 L201.10,303.83 L201.73,303.15 L202.35,302.48 L202.98,301.81 L203.60,301.15 L204.22,300.51 L204.85,299.86 L205.47,299.23 L206.10,298.61 L206.72,297.99 L207.34,297.39 L207.97,296.79 L208.59,296.20 L209.22,295.62 L209.84,295.05 L210.46,294.49 L211.09,293.93 L211.71,293.39 L212.34,292.85 L212.96,292.33 L213.58,291.81 L214.21,291.30 L214.83,290.80 L215.46,290.31 L216.08,289.82 L216.70,289.35 L217.33,288.88 L217.95,288.42 L218.58,287.97 L219.20,287.53" fill="none" stroke="#6060ff" stroke-width="1.0" stroke-linejoin="round" clip-path="url(#c11)"/>
<path d="M188.00,319.62 L188.62,318.82 L189.25,318.03 L189.87,317.24 L190.50,316.45 L191.12,315.67 L191.74,314.89 L192.37,314.11 L192.99,313.34 L193.62,312.57 L194.24,311.81 L194.86,311.05 L195.49,310.30 L196.11,309.55 L196.74,308.82 L197.36,308.08 L197.98,307.36 L198.61,306.64 L199.23,305.92 L199.86,305.22 L200.48,304.52 L201.10,303.83 L201.73,303.15 L202.35,302.48 L202.98,301.81 L203.60,301.15 L204.22,300.51 L204.85,299.86 L205.47,299.23 L206.10,298.61 L206.72,297.99 L207.34,297.39 L207.97,296.79 L208.59,296.20 L209.22,295.62 L209.84,295.05 L210.46,294.49 L211.09,293.93 L211.71,293.39 L212.34,292.85 L212.96,292.33 L213.58,291.81 L214.21,291.30 L214.83,290.80 L215.46,290.31 L216.08,289.82 L216.70,289.35 L217.33,288.88 L217.95,288.42 L218.58,287.97 L219.20,287.53" fill="none" stroke="#ff3636" stroke-width="0.8" stroke-linejoin="round" clip-path="url(#c11)"/>
<rect x="188.00" y="285.20" width="31.20" height="33.80" fill="none" stroke="#c0c0c0" stroke-width="0.55"/>
<rect x="243.60" y="324.90" width="53.30" height="40.60" fill="#fff" stroke="#d2d2d2" stroke-width="0.6"/>
<circle cx="249.25" cy="329.00" r="1.1" fill="#80ffff"/>
<text x="253.90" y="329.00" font-family='"Liberation Serif", serif' font-size="6.8" dominant-baseline="central" fill="#333" textLength="31.66" lengthAdjust="spacingAndGlyphs">Observations</text>
<line x1="245.50" y1="335.60" x2="253.00" y2="335.60" stroke="#6060ff" stroke-width="0.8"/>
<text x="253.90" y="335.60" font-family='"Liberation Serif", serif' font-size="6.8" dominant-baseline="central" fill="#333" textLength="39.50" lengthAdjust="spacingAndGlyphs">LogCDF (MLE)</text>
<line x1="245.50" y1="342.20" x2="253.00" y2="342.20" stroke="#333" stroke-width="0.8" stroke-dasharray="1,1"/>
<text x="253.90" y="342.20" font-family='"Liberation Serif", serif' font-size="6.8" dominant-baseline="central" fill="#333" textLength="37.17" lengthAdjust="spacingAndGlyphs">LogCDF (SSE)</text>
<line x1="245.50" y1="348.90" x2="253.00" y2="348.90" stroke="#ff6060" stroke-width="0.8"/>
<text x="253.90" y="348.90" font-family='"Liberation Serif", serif' font-size="6.8" dominant-baseline="central" fill="#333" textLength="37.50" lengthAdjust="spacingAndGlyphs">LogCDF (MM)</text>
<line x1="245.50" y1="355.60" x2="253.00" y2="355.60" stroke="#ff60ff" stroke-width="0.8" stroke-dasharray="1.5,1"/>
<text x="253.90" y="355.60" font-family='"Liberation Serif", serif' font-size="6.8" dominant-baseline="central" fill="#333" textLength="41.50" lengthAdjust="spacingAndGlyphs">LogCDF (Probit)</text>
<line x1="245.50" y1="362.20" x2="253.00" y2="362.20" stroke="#60ff60" stroke-width="1.0"/>
<text x="253.90" y="362.20" font-family='"Liberation Serif", serif' font-size="6.8" dominant-baseline="central" fill="#333" textLength="40.82" lengthAdjust="spacingAndGlyphs">CDF (Empirical)</text>
<text x="162.00" y="326.50" font-family='"Liberation Serif", serif' font-size="6.6" text-anchor="middle" dominant-baseline="central" fill="#666" transform="rotate(-90 162.00 326.50)" textLength="69" lengthAdjust="spacingAndGlyphs">Probability of Exceedance</text>
<text x="239.80" y="382.10" font-family='"Liberation Serif", serif' font-size="6.6" text-anchor="middle" dominant-baseline="central" fill="#666"><tspan font-style="italic">S</tspan><tspan font-size="4.62" dy="1">a</tspan><tspan dy="-1"> [g]</tspan></text>
<text x="174.60" y="396.00" font-family='"Liberation Serif", serif' font-size="7.6" dominant-baseline="central" fill="#222" stroke="#222" stroke-width="0.18" textLength="113.6" lengthAdjust="spacingAndGlyphs"><tspan font-weight="bold">(h)</tspan> Fragility fitting models; 8-story</text>
<clipPath id="c12"><rect x="334.30" y="282.70" width="124.50" height="87.30"/></clipPath>
<rect x="334.30" y="282.70" width="124.50" height="87.30" fill="#fff"/>
<line x1="334.30" y1="282.70" x2="334.30" y2="370.00" stroke="#ececec" stroke-width="0.5"/>
<line x1="365.43" y1="282.70" x2="365.43" y2="370.00" stroke="#ececec" stroke-width="0.5"/>
<line x1="396.55" y1="282.70" x2="396.55" y2="370.00" stroke="#ececec" stroke-width="0.5"/>
<line x1="427.68" y1="282.70" x2="427.68" y2="370.00" stroke="#ececec" stroke-width="0.5"/>
<line x1="458.80" y1="282.70" x2="458.80" y2="370.00" stroke="#ececec" stroke-width="0.5"/>
<line x1="334.30" y1="370.00" x2="458.80" y2="370.00" stroke="#ececec" stroke-width="0.5"/>
<line x1="334.30" y1="352.54" x2="458.80" y2="352.54" stroke="#ececec" stroke-width="0.5"/>
<line x1="334.30" y1="335.08" x2="458.80" y2="335.08" stroke="#ececec" stroke-width="0.5"/>
<line x1="334.30" y1="317.62" x2="458.80" y2="317.62" stroke="#ececec" stroke-width="0.5"/>
<line x1="334.30" y1="300.16" x2="458.80" y2="300.16" stroke="#ececec" stroke-width="0.5"/>
<line x1="334.30" y1="282.70" x2="458.80" y2="282.70" stroke="#ececec" stroke-width="0.5"/>
<text x="334.30" y="376.80" font-size="6.1" text-anchor="middle" dominant-baseline="central" fill="#383838" textLength="3.17" lengthAdjust="spacingAndGlyphs">0</text>
<text x="365.43" y="376.80" font-size="6.1" text-anchor="middle" dominant-baseline="central" fill="#383838" textLength="7.92" lengthAdjust="spacingAndGlyphs">0.5</text>
<text x="396.55" y="376.80" font-size="6.1" text-anchor="middle" dominant-baseline="central" fill="#383838" textLength="3.17" lengthAdjust="spacingAndGlyphs">1</text>
<text x="427.68" y="376.80" font-size="6.1" text-anchor="middle" dominant-baseline="central" fill="#383838" textLength="7.92" lengthAdjust="spacingAndGlyphs">1.5</text>
<text x="458.80" y="376.80" font-size="6.1" text-anchor="middle" dominant-baseline="central" fill="#383838" textLength="3.17" lengthAdjust="spacingAndGlyphs">2</text>
<text x="332.60" y="370.00" font-size="6.1" text-anchor="end" dominant-baseline="central" fill="#383838" dy="1.25" textLength="3.17" lengthAdjust="spacingAndGlyphs">0</text>
<text x="332.60" y="352.54" font-size="6.1" text-anchor="end" dominant-baseline="central" fill="#383838" dy="1.25" textLength="7.92" lengthAdjust="spacingAndGlyphs">0.2</text>
<text x="332.60" y="335.08" font-size="6.1" text-anchor="end" dominant-baseline="central" fill="#383838" dy="1.25" textLength="7.92" lengthAdjust="spacingAndGlyphs">0.4</text>
<text x="332.60" y="317.62" font-size="6.1" text-anchor="end" dominant-baseline="central" fill="#383838" dy="1.25" textLength="7.92" lengthAdjust="spacingAndGlyphs">0.6</text>
<text x="332.60" y="300.16" font-size="6.1" text-anchor="end" dominant-baseline="central" fill="#383838" dy="1.25" textLength="7.92" lengthAdjust="spacingAndGlyphs">0.8</text>
<text x="332.60" y="282.70" font-size="6.1" text-anchor="end" dominant-baseline="central" fill="#383838" dy="1.25" textLength="3.17" lengthAdjust="spacingAndGlyphs">1</text>
<path d="M334.30,370.00 L336.79,370.00 L339.28,370.00 L341.77,370.00 L344.26,369.93 L346.75,369.40 L349.24,367.46 L351.73,363.11 L354.22,356.05 L356.71,346.84 L359.20,336.57 L361.69,326.35 L364.18,317.00 L366.67,308.96 L369.16,302.39 L371.65,297.21 L374.14,293.25 L376.63,290.28 L379.12,288.10 L381.61,286.53 L384.10,285.39 L386.59,284.59 L389.08,284.02 L391.57,283.62 L394.06,283.34 L396.55,283.15 L399.04,283.01 L401.53,282.92 L404.02,282.85 L406.51,282.81 L409.00,282.77 L411.49,282.75 L413.98,282.74 L416.47,282.73 L418.96,282.72 L421.45,282.71 L423.94,282.71 L426.43,282.71 L428.92,282.70 L431.41,282.70 L433.90,282.70 L436.39,282.70 L438.88,282.70 L441.37,282.70 L443.86,282.70 L446.35,282.70 L448.84,282.70 L451.33,282.70 L453.82,282.70 L456.31,282.70 L458.80,282.70" fill="none" stroke="#a8a8a8" stroke-width="0.5" stroke-linejoin="round" clip-path="url(#c12)"/>
<path d="M334.30,370.00 L336.79,370.00 L339.28,370.00 L341.77,370.00 L344.26,369.99 L346.75,369.88 L349.24,369.32 L351.73,367.68 L354.22,364.36 L356.71,359.07 L359.20,352.00 L361.69,343.74 L364.18,334.97 L366.67,326.35 L369.16,318.36 L371.65,311.28 L374.14,305.24 L376.63,300.24 L379.12,296.20 L381.61,292.99 L384.10,290.48 L386.59,288.55 L389.08,287.07 L391.57,285.96 L394.06,285.12 L396.55,284.49 L399.04,284.02 L401.53,283.68 L404.02,283.42 L406.51,283.23 L409.00,283.09 L411.49,282.99 L413.98,282.91 L416.47,282.86 L418.96,282.82 L421.45,282.79 L423.94,282.76 L426.43,282.75 L428.92,282.74 L431.41,282.73 L433.90,282.72 L436.39,282.71 L438.88,282.71 L441.37,282.71 L443.86,282.71 L446.35,282.70 L448.84,282.70 L451.33,282.70 L453.82,282.70 L456.31,282.70 L458.80,282.70" fill="none" stroke="#a8a8a8" stroke-width="0.5" stroke-linejoin="round" clip-path="url(#c12)"/>
<path d="M334.30,370.00 L336.79,370.00 L339.28,370.00 L341.77,370.00 L344.26,370.00 L346.75,369.95 L349.24,369.67 L351.73,368.81 L354.22,366.88 L356.71,363.52 L359.20,358.64 L361.69,352.43 L364.18,345.28 L366.67,337.67 L369.16,330.05 L371.65,322.78 L374.14,316.11 L376.63,310.19 L379.12,305.06 L381.61,300.72 L384.10,297.10 L386.59,294.12 L389.08,291.71 L391.57,289.78 L394.06,288.23 L396.55,287.01 L399.04,286.05 L401.53,285.30 L404.02,284.71 L406.51,284.26 L409.00,283.90 L411.49,283.63 L413.98,283.42 L416.47,283.25 L418.96,283.13 L421.45,283.03 L423.94,282.96 L426.43,282.90 L428.92,282.85 L431.41,282.82 L433.90,282.79 L436.39,282.77 L438.88,282.76 L441.37,282.74 L443.86,282.73 L446.35,282.73 L448.84,282.72 L451.33,282.72 L453.82,282.71 L456.31,282.71 L458.80,282.71" fill="none" stroke="#a8a8a8" stroke-width="0.5" stroke-linejoin="round" clip-path="url(#c12)"/>
<path d="M334.30,370.00 L336.79,370.00 L339.28,370.00 L341.77,370.00 L344.26,370.00 L346.75,369.98 L349.24,369.85 L351.73,369.39 L354.22,368.25 L356.71,366.07 L359.20,362.64 L361.69,357.92 L364.18,352.11 L366.67,345.52 L369.16,338.52 L371.65,331.48 L374.14,324.69 L376.63,318.36 L379.12,312.63 L381.61,307.57 L384.10,303.18 L386.59,299.43 L389.08,296.28 L391.57,293.66 L394.06,291.51 L396.55,289.75 L399.04,288.32 L401.53,287.17 L404.02,286.25 L406.51,285.51 L409.00,284.92 L411.49,284.45 L413.98,284.08 L416.47,283.79 L418.96,283.56 L421.45,283.38 L423.94,283.23 L426.43,283.12 L428.92,283.03 L431.41,282.96 L433.90,282.91 L436.39,282.86 L438.88,282.83 L441.37,282.80 L443.86,282.78 L446.35,282.76 L448.84,282.75 L451.33,282.74 L453.82,282.73 L456.31,282.73 L458.80,282.72" fill="none" stroke="#a8a8a8" stroke-width="0.5" stroke-linejoin="round" clip-path="url(#c12)"/>
<path d="M334.30,370.00 L336.79,370.00 L339.28,370.00 L341.77,370.00 L344.26,370.00 L346.75,370.00 L349.24,369.99 L351.73,369.94 L354.22,369.78 L356.71,369.36 L359.20,368.53 L361.69,367.09 L364.18,364.92 L366.67,361.96 L369.16,358.22 L371.65,353.80 L374.14,348.84 L376.63,343.53 L379.12,338.03 L381.61,332.52 L384.10,327.14 L386.59,322.00 L389.08,317.19 L391.57,312.75 L394.06,308.72 L396.55,305.11 L399.04,301.90 L401.53,299.08 L404.02,296.61 L406.51,294.48 L409.00,292.64 L411.49,291.07 L413.98,289.73 L416.47,288.59 L418.96,287.63 L421.45,286.82 L423.94,286.13 L426.43,285.56 L428.92,285.08 L431.41,284.68 L433.90,284.35 L436.39,284.07 L438.88,283.84 L441.37,283.64 L443.86,283.48 L446.35,283.35 L448.84,283.24 L451.33,283.15 L453.82,283.07 L456.31,283.01 L458.80,282.96" fill="none" stroke="#a8a8a8" stroke-width="0.5" stroke-linejoin="round" clip-path="url(#c12)"/>
<path d="M334.30,370.00 L336.79,370.00 L339.28,370.00 L341.77,370.00 L344.26,370.00 L346.75,370.00 L349.24,370.00 L351.73,369.97 L354.22,369.90 L356.71,369.68 L359.20,369.21 L361.69,368.33 L364.18,366.93 L366.67,364.88 L369.16,362.16 L371.65,358.77 L374.14,354.78 L376.63,350.31 L379.12,345.48 L381.61,340.45 L384.10,335.34 L386.59,330.29 L389.08,325.39 L391.57,320.72 L394.06,316.34 L396.55,312.30 L399.04,308.60 L401.53,305.26 L404.02,302.26 L406.51,299.60 L409.00,297.25 L411.49,295.18 L413.98,293.38 L416.47,291.82 L418.96,290.47 L421.45,289.31 L423.94,288.31 L426.43,287.45 L428.92,286.72 L431.41,286.10 L433.90,285.58 L436.39,285.13 L438.88,284.75 L441.37,284.43 L443.86,284.15 L446.35,283.93 L448.84,283.73 L451.33,283.57 L453.82,283.43 L456.31,283.32 L458.80,283.22" fill="none" stroke="#a8a8a8" stroke-width="0.5" stroke-linejoin="round" clip-path="url(#c12)"/>
<path d="M334.30,370.00 L336.79,370.00 L339.28,370.00 L341.77,370.00 L344.26,370.00 L346.75,370.00 L349.24,370.00 L351.73,369.99 L354.22,369.95 L356.71,369.84 L359.20,369.57 L361.69,369.05 L364.18,368.15 L366.67,366.78 L369.16,364.85 L371.65,362.33 L374.14,359.23 L376.63,355.61 L379.12,351.54 L381.61,347.14 L384.10,342.52 L386.59,337.78 L389.08,333.04 L391.57,328.39 L394.06,323.91 L396.55,319.64 L399.04,315.63 L401.53,311.91 L404.02,308.50 L406.51,305.39 L409.00,302.58 L411.49,300.06 L413.98,297.81 L416.47,295.82 L418.96,294.06 L421.45,292.52 L423.94,291.17 L426.43,289.99 L428.92,288.97 L431.41,288.08 L433.90,287.31 L436.39,286.65 L438.88,286.08 L441.37,285.59 L443.86,285.17 L446.35,284.81 L448.84,284.50 L451.33,284.23 L453.82,284.01 L456.31,283.81 L458.80,283.65" fill="none" stroke="#a8a8a8" stroke-width="0.5" stroke-linejoin="round" clip-path="url(#c12)"/>
<path d="M334.30,370.00 L336.79,370.00 L339.28,370.00 L341.77,370.00 L344.26,370.00 L346.75,370.00 L349.24,370.00 L351.73,369.99 L354.22,369.97 L356.71,369.91 L359.20,369.75 L361.69,369.41 L364.18,368.80 L366.67,367.83 L369.16,366.42 L371.65,364.50 L374.14,362.05 L376.63,359.09 L379.12,355.66 L381.61,351.84 L384.10,347.71 L386.59,343.37 L389.08,338.92 L391.57,334.44 L394.06,330.02 L396.55,325.71 L399.04,321.59 L401.53,317.68 L404.02,314.02 L406.51,310.63 L409.00,307.50 L411.49,304.65 L413.98,302.06 L416.47,299.73 L418.96,297.63 L421.45,295.77 L423.94,294.11 L426.43,292.64 L428.92,291.35 L431.41,290.21 L433.90,289.21 L436.39,288.34 L438.88,287.58 L441.37,286.92 L443.86,286.34 L446.35,285.84 L448.84,285.41 L451.33,285.03 L453.82,284.71 L456.31,284.43 L458.80,284.19" fill="none" stroke="#a8a8a8" stroke-width="0.5" stroke-linejoin="round" clip-path="url(#c12)"/>
<path d="M334.30,370.00 L336.79,370.00 L339.28,370.00 L341.77,370.00 L344.26,370.00 L346.75,370.00 L349.24,369.98 L351.73,369.89 L354.22,369.62 L356.71,369.00 L359.20,367.84 L361.69,365.98 L364.18,363.31 L366.67,359.83 L369.16,355.61 L371.65,350.78 L374.14,345.53 L376.63,340.03 L379.12,334.47 L381.61,329.01 L384.10,323.76 L386.59,318.82 L389.08,314.25 L391.57,310.08 L394.06,306.33 L396.55,302.99 L399.04,300.05 L401.53,297.48 L404.02,295.24 L406.51,293.31 L409.00,291.65 L411.49,290.24 L413.98,289.04 L416.47,288.02 L418.96,287.15 L421.45,286.43 L423.94,285.81 L426.43,285.30 L428.92,284.87 L431.41,284.51 L433.90,284.21 L436.39,283.96 L438.88,283.75 L441.37,283.57 L443.86,283.43 L446.35,283.31 L448.84,283.21 L451.33,283.12 L453.82,283.05 L456.31,282.99 L458.80,282.95" fill="none" stroke="#a8a8a8" stroke-width="0.5" stroke-linejoin="round" clip-path="url(#c12)"/>
<path d="M334.30,370.00 L336.79,370.00 L339.28,370.00 L341.77,370.00 L344.26,370.00 L346.75,370.00 L349.24,369.98 L351.73,369.92 L354.22,369.72 L356.71,369.26 L359.20,368.38 L361.69,366.95 L364.18,364.86 L366.67,362.08 L369.16,358.61 L371.65,354.55 L374.14,350.02 L376.63,345.16 L379.12,340.12 L381.61,335.03 L384.10,330.01 L386.59,325.16 L389.08,320.56 L391.57,316.25 L394.06,312.28 L396.55,308.65 L399.04,305.37 L401.53,302.43 L404.02,299.81 L406.51,297.49 L409.00,295.45 L411.49,293.67 L413.98,292.12 L416.47,290.77 L418.96,289.61 L421.45,288.60 L423.94,287.74 L426.43,287.00 L428.92,286.36 L431.41,285.82 L433.90,285.35 L436.39,284.96 L438.88,284.62 L441.37,284.33 L443.86,284.09 L446.35,283.88 L448.84,283.70 L451.33,283.55 L453.82,283.42 L456.31,283.31 L458.80,283.22" fill="none" stroke="#a8a8a8" stroke-width="0.5" stroke-linejoin="round" clip-path="url(#c12)"/>
<path d="M334.30,370.00 L336.79,370.00 L339.28,370.00 L341.77,370.00 L344.26,370.00 L346.75,370.00 L349.24,369.99 L351.73,369.97 L354.22,369.87 L356.71,369.60 L359.20,369.02 L361.69,367.99 L364.18,366.36 L366.67,364.04 L369.16,361.01 L371.65,357.29 L374.14,352.98 L376.63,348.22 L379.12,343.16 L381.61,337.94 L384.10,332.71 L386.59,327.60 L389.08,322.70 L391.57,318.08 L394.06,313.79 L396.55,309.87 L399.04,306.31 L401.53,303.13 L404.02,300.30 L406.51,297.81 L409.00,295.62 L411.49,293.72 L413.98,292.07 L416.47,290.66 L418.96,289.44 L421.45,288.40 L423.94,287.51 L426.43,286.75 L428.92,286.11 L431.41,285.57 L433.90,285.11 L436.39,284.73 L438.88,284.40 L441.37,284.13 L443.86,283.90 L446.35,283.70 L448.84,283.54 L451.33,283.41 L453.82,283.29 L456.31,283.20 L458.80,283.12" fill="none" stroke="#a8a8a8" stroke-width="0.5" stroke-linejoin="round" clip-path="url(#c12)"/>
<path d="M334.30,370.00 L336.79,370.00 L339.28,370.00 L341.77,370.00 L344.26,370.00 L346.75,369.99 L349.24,369.93 L351.73,369.69 L354.22,369.07 L356.71,367.80 L359.20,365.64 L361.69,362.49 L364.18,358.34 L366.67,353.33 L369.16,347.67 L371.65,341.62 L374.14,335.42 L376.63,329.32 L379.12,323.47 L381.61,318.01 L384.10,313.02 L386.59,308.53 L389.08,304.56 L391.57,301.10 L394.06,298.10 L396.55,295.54 L399.04,293.36 L401.53,291.52 L404.02,289.98 L406.51,288.70 L409.00,287.63 L411.49,286.74 L413.98,286.01 L416.47,285.41 L418.96,284.92 L421.45,284.51 L423.94,284.18 L426.43,283.91 L428.92,283.69 L431.41,283.50 L433.90,283.36 L436.39,283.24 L438.88,283.14 L441.37,283.06 L443.86,282.99 L446.35,282.94 L448.84,282.90 L451.33,282.86 L453.82,282.83 L456.31,282.81 L458.80,282.79" fill="none" stroke="#a8a8a8" stroke-width="0.5" stroke-linejoin="round" clip-path="url(#c12)"/>
<path d="M334.30,370.00 L336.79,370.00 L339.28,370.00 L341.77,370.00 L344.26,370.00 L346.75,369.99 L349.24,369.94 L351.73,369.76 L354.22,369.29 L356.71,368.34 L359.20,366.74 L361.69,364.37 L364.18,361.19 L366.67,357.26 L369.16,352.70 L371.65,347.68 L374.14,342.36 L376.63,336.94 L379.12,331.56 L381.61,326.35 L384.10,321.40 L386.59,316.79 L389.08,312.55 L391.57,308.70 L394.06,305.24 L396.55,302.16 L399.04,299.44 L401.53,297.06 L404.02,294.98 L406.51,293.18 L409.00,291.63 L411.49,290.29 L413.98,289.14 L416.47,288.16 L418.96,287.33 L421.45,286.62 L423.94,286.01 L426.43,285.50 L428.92,285.06 L431.41,284.70 L433.90,284.39 L436.39,284.12 L438.88,283.90 L441.37,283.72 L443.86,283.56 L446.35,283.43 L448.84,283.31 L451.33,283.22 L453.82,283.14 L456.31,283.07 L458.80,283.01" fill="none" stroke="#a8a8a8" stroke-width="0.5" stroke-linejoin="round" clip-path="url(#c12)"/>
<path d="M334.30,370.00 L336.79,370.00 L339.28,370.00 L341.77,370.00 L344.26,370.00 L346.75,370.00 L349.24,369.99 L351.73,369.96 L354.22,369.84 L356.71,369.51 L359.20,368.80 L361.69,367.53 L364.18,365.55 L366.67,362.75 L369.16,359.14 L371.65,354.80 L374.14,349.85 L376.63,344.48 L379.12,338.89 L381.61,333.24 L384.10,327.70 L386.59,322.40 L389.08,317.43 L391.57,312.85 L394.06,308.69 L396.55,304.97 L399.04,301.68 L401.53,298.79 L404.02,296.28 L406.51,294.12 L409.00,292.27 L411.49,290.70 L413.98,289.37 L416.47,288.24 L418.96,287.30 L421.45,286.51 L423.94,285.85 L426.43,285.30 L428.92,284.85 L431.41,284.47 L433.90,284.16 L436.39,283.90 L438.88,283.69 L441.37,283.51 L443.86,283.37 L446.35,283.25 L448.84,283.15 L451.33,283.07 L453.82,283.01 L456.31,282.95 L458.80,282.91" fill="none" stroke="#a8a8a8" stroke-width="0.5" stroke-linejoin="round" clip-path="url(#c12)"/>
<path d="M334.30,370.00 L336.79,370.00 L339.28,370.00 L341.77,370.00 L344.26,370.00 L346.75,369.98 L349.24,369.89 L351.73,369.60 L354.22,368.93 L356.71,367.66 L359.20,365.63 L361.69,362.78 L364.18,359.11 L366.67,354.74 L369.16,349.82 L371.65,344.54 L374.14,339.08 L376.63,333.62 L379.12,328.29 L381.61,323.21 L384.10,318.44 L386.59,314.05 L389.08,310.05 L391.57,306.45 L394.06,303.23 L396.55,300.39 L399.04,297.90 L401.53,295.72 L404.02,293.83 L406.51,292.19 L409.00,290.78 L411.49,289.58 L413.98,288.54 L416.47,287.66 L418.96,286.90 L421.45,286.26 L423.94,285.72 L426.43,285.25 L428.92,284.86 L431.41,284.53 L433.90,284.25 L436.39,284.01 L438.88,283.81 L441.37,283.64 L443.86,283.50 L446.35,283.38 L448.84,283.27 L451.33,283.19 L453.82,283.11 L456.31,283.05 L458.80,283.00" fill="none" stroke="#ff3636" stroke-width="1.15" stroke-linejoin="round" clip-path="url(#c12)"/>
<rect x="334.30" y="282.70" width="124.50" height="87.30" fill="none" stroke="#c0c0c0" stroke-width="0.55"/>
<rect x="400.10" y="352.00" width="55.10" height="14.60" fill="#fff" stroke="#d2d2d2" stroke-width="0.6"/>
<line x1="401.50" y1="355.80" x2="409.30" y2="355.80" stroke="#aaa" stroke-width="0.5"/>
<text x="410.30" y="355.80" font-family='"Liberation Serif", serif' font-size="6.8" dominant-baseline="central" fill="#333" textLength="44.16" lengthAdjust="spacingAndGlyphs">Individual Models</text>
<line x1="401.50" y1="362.30" x2="409.30" y2="362.30" stroke="#ff3636" stroke-width="1.5"/>
<text x="410.30" y="362.30" font-family='"Liberation Serif", serif' font-size="6.8" dominant-baseline="central" fill="#333" textLength="40.00" lengthAdjust="spacingAndGlyphs">All LHS Models</text>
<text x="319.70" y="326.75" font-family='"Liberation Serif", serif' font-size="6.6" text-anchor="middle" dominant-baseline="central" fill="#666" transform="rotate(-90 319.70 326.75)" textLength="69" lengthAdjust="spacingAndGlyphs">Probability of Exceedance</text>
<text x="396.55" y="382.60" font-family='"Liberation Serif", serif' font-size="6.6" text-anchor="middle" dominant-baseline="central" fill="#666"><tspan font-style="italic">S</tspan><tspan font-size="4.62" dy="1">a</tspan><tspan dy="-1"> [g]</tspan></text>
<text x="314.10" y="395.60" font-family='"Liberation Serif", serif' font-size="7.6" dominant-baseline="central" fill="#222" stroke="#222" stroke-width="0.18" textLength="150.2" lengthAdjust="spacingAndGlyphs"><tspan font-weight="bold">(i)</tspan> Uncertainty in fragility curves with LHS-</text>
<text x="314.10" y="404.50" font-family='"Liberation Serif", serif' font-size="7.6" dominant-baseline="central" fill="#222" stroke="#222" stroke-width="0.18" textLength="76.8" lengthAdjust="spacingAndGlyphs">based sampling; 8-story</text>
<clipPath id="c13"><rect x="26.50" y="421.00" width="126.00" height="88.20"/></clipPath>
<rect x="26.50" y="421.00" width="126.00" height="88.20" fill="#fff"/>
<text x="26.50" y="516.00" font-size="6.1" text-anchor="middle" dominant-baseline="central" fill="#383838" textLength="7.92" lengthAdjust="spacingAndGlyphs">0.4</text>
<text x="47.50" y="516.00" font-size="6.1" text-anchor="middle" dominant-baseline="central" fill="#383838" textLength="7.92" lengthAdjust="spacingAndGlyphs">0.5</text>
<text x="68.50" y="516.00" font-size="6.1" text-anchor="middle" dominant-baseline="central" fill="#383838" textLength="7.92" lengthAdjust="spacingAndGlyphs">0.6</text>
<text x="89.50" y="516.00" font-size="6.1" text-anchor="middle" dominant-baseline="central" fill="#383838" textLength="7.92" lengthAdjust="spacingAndGlyphs">0.7</text>
<text x="110.50" y="516.00" font-size="6.1" text-anchor="middle" dominant-baseline="central" fill="#383838" textLength="7.92" lengthAdjust="spacingAndGlyphs">0.8</text>
<text x="131.50" y="516.00" font-size="6.1" text-anchor="middle" dominant-baseline="central" fill="#383838" textLength="7.92" lengthAdjust="spacingAndGlyphs">0.9</text>
<text x="152.50" y="516.00" font-size="6.1" text-anchor="middle" dominant-baseline="central" fill="#383838" textLength="3.17" lengthAdjust="spacingAndGlyphs">1</text>
<text x="24.80" y="509.20" font-size="6.1" text-anchor="end" dominant-baseline="central" fill="#383838" dy="1.25" textLength="11.09" lengthAdjust="spacingAndGlyphs">0.25</text>
<text x="24.80" y="479.80" font-size="6.1" text-anchor="end" dominant-baseline="central" fill="#383838" dy="1.25" textLength="7.92" lengthAdjust="spacingAndGlyphs">0.3</text>
<text x="24.80" y="450.40" font-size="6.1" text-anchor="end" dominant-baseline="central" fill="#383838" dy="1.25" textLength="11.09" lengthAdjust="spacingAndGlyphs">0.35</text>
<text x="24.80" y="421.00" font-size="6.1" text-anchor="end" dominant-baseline="central" fill="#383838" dy="1.25" textLength="7.92" lengthAdjust="spacingAndGlyphs">0.4</text>
<circle cx="35.40" cy="461.00" r="1.75" fill="none" stroke="#7070ff" stroke-width="0.55"/>
<circle cx="54.70" cy="463.30" r="1.75" fill="none" stroke="#7070ff" stroke-width="0.55"/>
<circle cx="54.70" cy="468.80" r="1.75" fill="none" stroke="#7070ff" stroke-width="0.55"/>
<circle cx="72.60" cy="453.00" r="1.75" fill="none" stroke="#7070ff" stroke-width="0.55"/>
<circle cx="73.75" cy="463.50" r="1.75" fill="none" stroke="#7070ff" stroke-width="0.55"/>
<circle cx="67.70" cy="485.30" r="1.75" fill="none" stroke="#7070ff" stroke-width="0.55"/>
<circle cx="85.90" cy="456.20" r="1.75" fill="none" stroke="#7070ff" stroke-width="0.55"/>
<circle cx="86.30" cy="463.00" r="1.75" fill="none" stroke="#7070ff" stroke-width="0.55"/>
<circle cx="88.20" cy="473.50" r="1.75" fill="none" stroke="#7070ff" stroke-width="0.55"/>
<circle cx="96.30" cy="452.90" r="1.75" fill="none" stroke="#7070ff" stroke-width="0.55"/>
<circle cx="98.40" cy="456.00" r="1.75" fill="none" stroke="#7070ff" stroke-width="0.55"/>
<circle cx="100.10" cy="451.50" r="1.75" fill="none" stroke="#7070ff" stroke-width="0.55"/>
<circle cx="101.40" cy="460.80" r="1.75" fill="none" stroke="#7070ff" stroke-width="0.55"/>
<circle cx="101.20" cy="467.60" r="1.75" fill="none" stroke="#7070ff" stroke-width="0.55"/>
<circle cx="105.10" cy="454.70" r="1.75" fill="none" stroke="#7070ff" stroke-width="0.55"/>
<circle cx="105.50" cy="454.20" r="1.75" fill="none" stroke="#7070ff" stroke-width="0.55"/>
<circle cx="104.60" cy="457.60" r="1.75" fill="none" stroke="#7070ff" stroke-width="0.55"/>
<circle cx="112.10" cy="456.30" r="1.75" fill="none" stroke="#7070ff" stroke-width="0.55"/>
<circle cx="116.70" cy="455.00" r="1.75" fill="none" stroke="#7070ff" stroke-width="0.55"/>
<circle cx="119.50" cy="461.20" r="1.75" fill="none" stroke="#7070ff" stroke-width="0.55"/>
<circle cx="117.20" cy="439.30" r="1.75" fill="none" stroke="#7070ff" stroke-width="0.55"/>
<circle cx="120.20" cy="438.20" r="1.75" fill="none" stroke="#7070ff" stroke-width="0.55"/>
<circle cx="124.00" cy="437.50" r="1.75" fill="none" stroke="#7070ff" stroke-width="0.55"/>
<circle cx="138.70" cy="452.20" r="1.75" fill="none" stroke="#7070ff" stroke-width="0.55"/>
<rect x="26.50" y="421.00" width="126.00" height="88.20" fill="none" stroke="#c0c0c0" stroke-width="0.55"/>
<text x="7.0" y="464.3" font-family='"Liberation Serif", serif' font-size="6" text-anchor="middle" dominant-baseline="central" fill="#777" font-style="italic" transform="rotate(-90 7.0 464.3)">β</text>
<text x="89.5" y="522.9" font-family='"Liberation Serif", serif' font-size="6" text-anchor="middle" dominant-baseline="central" fill="#777" font-style="italic">θ</text>
<text x="16.40" y="536.00" font-family='"Liberation Serif", serif' font-size="7.6" dominant-baseline="central" fill="#222" stroke="#222" stroke-width="0.18" textLength="124.2" lengthAdjust="spacingAndGlyphs"><tspan font-weight="bold">(j)</tspan> Median-dispersion relation; 8-story</text>
<clipPath id="c14"><rect x="181.80" y="422.70" width="125.20" height="86.90"/></clipPath>
<rect x="181.80" y="422.70" width="125.20" height="86.90" fill="#fff"/>
<line x1="181.80" y1="422.70" x2="181.80" y2="509.60" stroke="#ececec" stroke-width="0.5"/>
<line x1="213.10" y1="422.70" x2="213.10" y2="509.60" stroke="#ececec" stroke-width="0.5"/>
<line x1="244.40" y1="422.70" x2="244.40" y2="509.60" stroke="#ececec" stroke-width="0.5"/>
<line x1="275.70" y1="422.70" x2="275.70" y2="509.60" stroke="#ececec" stroke-width="0.5"/>
<line x1="307.00" y1="422.70" x2="307.00" y2="509.60" stroke="#ececec" stroke-width="0.5"/>
<line x1="181.80" y1="509.60" x2="307.00" y2="509.60" stroke="#ececec" stroke-width="0.5"/>
<line x1="181.80" y1="492.22" x2="307.00" y2="492.22" stroke="#ececec" stroke-width="0.5"/>
<line x1="181.80" y1="474.84" x2="307.00" y2="474.84" stroke="#ececec" stroke-width="0.5"/>
<line x1="181.80" y1="457.46" x2="307.00" y2="457.46" stroke="#ececec" stroke-width="0.5"/>
<line x1="181.80" y1="440.08" x2="307.00" y2="440.08" stroke="#ececec" stroke-width="0.5"/>
<line x1="181.80" y1="422.70" x2="307.00" y2="422.70" stroke="#ececec" stroke-width="0.5"/>
<text x="181.80" y="516.40" font-size="6.1" text-anchor="middle" dominant-baseline="central" fill="#383838" textLength="3.17" lengthAdjust="spacingAndGlyphs">0</text>
<text x="213.10" y="516.40" font-size="6.1" text-anchor="middle" dominant-baseline="central" fill="#383838" textLength="7.92" lengthAdjust="spacingAndGlyphs">0.5</text>
<text x="244.40" y="516.40" font-size="6.1" text-anchor="middle" dominant-baseline="central" fill="#383838" textLength="3.17" lengthAdjust="spacingAndGlyphs">1</text>
<text x="275.70" y="516.40" font-size="6.1" text-anchor="middle" dominant-baseline="central" fill="#383838" textLength="7.92" lengthAdjust="spacingAndGlyphs">1.5</text>
<text x="307.00" y="516.40" font-size="6.1" text-anchor="middle" dominant-baseline="central" fill="#383838" textLength="3.17" lengthAdjust="spacingAndGlyphs">2</text>
<text x="180.10" y="509.60" font-size="6.1" text-anchor="end" dominant-baseline="central" fill="#383838" dy="1.25" textLength="3.17" lengthAdjust="spacingAndGlyphs">0</text>
<text x="180.10" y="492.22" font-size="6.1" text-anchor="end" dominant-baseline="central" fill="#383838" dy="1.25" textLength="7.92" lengthAdjust="spacingAndGlyphs">0.2</text>
<text x="180.10" y="474.84" font-size="6.1" text-anchor="end" dominant-baseline="central" fill="#383838" dy="1.25" textLength="7.92" lengthAdjust="spacingAndGlyphs">0.4</text>
<text x="180.10" y="457.46" font-size="6.1" text-anchor="end" dominant-baseline="central" fill="#383838" dy="1.25" textLength="7.92" lengthAdjust="spacingAndGlyphs">0.6</text>
<text x="180.10" y="440.08" font-size="6.1" text-anchor="end" dominant-baseline="central" fill="#383838" dy="1.25" textLength="7.92" lengthAdjust="spacingAndGlyphs">0.8</text>
<text x="180.10" y="422.70" font-size="6.1" text-anchor="end" dominant-baseline="central" fill="#383838" dy="1.25" textLength="3.17" lengthAdjust="spacingAndGlyphs">1</text>
<path d="M181.80,509.60 L183.62,509.60 L185.43,509.60 L187.25,509.60 L189.06,509.60 L190.88,509.60 L192.69,509.59 L194.51,509.56 L196.32,509.47 L198.14,509.26 L199.95,508.83 L201.77,508.09 L203.58,506.96 L205.40,505.37 L207.22,503.28 L209.03,500.70 L210.85,497.66 L212.66,494.23 L214.48,490.47 L216.29,486.47 L218.11,482.32 L219.92,478.11 L221.74,473.90 L223.55,469.76 L225.37,465.75 L227.19,461.91 L229.00,458.26 L230.82,454.84 L232.63,451.65 L234.45,448.70 L236.26,445.98 L238.08,443.50 L239.89,441.24 L241.71,439.20 L243.52,437.35 L245.34,435.69 L247.15,434.20 L248.97,432.87 L250.79,431.68 L252.60,430.63 L254.42,429.69 L256.23,428.86 L258.05,428.12 L259.86,427.47 L261.68,426.90 L263.49,426.39 L265.31,425.94 L267.12,425.55 L268.94,425.20 L270.75,424.90 L272.57,424.63" fill="none" stroke="#8a8a8a" stroke-width="0.6" stroke-opacity="0.6" stroke-linejoin="round" clip-path="url(#c14)"/>
<path d="M181.80,509.60 L183.62,509.60 L185.43,509.60 L187.25,509.60 L189.06,509.60 L190.88,509.60 L192.69,509.60 L194.51,509.58 L196.32,509.54 L198.14,509.41 L199.95,509.14 L201.77,508.62 L203.58,507.78 L205.40,506.51 L207.22,504.77 L209.03,502.53 L210.85,499.79 L212.66,496.59 L214.48,493.00 L216.29,489.10 L218.11,484.98 L219.92,480.72 L221.74,476.41 L223.55,472.13 L225.37,467.93 L227.19,463.89 L229.00,460.03 L230.82,456.39 L232.63,452.99 L234.45,449.83 L236.26,446.92 L238.08,444.26 L239.89,441.84 L241.71,439.66 L243.52,437.68 L245.34,435.92 L247.15,434.34 L248.97,432.93 L250.79,431.68 L252.60,430.57 L254.42,429.60 L256.23,428.73 L258.05,427.98 L259.86,427.31 L261.68,426.72 L263.49,426.21 L265.31,425.76 L267.12,425.37 L268.94,425.03 L270.75,424.73 L272.57,424.46" fill="none" stroke="#8a8a8a" stroke-width="0.6" stroke-opacity="0.6" stroke-linejoin="round" clip-path="url(#c14)"/>
<path d="M181.80,509.60 L183.62,509.60 L185.43,509.60 L187.25,509.60 L189.06,509.60 L190.88,509.60 L192.69,509.60 L194.51,509.58 L196.32,509.53 L198.14,509.39 L199.95,509.09 L201.77,508.54 L203.58,507.64 L205.40,506.30 L207.22,504.47 L209.03,502.12 L210.85,499.28 L212.66,495.98 L214.48,492.30 L216.29,488.32 L218.11,484.12 L219.92,479.81 L221.74,475.47 L223.55,471.16 L225.37,466.97 L227.19,462.93 L229.00,459.10 L230.82,455.49 L232.63,452.12 L234.45,449.00 L236.26,446.15 L238.08,443.54 L239.89,441.17 L241.71,439.03 L243.52,437.11 L245.34,435.39 L247.15,433.86 L248.97,432.50 L250.79,431.29 L252.60,430.22 L254.42,429.28 L256.23,428.45 L258.05,427.72 L259.86,427.08 L261.68,426.52 L263.49,426.03 L265.31,425.60 L267.12,425.22 L268.94,424.90 L270.75,424.61 L272.57,424.36" fill="none" stroke="#8a8a8a" stroke-width="0.6" stroke-opacity="0.6" stroke-linejoin="round" clip-path="url(#c14)"/>
<path d="M181.80,509.60 L183.62,509.60 L185.43,509.60 L187.25,509.60 L189.06,509.60 L190.88,509.60 L192.69,509.59 L194.51,509.55 L196.32,509.43 L198.14,509.18 L199.95,508.70 L201.77,507.93 L203.58,506.78 L205.40,505.20 L207.22,503.19 L209.03,500.74 L210.85,497.89 L212.66,494.69 L214.48,491.21 L216.29,487.51 L218.11,483.68 L219.92,479.77 L221.74,475.86 L223.55,471.99 L225.37,468.22 L227.19,464.57 L229.00,461.08 L230.82,457.78 L232.63,454.67 L234.45,451.75 L236.26,449.04 L238.08,446.54 L239.89,444.23 L241.71,442.11 L243.52,440.17 L245.34,438.41 L247.15,436.80 L248.97,435.35 L250.79,434.03 L252.60,432.85 L254.42,431.78 L256.23,430.82 L258.05,429.95 L259.86,429.18 L261.68,428.48 L263.49,427.86 L265.31,427.30 L267.12,426.81 L268.94,426.36 L270.75,425.97 L272.57,425.61" fill="none" stroke="#8a8a8a" stroke-width="0.6" stroke-opacity="0.6" stroke-linejoin="round" clip-path="url(#c14)"/>
<path d="M181.80,509.60 L183.62,509.60 L185.43,509.60 L187.25,509.60 L189.06,509.60 L190.88,509.60 L192.69,509.59 L194.51,509.56 L196.32,509.48 L198.14,509.27 L199.95,508.87 L201.77,508.19 L203.58,507.14 L205.40,505.68 L207.22,503.77 L209.03,501.41 L210.85,498.63 L212.66,495.46 L214.48,491.98 L216.29,488.26 L218.11,484.38 L219.92,480.40 L221.74,476.40 L223.55,472.43 L225.37,468.55 L227.19,464.80 L229.00,461.21 L230.82,457.81 L232.63,454.61 L234.45,451.62 L236.26,448.84 L238.08,446.27 L239.89,443.91 L241.71,441.75 L243.52,439.78 L245.34,437.99 L247.15,436.37 L248.97,434.91 L250.79,433.59 L252.60,432.40 L254.42,431.34 L256.23,430.39 L258.05,429.54 L259.86,428.77 L261.68,428.10 L263.49,427.49 L265.31,426.95 L267.12,426.47 L268.94,426.05 L270.75,425.67 L272.57,425.33" fill="none" stroke="#8a8a8a" stroke-width="0.6" stroke-opacity="0.6" stroke-linejoin="round" clip-path="url(#c14)"/>
<path d="M181.80,509.60 L183.62,509.60 L185.43,509.60 L187.25,509.60 L189.06,509.60 L190.88,509.60 L192.69,509.59 L194.51,509.55 L196.32,509.45 L198.14,509.21 L199.95,508.76 L201.77,508.00 L203.58,506.87 L205.40,505.30 L207.22,503.27 L209.03,500.79 L210.85,497.89 L212.66,494.62 L214.48,491.06 L216.29,487.27 L218.11,483.33 L219.92,479.32 L221.74,475.31 L223.55,471.35 L225.37,467.50 L227.19,463.78 L229.00,460.23 L230.82,456.88 L232.63,453.73 L234.45,450.80 L236.26,448.08 L238.08,445.57 L239.89,443.27 L241.71,441.16 L243.52,439.25 L245.34,437.51 L247.15,435.94 L248.97,434.52 L250.79,433.24 L252.60,432.09 L254.42,431.06 L256.23,430.14 L258.05,429.32 L259.86,428.58 L261.68,427.92 L263.49,427.34 L265.31,426.82 L267.12,426.36 L268.94,425.95 L270.75,425.58 L272.57,425.26" fill="none" stroke="#8a8a8a" stroke-width="0.6" stroke-opacity="0.6" stroke-linejoin="round" clip-path="url(#c14)"/>
<path d="M181.80,509.60 L183.62,509.60 L185.43,509.60 L187.25,509.60 L189.06,509.60 L190.88,509.60 L192.69,509.59 L194.51,509.54 L196.32,509.40 L198.14,509.11 L199.95,508.57 L201.77,507.70 L203.58,506.43 L205.40,504.70 L207.22,502.51 L209.03,499.88 L210.85,496.84 L212.66,493.45 L214.48,489.80 L216.29,485.95 L218.11,481.98 L219.92,477.97 L221.74,473.97 L223.55,470.05 L225.37,466.25 L227.19,462.60 L229.00,459.13 L230.82,455.86 L232.63,452.80 L234.45,449.95 L236.26,447.31 L238.08,444.88 L239.89,442.66 L241.71,440.62 L243.52,438.77 L245.34,437.10 L247.15,435.58 L248.97,434.21 L250.79,432.98 L252.60,431.87 L254.42,430.87 L256.23,429.98 L258.05,429.18 L259.86,428.47 L261.68,427.84 L263.49,427.27 L265.31,426.76 L267.12,426.31 L268.94,425.91 L270.75,425.56 L272.57,425.24" fill="none" stroke="#8a8a8a" stroke-width="0.6" stroke-opacity="0.6" stroke-linejoin="round" clip-path="url(#c14)"/>
<path d="M181.80,509.60 L183.62,509.60 L185.43,509.60 L187.25,509.60 L189.06,509.60 L190.88,509.60 L192.69,509.59 L194.51,509.55 L196.32,509.43 L198.14,509.16 L199.95,508.65 L201.77,507.81 L203.58,506.56 L205.40,504.85 L207.22,502.67 L209.03,500.01 L210.85,496.93 L212.66,493.49 L214.48,489.76 L216.29,485.82 L218.11,481.76 L219.92,477.65 L221.74,473.57 L223.55,469.56 L225.37,465.68 L227.19,461.96 L229.00,458.43 L230.82,455.11 L232.63,452.01 L234.45,449.14 L236.26,446.49 L238.08,444.05 L239.89,441.83 L241.71,439.81 L243.52,437.98 L245.34,436.32 L247.15,434.83 L248.97,433.49 L250.79,432.29 L252.60,431.22 L254.42,430.26 L256.23,429.40 L258.05,428.64 L259.86,427.96 L261.68,427.36 L263.49,426.82 L265.31,426.35 L267.12,425.93 L268.94,425.56 L270.75,425.23 L272.57,424.94" fill="none" stroke="#8a8a8a" stroke-width="0.6" stroke-opacity="0.6" stroke-linejoin="round" clip-path="url(#c14)"/>
<path d="M181.80,509.60 L183.62,509.60 L185.43,509.60 L187.25,509.60 L189.06,509.60 L190.88,509.60 L192.69,509.59 L194.51,509.55 L196.32,509.43 L198.14,509.18 L199.95,508.71 L201.77,507.93 L203.58,506.77 L205.40,505.18 L207.22,503.14 L209.03,500.66 L210.85,497.78 L212.66,494.54 L214.48,491.01 L216.29,487.27 L218.11,483.40 L219.92,479.45 L221.74,475.50 L223.55,471.60 L225.37,467.80 L227.19,464.13 L229.00,460.63 L230.82,457.31 L232.63,454.20 L234.45,451.28 L236.26,448.58 L238.08,446.08 L239.89,443.78 L241.71,441.68 L243.52,439.75 L245.34,438.01 L247.15,436.42 L248.97,434.98 L250.79,433.69 L252.60,432.52 L254.42,431.47 L256.23,430.53 L258.05,429.68 L259.86,428.93 L261.68,428.25 L263.49,427.64 L265.31,427.10 L267.12,426.62 L268.94,426.19 L270.75,425.81 L272.57,425.47" fill="none" stroke="#8a8a8a" stroke-width="0.6" stroke-opacity="0.6" stroke-linejoin="round" clip-path="url(#c14)"/>
<path d="M181.80,509.60 L183.62,509.60 L185.43,509.60 L187.25,509.60 L189.06,509.60 L190.88,509.59 L192.69,509.56 L194.51,509.46 L196.32,509.24 L198.14,508.79 L199.95,508.06 L201.77,506.96 L203.58,505.45 L205.40,503.52 L207.22,501.18 L209.03,498.45 L210.85,495.40 L212.66,492.07 L214.48,488.55 L216.29,484.89 L218.11,481.16 L219.92,477.42 L221.74,473.71 L223.55,470.09 L225.37,466.57 L227.19,463.19 L229.00,459.98 L230.82,456.93 L232.63,454.06 L234.45,451.38 L236.26,448.88 L238.08,446.56 L239.89,444.41 L241.71,442.43 L243.52,440.62 L245.34,438.95 L247.15,437.43 L248.97,436.04 L250.79,434.77 L252.60,433.62 L254.42,432.57 L256.23,431.62 L258.05,430.75 L259.86,429.97 L261.68,429.27 L263.49,428.63 L265.31,428.05 L267.12,427.53 L268.94,427.06 L270.75,426.63 L272.57,426.25" fill="none" stroke="#8a8a8a" stroke-width="0.6" stroke-opacity="0.6" stroke-linejoin="round" clip-path="url(#c14)"/>
<path d="M181.80,509.60 L183.62,509.60 L185.43,509.60 L187.25,509.60 L189.06,509.60 L190.88,509.60 L192.69,509.59 L194.51,509.56 L196.32,509.46 L198.14,509.24 L199.95,508.80 L201.77,508.06 L203.58,506.94 L205.40,505.38 L207.22,503.36 L209.03,500.87 L210.85,497.94 L212.66,494.64 L214.48,491.03 L216.29,487.19 L218.11,483.20 L219.92,479.13 L221.74,475.06 L223.55,471.05 L225.37,467.14 L227.19,463.38 L229.00,459.79 L230.82,456.41 L232.63,453.24 L234.45,450.29 L236.26,447.56 L238.08,445.04 L239.89,442.74 L241.71,440.65 L243.52,438.74 L245.34,437.02 L247.15,435.46 L248.97,434.06 L250.79,432.80 L252.60,431.68 L254.42,430.67 L256.23,429.77 L258.05,428.97 L259.86,428.26 L261.68,427.62 L263.49,427.06 L265.31,426.56 L267.12,426.11 L268.94,425.72 L270.75,425.37 L272.57,425.06" fill="none" stroke="#8a8a8a" stroke-width="0.6" stroke-opacity="0.6" stroke-linejoin="round" clip-path="url(#c14)"/>
<path d="M181.80,509.60 L183.62,509.60 L185.43,509.60 L187.25,509.60 L189.06,509.60 L190.88,509.60 L192.69,509.59 L194.51,509.56 L196.32,509.46 L198.14,509.23 L199.95,508.79 L201.77,508.05 L203.58,506.93 L205.40,505.37 L207.22,503.35 L209.03,500.86 L210.85,497.95 L212.66,494.66 L214.48,491.06 L216.29,487.23 L218.11,483.25 L219.92,479.20 L221.74,475.15 L223.55,471.14 L225.37,467.25 L227.19,463.49 L229.00,459.92 L230.82,456.54 L232.63,453.37 L234.45,450.42 L236.26,447.69 L238.08,445.18 L239.89,442.88 L241.71,440.78 L243.52,438.87 L245.34,437.14 L247.15,435.58 L248.97,434.18 L250.79,432.91 L252.60,431.78 L254.42,430.77 L256.23,429.86 L258.05,429.05 L259.86,428.33 L261.68,427.69 L263.49,427.12 L265.31,426.62 L267.12,426.17 L268.94,425.77 L270.75,425.42 L272.57,425.11" fill="none" stroke="#8a8a8a" stroke-width="0.6" stroke-opacity="0.6" stroke-linejoin="round" clip-path="url(#c14)"/>
<path d="M181.80,509.60 L183.62,509.60 L185.43,509.60 L187.25,509.60 L189.06,509.60 L190.88,509.60 L192.69,509.59 L194.51,509.55 L196.32,509.44 L198.14,509.19 L199.95,508.72 L201.77,507.93 L203.58,506.74 L205.40,505.11 L207.22,503.01 L209.03,500.46 L210.85,497.47 L212.66,494.12 L214.48,490.48 L216.29,486.62 L218.11,482.62 L219.92,478.56 L221.74,474.50 L223.55,470.52 L225.37,466.64 L227.19,462.92 L229.00,459.37 L230.82,456.03 L232.63,452.90 L234.45,449.99 L236.26,447.30 L238.08,444.83 L239.89,442.56 L241.71,440.49 L243.52,438.62 L245.34,436.92 L247.15,435.38 L248.97,434.00 L250.79,432.76 L252.60,431.65 L254.42,430.65 L256.23,429.76 L258.05,428.97 L259.86,428.26 L261.68,427.63 L263.49,427.07 L265.31,426.58 L267.12,426.13 L268.94,425.74 L270.75,425.39 L272.57,425.09" fill="none" stroke="#8a8a8a" stroke-width="0.6" stroke-opacity="0.6" stroke-linejoin="round" clip-path="url(#c14)"/>
<path d="M181.80,509.60 L183.62,509.60 L185.43,509.60 L187.25,509.60 L189.06,509.60 L190.88,509.60 L192.69,509.59 L194.51,509.56 L196.32,509.46 L198.14,509.23 L199.95,508.81 L201.77,508.10 L203.58,507.03 L205.40,505.56 L207.22,503.65 L209.03,501.31 L210.85,498.56 L212.66,495.46 L214.48,492.05 L216.29,488.42 L218.11,484.64 L219.92,480.76 L221.74,476.86 L223.55,472.99 L225.37,469.21 L227.19,465.54 L229.00,462.02 L230.82,458.67 L232.63,455.51 L234.45,452.55 L236.26,449.79 L238.08,447.24 L239.89,444.88 L241.71,442.71 L243.52,440.72 L245.34,438.91 L247.15,437.26 L248.97,435.76 L250.79,434.41 L252.60,433.19 L254.42,432.08 L256.23,431.09 L258.05,430.20 L259.86,429.40 L261.68,428.68 L263.49,428.04 L265.31,427.46 L267.12,426.95 L268.94,426.49 L270.75,426.08 L272.57,425.71" fill="none" stroke="#8a8a8a" stroke-width="0.6" stroke-opacity="0.6" stroke-linejoin="round" clip-path="url(#c14)"/>
<path d="M181.80,509.60 L183.62,509.60 L185.43,509.60 L187.25,509.60 L189.06,509.60 L190.88,509.60 L192.69,509.58 L194.51,509.53 L196.32,509.38 L198.14,509.08 L199.95,508.52 L201.77,507.64 L203.58,506.36 L205.40,504.65 L207.22,502.50 L209.03,499.92 L210.85,496.96 L212.66,493.67 L214.48,490.12 L216.29,486.39 L218.11,482.54 L219.92,478.64 L221.74,474.75 L223.55,470.93 L225.37,467.21 L227.19,463.63 L229.00,460.22 L230.82,456.99 L232.63,453.96 L234.45,451.12 L236.26,448.49 L238.08,446.05 L239.89,443.81 L241.71,441.75 L243.52,439.87 L245.34,438.15 L247.15,436.60 L248.97,435.18 L250.79,433.90 L252.60,432.75 L254.42,431.70 L256.23,430.76 L258.05,429.92 L259.86,429.16 L261.68,428.48 L263.49,427.87 L265.31,427.32 L267.12,426.83 L268.94,426.39 L270.75,426.00 L272.57,425.65" fill="none" stroke="#8a8a8a" stroke-width="0.6" stroke-opacity="0.6" stroke-linejoin="round" clip-path="url(#c14)"/>
<path d="M181.80,509.60 L183.62,509.60 L185.43,509.60 L187.25,509.60 L189.06,509.60 L190.88,509.60 L192.69,509.59 L194.51,509.56 L196.32,509.47 L198.14,509.26 L199.95,508.85 L201.77,508.17 L203.58,507.14 L205.40,505.69 L207.22,503.81 L209.03,501.49 L210.85,498.76 L212.66,495.66 L214.48,492.25 L216.29,488.61 L218.11,484.79 L219.92,480.89 L221.74,476.96 L223.55,473.05 L225.37,469.23 L227.19,465.52 L229.00,461.97 L230.82,458.59 L232.63,455.40 L234.45,452.42 L236.26,449.64 L238.08,447.06 L239.89,444.69 L241.71,442.51 L243.52,440.51 L245.34,438.70 L247.15,437.05 L248.97,435.55 L250.79,434.20 L252.60,432.98 L254.42,431.88 L256.23,430.90 L258.05,430.01 L259.86,429.22 L261.68,428.51 L263.49,427.87 L265.31,427.31 L267.12,426.80 L268.94,426.35 L270.75,425.95 L272.57,425.59" fill="none" stroke="#8a8a8a" stroke-width="0.6" stroke-opacity="0.6" stroke-linejoin="round" clip-path="url(#c14)"/>
<path d="M181.80,509.60 L183.62,509.60 L185.43,509.60 L187.25,509.60 L189.06,509.60 L190.88,509.59 L192.69,509.56 L194.51,509.45 L196.32,509.20 L198.14,508.73 L199.95,507.95 L201.77,506.80 L203.58,505.25 L205.40,503.27 L207.22,500.88 L209.03,498.12 L210.85,495.05 L212.66,491.71 L214.48,488.19 L216.29,484.54 L218.11,480.82 L219.92,477.11 L221.74,473.43 L223.55,469.83 L225.37,466.35 L227.19,463.01 L229.00,459.83 L230.82,456.82 L232.63,453.98 L234.45,451.33 L236.26,448.86 L238.08,446.56 L239.89,444.44 L241.71,442.48 L243.52,440.68 L245.34,439.02 L247.15,437.51 L248.97,436.13 L250.79,434.87 L252.60,433.72 L254.42,432.68 L256.23,431.73 L258.05,430.87 L259.86,430.08 L261.68,429.38 L263.49,428.74 L265.31,428.16 L267.12,427.63 L268.94,427.16 L270.75,426.73 L272.57,426.34" fill="none" stroke="#8a8a8a" stroke-width="0.6" stroke-opacity="0.6" stroke-linejoin="round" clip-path="url(#c14)"/>
<path d="M181.80,509.60 L183.62,509.60 L185.43,509.60 L187.25,509.60 L189.06,509.60 L190.88,509.60 L192.69,509.59 L194.51,509.55 L196.32,509.42 L198.14,509.15 L199.95,508.64 L201.77,507.79 L203.58,506.53 L205.40,504.80 L207.22,502.59 L209.03,499.91 L210.85,496.81 L212.66,493.35 L214.48,489.59 L216.29,485.64 L218.11,481.57 L219.92,477.45 L221.74,473.35 L223.55,469.33 L225.37,465.45 L227.19,461.73 L229.00,458.21 L230.82,454.89 L232.63,451.80 L234.45,448.93 L236.26,446.29 L238.08,443.87 L239.89,441.65 L241.71,439.64 L243.52,437.82 L245.34,436.18 L247.15,434.70 L248.97,433.37 L250.79,432.18 L252.60,431.11 L254.42,430.16 L256.23,429.31 L258.05,428.56 L259.86,427.89 L261.68,427.29 L263.49,426.76 L265.31,426.29 L267.12,425.88 L268.94,425.51 L270.75,425.19 L272.57,424.90" fill="none" stroke="#8a8a8a" stroke-width="0.6" stroke-opacity="0.6" stroke-linejoin="round" clip-path="url(#c14)"/>
<path d="M181.80,509.60 L183.62,509.60 L185.43,509.60 L187.25,509.60 L189.06,509.60 L190.88,509.59 L192.69,509.56 L194.51,509.47 L196.32,509.26 L198.14,508.84 L199.95,508.15 L201.77,507.10 L203.58,505.67 L205.40,503.82 L207.22,501.56 L209.03,498.93 L210.85,495.98 L212.66,492.75 L214.48,489.31 L216.29,485.73 L218.11,482.07 L219.92,478.39 L221.74,474.72 L223.55,471.13 L225.37,467.63 L227.19,464.27 L229.00,461.05 L230.82,457.99 L232.63,455.11 L234.45,452.40 L236.26,449.87 L238.08,447.52 L239.89,445.33 L241.71,443.32 L243.52,441.46 L245.34,439.75 L247.15,438.19 L248.97,436.75 L250.79,435.44 L252.60,434.25 L254.42,433.16 L256.23,432.17 L258.05,431.28 L259.86,430.46 L261.68,429.72 L263.49,429.05 L265.31,428.44 L267.12,427.89 L268.94,427.40 L270.75,426.95 L272.57,426.54" fill="none" stroke="#8a8a8a" stroke-width="0.6" stroke-opacity="0.6" stroke-linejoin="round" clip-path="url(#c14)"/>
<path d="M181.80,509.60 L183.62,509.60 L185.43,509.60 L187.25,509.60 L189.06,509.60 L190.88,509.60 L192.69,509.60 L194.51,509.58 L196.32,509.53 L198.14,509.39 L199.95,509.08 L201.77,508.51 L203.58,507.57 L205.40,506.19 L207.22,504.30 L209.03,501.88 L210.85,498.95 L212.66,495.56 L214.48,491.77 L216.29,487.69 L218.11,483.41 L219.92,479.01 L221.74,474.60 L223.55,470.24 L225.37,466.00 L227.19,461.94 L229.00,458.10 L230.82,454.49 L232.63,451.13 L234.45,448.04 L236.26,445.22 L238.08,442.64 L239.89,440.32 L241.71,438.23 L243.52,436.36 L245.34,434.69 L247.15,433.20 L248.97,431.89 L250.79,430.73 L252.60,429.71 L254.42,428.81 L256.23,428.02 L258.05,427.33 L259.86,426.72 L261.68,426.20 L263.49,425.74 L265.31,425.34 L267.12,424.99 L268.94,424.69 L270.75,424.42 L272.57,424.19" fill="none" stroke="#8a8a8a" stroke-width="0.6" stroke-opacity="0.6" stroke-linejoin="round" clip-path="url(#c14)"/>
<path d="M181.80,509.60 L183.62,509.60 L185.43,509.60 L187.25,509.60 L189.06,509.60 L190.88,509.60 L192.69,509.59 L194.51,509.56 L196.32,509.47 L198.14,509.25 L199.95,508.83 L201.77,508.11 L203.58,507.03 L205.40,505.51 L207.22,503.54 L209.03,501.10 L210.85,498.24 L212.66,495.01 L214.48,491.46 L216.29,487.67 L218.11,483.73 L219.92,479.71 L221.74,475.68 L223.55,471.69 L225.37,467.80 L227.19,464.04 L229.00,460.46 L230.82,457.07 L232.63,453.89 L234.45,450.92 L236.26,448.17 L238.08,445.63 L239.89,443.31 L241.71,441.18 L243.52,439.25 L245.34,437.49 L247.15,435.91 L248.97,434.48 L250.79,433.19 L252.60,432.03 L254.42,431.00 L256.23,430.07 L258.05,429.25 L259.86,428.51 L261.68,427.86 L263.49,427.27 L265.31,426.75 L267.12,426.29 L268.94,425.88 L270.75,425.52 L272.57,425.20" fill="none" stroke="#8a8a8a" stroke-width="0.6" stroke-opacity="0.6" stroke-linejoin="round" clip-path="url(#c14)"/>
<path d="M181.80,509.60 L183.62,509.60 L185.43,509.60 L187.25,509.60 L189.06,509.60 L190.88,509.60 L192.69,509.58 L194.51,509.53 L196.32,509.39 L198.14,509.08 L199.95,508.53 L201.77,507.64 L203.58,506.35 L205.40,504.61 L207.22,502.43 L209.03,499.81 L210.85,496.79 L212.66,493.45 L214.48,489.84 L216.29,486.04 L218.11,482.13 L219.92,478.18 L221.74,474.24 L223.55,470.38 L225.37,466.62 L227.19,463.02 L229.00,459.59 L230.82,456.34 L232.63,453.30 L234.45,450.47 L236.26,447.84 L238.08,445.41 L239.89,443.19 L241.71,441.15 L243.52,439.29 L245.34,437.60 L247.15,436.06 L248.97,434.67 L250.79,433.42 L252.60,432.29 L254.42,431.27 L256.23,430.36 L258.05,429.54 L259.86,428.81 L261.68,428.15 L263.49,427.56 L265.31,427.04 L267.12,426.57 L268.94,426.15 L270.75,425.78 L272.57,425.44" fill="none" stroke="#8a8a8a" stroke-width="0.6" stroke-opacity="0.6" stroke-linejoin="round" clip-path="url(#c14)"/>
<path d="M181.80,509.60 L183.62,509.60 L185.43,509.60 L187.25,509.60 L189.06,509.60 L190.88,509.60 L192.69,509.59 L194.51,509.54 L196.32,509.41 L198.14,509.13 L199.95,508.62 L201.77,507.78 L203.58,506.56 L205.40,504.90 L207.22,502.79 L209.03,500.25 L210.85,497.30 L212.66,494.02 L214.48,490.46 L216.29,486.70 L218.11,482.81 L219.92,478.87 L221.74,474.93 L223.55,471.05 L225.37,467.28 L227.19,463.65 L229.00,460.18 L230.82,456.91 L232.63,453.83 L234.45,450.96 L236.26,448.29 L238.08,445.83 L239.89,443.56 L241.71,441.49 L243.52,439.60 L245.34,437.87 L247.15,436.31 L248.97,434.90 L250.79,433.62 L252.60,432.47 L254.42,431.43 L256.23,430.50 L258.05,429.66 L259.86,428.91 L261.68,428.24 L263.49,427.64 L265.31,427.11 L267.12,426.63 L268.94,426.20 L270.75,425.82 L272.57,425.48" fill="none" stroke="#8a8a8a" stroke-width="0.6" stroke-opacity="0.6" stroke-linejoin="round" clip-path="url(#c14)"/>
<path d="M181.80,509.60 L183.62,509.60 L185.43,509.60 L187.25,509.60 L189.06,509.60 L190.88,509.60 L192.69,509.57 L194.51,509.50 L196.32,509.32 L198.14,508.95 L199.95,508.31 L201.77,507.32 L203.58,505.92 L205.40,504.08 L207.22,501.81 L209.03,499.13 L210.85,496.09 L212.66,492.75 L214.48,489.18 L216.29,485.45 L218.11,481.62 L219.92,477.77 L221.74,473.95 L223.55,470.20 L225.37,466.56 L227.19,463.07 L229.00,459.75 L230.82,456.60 L232.63,453.65 L234.45,450.89 L236.26,448.32 L238.08,445.95 L239.89,443.76 L241.71,441.75 L243.52,439.92 L245.34,438.24 L247.15,436.71 L248.97,435.32 L250.79,434.06 L252.60,432.92 L254.42,431.88 L256.23,430.95 L258.05,430.11 L259.86,429.35 L261.68,428.67 L263.49,428.06 L265.31,427.51 L267.12,427.02 L268.94,426.57 L270.75,426.17 L272.57,425.82" fill="none" stroke="#8a8a8a" stroke-width="0.6" stroke-opacity="0.6" stroke-linejoin="round" clip-path="url(#c14)"/>
<path d="M181.80,509.60 L183.62,509.60 L185.43,509.60 L187.25,509.60 L189.06,509.60 L190.88,509.60 L192.69,509.59 L194.51,509.55 L196.32,509.45 L198.14,509.21 L199.95,508.77 L201.77,508.03 L203.58,506.93 L205.40,505.41 L207.22,503.46 L209.03,501.06 L210.85,498.26 L212.66,495.11 L214.48,491.66 L216.29,487.98 L218.11,484.16 L219.92,480.25 L221.74,476.33 L223.55,472.45 L225.37,468.66 L227.19,464.99 L229.00,461.48 L230.82,458.14 L232.63,455.00 L234.45,452.05 L236.26,449.31 L238.08,446.78 L239.89,444.44 L241.71,442.30 L243.52,440.34 L245.34,438.55 L247.15,436.92 L248.97,435.45 L250.79,434.12 L252.60,432.92 L254.42,431.84 L256.23,430.86 L258.05,429.99 L259.86,429.21 L261.68,428.51 L263.49,427.88 L265.31,427.32 L267.12,426.81 L268.94,426.37 L270.75,425.97 L272.57,425.61" fill="none" stroke="#8a8a8a" stroke-width="0.6" stroke-opacity="0.6" stroke-linejoin="round" clip-path="url(#c14)"/>
<path d="M181.80,509.60 L183.62,509.60 L185.43,509.60 L187.25,509.60 L189.06,509.60 L190.88,509.60 L192.69,509.58 L194.51,509.52 L196.32,509.37 L198.14,509.04 L199.95,508.45 L201.77,507.53 L203.58,506.20 L205.40,504.43 L207.22,502.21 L209.03,499.56 L210.85,496.53 L212.66,493.18 L214.48,489.58 L216.29,485.80 L218.11,481.91 L219.92,477.99 L221.74,474.09 L223.55,470.26 L225.37,466.55 L227.19,462.98 L229.00,459.59 L230.82,456.38 L232.63,453.37 L234.45,450.56 L236.26,447.96 L238.08,445.55 L239.89,443.34 L241.71,441.31 L243.52,439.46 L245.34,437.77 L247.15,436.24 L248.97,434.86 L250.79,433.60 L252.60,432.47 L254.42,431.45 L256.23,430.53 L258.05,429.71 L259.86,428.97 L261.68,428.31 L263.49,427.71 L265.31,427.18 L267.12,426.70 L268.94,426.28 L270.75,425.89 L272.57,425.55" fill="none" stroke="#8a8a8a" stroke-width="0.6" stroke-opacity="0.6" stroke-linejoin="round" clip-path="url(#c14)"/>
<path d="M181.80,509.60 L183.62,509.60 L185.43,509.60 L187.25,509.60 L189.06,509.60 L190.88,509.60 L192.69,509.59 L194.51,509.57 L196.32,509.49 L198.14,509.30 L199.95,508.92 L201.77,508.25 L203.58,507.22 L205.40,505.76 L207.22,503.83 L209.03,501.43 L210.85,498.58 L212.66,495.33 L214.48,491.75 L216.29,487.91 L218.11,483.90 L219.92,479.80 L221.74,475.68 L223.55,471.60 L225.37,467.63 L227.19,463.79 L229.00,460.14 L230.82,456.68 L232.63,453.44 L234.45,450.43 L236.26,447.64 L238.08,445.08 L239.89,442.73 L241.71,440.60 L243.52,438.66 L245.34,436.91 L247.15,435.34 L248.97,433.92 L250.79,432.65 L252.60,431.52 L254.42,430.51 L256.23,429.60 L258.05,428.80 L259.86,428.09 L261.68,427.46 L263.49,426.90 L265.31,426.41 L267.12,425.97 L268.94,425.58 L270.75,425.24 L272.57,424.94" fill="none" stroke="#8a8a8a" stroke-width="0.6" stroke-opacity="0.6" stroke-linejoin="round" clip-path="url(#c14)"/>
<path d="M181.80,509.60 L183.62,509.60 L185.43,509.60 L187.25,509.60 L189.06,509.60 L190.88,509.60 L192.69,509.58 L194.51,509.51 L196.32,509.34 L198.14,508.99 L199.95,508.37 L201.77,507.41 L203.58,506.04 L205.40,504.23 L207.22,501.97 L209.03,499.31 L210.85,496.27 L212.66,492.92 L214.48,489.33 L216.29,485.58 L218.11,481.73 L219.92,477.84 L221.74,473.99 L223.55,470.20 L225.37,466.54 L227.19,463.01 L229.00,459.66 L230.82,456.49 L232.63,453.51 L234.45,450.73 L236.26,448.15 L238.08,445.76 L239.89,443.56 L241.71,441.55 L243.52,439.71 L245.34,438.02 L247.15,436.50 L248.97,435.11 L250.79,433.85 L252.60,432.71 L254.42,431.69 L256.23,430.76 L258.05,429.93 L259.86,429.18 L261.68,428.51 L263.49,427.90 L265.31,427.36 L267.12,426.87 L268.94,426.44 L270.75,426.05 L272.57,425.70" fill="none" stroke="#8a8a8a" stroke-width="0.6" stroke-opacity="0.6" stroke-linejoin="round" clip-path="url(#c14)"/>
<path d="M181.80,509.60 L183.62,509.60 L185.43,509.60 L187.25,509.60 L189.06,509.60 L190.88,509.60 L192.69,509.59 L194.51,509.55 L196.32,509.45 L198.14,509.20 L199.95,508.73 L201.77,507.96 L203.58,506.79 L205.40,505.18 L207.22,503.11 L209.03,500.58 L210.85,497.63 L212.66,494.31 L214.48,490.69 L216.29,486.86 L218.11,482.89 L219.92,478.84 L221.74,474.81 L223.55,470.83 L225.37,466.96 L227.19,463.24 L229.00,459.69 L230.82,456.34 L232.63,453.21 L234.45,450.29 L236.26,447.59 L238.08,445.10 L239.89,442.82 L241.71,440.74 L243.52,438.85 L245.34,437.13 L247.15,435.58 L248.97,434.19 L250.79,432.93 L252.60,431.81 L254.42,430.80 L256.23,429.90 L258.05,429.09 L259.86,428.38 L261.68,427.74 L263.49,427.17 L265.31,426.66 L267.12,426.21 L268.94,425.81 L270.75,425.46 L272.57,425.15" fill="none" stroke="#8a8a8a" stroke-width="0.6" stroke-opacity="0.6" stroke-linejoin="round" clip-path="url(#c14)"/>
<path d="M181.80,509.60 L183.62,509.60 L185.43,509.60 L187.25,509.60 L189.06,509.60 L190.88,509.60 L192.69,509.59 L194.51,509.55 L196.32,509.43 L198.14,509.18 L199.95,508.69 L201.77,507.90 L203.58,506.71 L205.40,505.10 L207.22,503.02 L209.03,500.50 L210.85,497.57 L212.66,494.28 L214.48,490.70 L216.29,486.92 L218.11,483.00 L219.92,479.01 L221.74,475.03 L223.55,471.10 L225.37,467.28 L227.19,463.60 L229.00,460.10 L230.82,456.78 L232.63,453.67 L234.45,450.76 L236.26,448.07 L238.08,445.59 L239.89,443.31 L241.71,441.22 L243.52,439.32 L245.34,437.59 L247.15,436.03 L248.97,434.62 L250.79,433.35 L252.60,432.20 L254.42,431.17 L256.23,430.25 L258.05,429.43 L259.86,428.69 L261.68,428.03 L263.49,427.44 L265.31,426.92 L267.12,426.45 L268.94,426.03 L270.75,425.66 L272.57,425.33" fill="none" stroke="#8a8a8a" stroke-width="0.6" stroke-opacity="0.6" stroke-linejoin="round" clip-path="url(#c14)"/>
<path d="M181.80,509.60 L183.62,509.60 L185.43,509.60 L187.25,509.60 L189.06,509.60 L190.88,509.60 L192.69,509.60 L194.51,509.58 L196.32,509.52 L198.14,509.37 L199.95,509.05 L201.77,508.46 L203.58,507.52 L205.40,506.15 L207.22,504.29 L209.03,501.92 L210.85,499.07 L212.66,495.79 L214.48,492.13 L216.29,488.18 L218.11,484.04 L219.92,479.78 L221.74,475.50 L223.55,471.26 L225.37,467.12 L227.19,463.14 L229.00,459.36 L230.82,455.79 L232.63,452.46 L234.45,449.37 L236.26,446.53 L238.08,443.94 L239.89,441.57 L241.71,439.44 L243.52,437.51 L245.34,435.79 L247.15,434.24 L248.97,432.86 L250.79,431.64 L252.60,430.55 L254.42,429.59 L256.23,428.74 L258.05,427.99 L259.86,427.33 L261.68,426.76 L263.49,426.25 L265.31,425.80 L267.12,425.41 L268.94,425.07 L270.75,424.77 L272.57,424.51" fill="none" stroke="#8a8a8a" stroke-width="0.6" stroke-opacity="0.6" stroke-linejoin="round" clip-path="url(#c14)"/>
<path d="M181.80,509.60 L183.62,509.60 L185.43,509.60 L187.25,509.60 L189.06,509.60 L190.88,509.60 L192.69,509.59 L194.51,509.55 L196.32,509.44 L198.14,509.20 L199.95,508.75 L201.77,508.01 L203.58,506.90 L205.40,505.38 L207.22,503.43 L209.03,501.04 L210.85,498.26 L212.66,495.13 L214.48,491.70 L216.29,488.06 L218.11,484.27 L219.92,480.40 L221.74,476.51 L223.55,472.66 L225.37,468.90 L227.19,465.25 L229.00,461.76 L230.82,458.44 L232.63,455.31 L234.45,452.38 L236.26,449.64 L238.08,447.11 L239.89,444.77 L241.71,442.62 L243.52,440.66 L245.34,438.86 L247.15,437.23 L248.97,435.74 L250.79,434.40 L252.60,433.18 L254.42,432.09 L256.23,431.10 L258.05,430.22 L259.86,429.42 L261.68,428.70 L263.49,428.06 L265.31,427.49 L267.12,426.98 L268.94,426.52 L270.75,426.11 L272.57,425.74" fill="none" stroke="#8a8a8a" stroke-width="0.6" stroke-opacity="0.6" stroke-linejoin="round" clip-path="url(#c14)"/>
<path d="M181.80,509.60 L183.62,509.60 L185.43,509.60 L187.25,509.60 L189.06,509.60 L190.88,509.60 L192.69,509.58 L194.51,509.51 L196.32,509.34 L198.14,508.98 L199.95,508.35 L201.77,507.37 L203.58,505.97 L205.40,504.14 L207.22,501.85 L209.03,499.14 L210.85,496.06 L212.66,492.68 L214.48,489.05 L216.29,485.26 L218.11,481.37 L219.92,477.46 L221.74,473.58 L223.55,469.78 L225.37,466.10 L227.19,462.57 L229.00,459.21 L230.82,456.04 L232.63,453.07 L234.45,450.30 L236.26,447.73 L238.08,445.36 L239.89,443.18 L241.71,441.18 L243.52,439.35 L245.34,437.69 L247.15,436.18 L248.97,434.81 L250.79,433.57 L252.60,432.45 L254.42,431.44 L256.23,430.53 L258.05,429.72 L259.86,428.98 L261.68,428.32 L263.49,427.73 L265.31,427.20 L267.12,426.73 L268.94,426.30 L270.75,425.92 L272.57,425.58" fill="none" stroke="#8a8a8a" stroke-width="0.6" stroke-opacity="0.6" stroke-linejoin="round" clip-path="url(#c14)"/>
<path d="M181.80,509.60 L183.62,509.60 L185.43,509.60 L187.25,509.60 L189.06,509.60 L190.88,509.60 L192.69,509.59 L194.51,509.55 L196.32,509.43 L198.14,509.17 L199.95,508.69 L201.77,507.89 L203.58,506.71 L205.40,505.09 L207.22,503.02 L209.03,500.51 L210.85,497.58 L212.66,494.30 L214.48,490.74 L216.29,486.97 L218.11,483.06 L219.92,479.08 L221.74,475.11 L223.55,471.20 L225.37,467.38 L227.19,463.71 L229.00,460.21 L230.82,456.90 L232.63,453.79 L234.45,450.88 L236.26,448.19 L238.08,445.71 L239.89,443.43 L241.71,441.34 L243.52,439.43 L245.34,437.70 L247.15,436.14 L248.97,434.72 L250.79,433.44 L252.60,432.29 L254.42,431.26 L256.23,430.33 L258.05,429.50 L259.86,428.76 L261.68,428.09 L263.49,427.50 L265.31,426.97 L267.12,426.50 L268.94,426.08 L270.75,425.71 L272.57,425.37" fill="none" stroke="#8a8a8a" stroke-width="0.6" stroke-opacity="0.6" stroke-linejoin="round" clip-path="url(#c14)"/>
<path d="M181.80,509.60 L183.62,509.60 L185.43,509.60 L187.25,509.60 L189.06,509.60 L190.88,509.59 L192.69,509.57 L194.51,509.48 L196.32,509.27 L198.14,508.87 L199.95,508.19 L201.77,507.17 L203.58,505.77 L205.40,503.95 L207.22,501.73 L209.03,499.14 L210.85,496.22 L212.66,493.02 L214.48,489.61 L216.29,486.06 L218.11,482.42 L219.92,478.74 L221.74,475.09 L223.55,471.50 L225.37,468.01 L227.19,464.64 L229.00,461.41 L230.82,458.35 L232.63,455.45 L234.45,452.73 L236.26,450.19 L238.08,447.82 L239.89,445.62 L241.71,443.59 L243.52,441.72 L245.34,440.00 L247.15,438.41 L248.97,436.97 L250.79,435.64 L252.60,434.44 L254.42,433.33 L256.23,432.33 L258.05,431.42 L259.86,430.60 L261.68,429.85 L263.49,429.17 L265.31,428.55 L267.12,427.99 L268.94,427.49 L270.75,427.03 L272.57,426.62" fill="none" stroke="#8a8a8a" stroke-width="0.6" stroke-opacity="0.6" stroke-linejoin="round" clip-path="url(#c14)"/>
<path d="M181.80,509.60 L183.62,509.60 L185.43,509.60 L187.25,509.60 L189.06,509.60 L190.88,509.60 L192.69,509.57 L194.51,509.50 L196.32,509.32 L198.14,508.96 L199.95,508.33 L201.77,507.36 L203.58,505.99 L205.40,504.21 L207.22,502.01 L209.03,499.41 L210.85,496.45 L212.66,493.21 L214.48,489.73 L216.29,486.09 L218.11,482.36 L219.92,478.59 L221.74,474.83 L223.55,471.14 L225.37,467.56 L227.19,464.10 L229.00,460.80 L230.82,457.67 L232.63,454.72 L234.45,451.96 L236.26,449.38 L238.08,446.98 L239.89,444.77 L241.71,442.73 L243.52,440.86 L245.34,439.14 L247.15,437.57 L248.97,436.14 L250.79,434.84 L252.60,433.65 L254.42,432.58 L256.23,431.61 L258.05,430.73 L259.86,429.93 L261.68,429.21 L263.49,428.56 L265.31,427.98 L267.12,427.45 L268.94,426.98 L270.75,426.55 L272.57,426.17" fill="none" stroke="#8a8a8a" stroke-width="0.6" stroke-opacity="0.6" stroke-linejoin="round" clip-path="url(#c14)"/>
<path d="M181.80,509.60 L183.62,509.60 L185.43,509.60 L187.25,509.60 L189.06,509.60 L190.88,509.60 L192.69,509.59 L194.51,509.57 L196.32,509.51 L198.14,509.34 L199.95,509.01 L201.77,508.42 L203.58,507.49 L205.40,506.17 L207.22,504.40 L209.03,502.17 L210.85,499.50 L212.66,496.44 L214.48,493.03 L216.29,489.35 L218.11,485.48 L219.92,481.49 L221.74,477.45 L223.55,473.43 L225.37,469.48 L227.19,465.66 L229.00,461.98 L230.82,458.49 L232.63,455.21 L234.45,452.13 L236.26,449.27 L238.08,446.63 L239.89,444.20 L241.71,441.98 L243.52,439.95 L245.34,438.11 L247.15,436.45 L248.97,434.95 L250.79,433.60 L252.60,432.39 L254.42,431.31 L256.23,430.34 L258.05,429.47 L259.86,428.70 L261.68,428.01 L263.49,427.40 L265.31,426.86 L267.12,426.38 L268.94,425.96 L270.75,425.58 L272.57,425.25" fill="none" stroke="#8a8a8a" stroke-width="0.6" stroke-opacity="0.6" stroke-linejoin="round" clip-path="url(#c14)"/>
<path d="M181.80,509.60 L183.62,509.60 L185.43,509.60 L187.25,509.60 L189.06,509.60 L190.88,509.60 L192.69,509.58 L194.51,509.52 L196.32,509.36 L198.14,509.03 L199.95,508.44 L201.77,507.50 L203.58,506.16 L205.40,504.38 L207.22,502.15 L209.03,499.49 L210.85,496.45 L212.66,493.09 L214.48,489.49 L216.29,485.71 L218.11,481.82 L219.92,477.90 L221.74,474.00 L223.55,470.18 L225.37,466.47 L227.19,462.91 L229.00,459.52 L230.82,456.32 L232.63,453.32 L234.45,450.52 L236.26,447.92 L238.08,445.52 L239.89,443.31 L241.71,441.29 L243.52,439.44 L245.34,437.76 L247.15,436.23 L248.97,434.85 L250.79,433.60 L252.60,432.47 L254.42,431.45 L256.23,430.54 L258.05,429.71 L259.86,428.97 L261.68,428.31 L263.49,427.72 L265.31,427.18 L267.12,426.71 L268.94,426.28 L270.75,425.90 L272.57,425.56" fill="none" stroke="#8a8a8a" stroke-width="0.6" stroke-opacity="0.6" stroke-linejoin="round" clip-path="url(#c14)"/>
<path d="M181.80,509.60 L183.62,509.60 L185.43,509.60 L187.25,509.60 L189.06,509.60 L190.88,509.60 L192.69,509.59 L194.51,509.54 L196.32,509.41 L198.14,509.13 L199.95,508.59 L201.77,507.72 L203.58,506.42 L205.40,504.66 L207.22,502.41 L209.03,499.70 L210.85,496.57 L212.66,493.07 L214.48,489.30 L216.29,485.34 L218.11,481.26 L219.92,477.14 L221.74,473.05 L223.55,469.05 L225.37,465.18 L227.19,461.47 L229.00,457.97 L230.82,454.67 L232.63,451.60 L234.45,448.75 L236.26,446.13 L238.08,443.73 L239.89,441.53 L241.71,439.54 L243.52,437.73 L245.34,436.10 L247.15,434.63 L248.97,433.31 L250.79,432.13 L252.60,431.07 L254.42,430.13 L256.23,429.28 L258.05,428.54 L259.86,427.87 L261.68,427.28 L263.49,426.75 L265.31,426.29 L267.12,425.87 L268.94,425.51 L270.75,425.18 L272.57,424.90" fill="none" stroke="#8a8a8a" stroke-width="0.6" stroke-opacity="0.6" stroke-linejoin="round" clip-path="url(#c14)"/>
<path d="M181.80,509.60 L183.62,509.60 L185.43,509.60 L187.25,509.60 L189.06,509.60 L190.88,509.60 L192.69,509.58 L194.51,509.53 L196.32,509.38 L198.14,509.07 L199.95,508.53 L201.77,507.66 L203.58,506.42 L205.40,504.76 L207.22,502.68 L209.03,500.18 L210.85,497.32 L212.66,494.13 L214.48,490.70 L216.29,487.08 L218.11,483.33 L219.92,479.54 L221.74,475.74 L223.55,472.00 L225.37,468.34 L227.19,464.82 L229.00,461.44 L230.82,458.23 L232.63,455.21 L234.45,452.37 L236.26,449.73 L238.08,447.27 L239.89,445.00 L241.71,442.90 L243.52,440.98 L245.34,439.22 L247.15,437.62 L248.97,436.15 L250.79,434.83 L252.60,433.62 L254.42,432.53 L256.23,431.54 L258.05,430.65 L259.86,429.84 L261.68,429.11 L263.49,428.46 L265.31,427.87 L267.12,427.34 L268.94,426.87 L270.75,426.44 L272.57,426.06" fill="none" stroke="#8a8a8a" stroke-width="0.6" stroke-opacity="0.6" stroke-linejoin="round" clip-path="url(#c14)"/>
<path d="M181.80,509.60 L183.90,509.60 L186.01,509.60 L188.11,509.60 L190.21,509.60 L192.32,509.59 L194.42,509.55 L196.52,509.41 L198.63,509.07 L200.73,508.41 L202.83,507.30 L204.94,505.66 L207.04,503.44 L209.14,500.63 L211.25,497.30 L213.35,493.53 L215.45,489.41 L217.56,485.06 L219.66,480.58 L221.76,476.08 L223.87,471.64 L225.97,467.33 L228.07,463.19 L230.18,459.29 L232.28,455.62 L234.38,452.22 L236.49,449.09 L238.59,446.23 L240.69,443.63 L242.80,441.27 L244.90,439.15 L247.00,437.24 L249.11,435.54 L251.21,434.02 L253.31,432.67 L255.42,431.48 L257.52,430.42 L259.62,429.48 L261.73,428.66 L263.83,427.93 L265.93,427.29 L268.04,426.73 L270.14,426.23 L272.24,425.80 L274.35,425.42 L276.45,425.08 L278.55,424.79 L280.66,424.53 L282.76,424.31 L284.86,424.11 L286.97,423.94" fill="none" stroke="#d83030" stroke-width="1.1" stroke-linejoin="round" clip-path="url(#c14)"/>
<rect x="181.80" y="422.70" width="125.20" height="86.90" fill="none" stroke="#c0c0c0" stroke-width="0.55"/>
<rect x="185.20" y="425.20" width="53.90" height="14.20" fill="#fff" stroke="#d2d2d2" stroke-width="0.6"/>
<line x1="187.00" y1="428.40" x2="194.00" y2="428.40" stroke="#999" stroke-width="0.6"/>
<text x="194.90" y="428.40" font-family='"Liberation Serif", serif' font-size="6.8" dominant-baseline="central" fill="#333" textLength="39.17" lengthAdjust="spacingAndGlyphs">Fitted Functions</text>
<line x1="187.00" y1="435.60" x2="194.00" y2="435.60" stroke="#ff3636" stroke-width="1.1"/>
<text x="194.90" y="435.60" font-family='"Liberation Serif", serif' font-size="6.8" dominant-baseline="central" fill="#333" textLength="42.83" lengthAdjust="spacingAndGlyphs">Original Function</text>
<clipPath id="c15"><rect x="249.50" y="458.30" width="48.30" height="39.80"/></clipPath>
<rect x="249.50" y="458.30" width="48.30" height="39.80" fill="#fff"/>
<line x1="264.49" y1="458.30" x2="264.49" y2="498.10" stroke="#ececec" stroke-width="0.5"/>
<line x1="281.14" y1="458.30" x2="281.14" y2="498.10" stroke="#ececec" stroke-width="0.5"/>
<line x1="297.80" y1="458.30" x2="297.80" y2="498.10" stroke="#ececec" stroke-width="0.5"/>
<line x1="249.50" y1="498.10" x2="297.80" y2="498.10" stroke="#ececec" stroke-width="0.5"/>
<line x1="249.50" y1="484.83" x2="297.80" y2="484.83" stroke="#ececec" stroke-width="0.5"/>
<line x1="249.50" y1="471.57" x2="297.80" y2="471.57" stroke="#ececec" stroke-width="0.5"/>
<line x1="249.50" y1="458.30" x2="297.80" y2="458.30" stroke="#ececec" stroke-width="0.5"/>
<text x="264.49" y="504.50" font-size="6.1" text-anchor="middle" dominant-baseline="central" fill="#383838" textLength="7.92" lengthAdjust="spacingAndGlyphs">0.7</text>
<text x="281.14" y="504.50" font-size="6.1" text-anchor="middle" dominant-baseline="central" fill="#383838" textLength="11.09" lengthAdjust="spacingAndGlyphs">0.75</text>
<text x="297.80" y="504.50" font-size="6.1" text-anchor="middle" dominant-baseline="central" fill="#383838" textLength="7.92" lengthAdjust="spacingAndGlyphs">0.8</text>
<text x="247.80" y="498.10" font-size="6.1" text-anchor="end" dominant-baseline="central" fill="#383838" dy="1.25" textLength="3.17" lengthAdjust="spacingAndGlyphs">0</text>
<text x="247.80" y="484.83" font-size="6.1" text-anchor="end" dominant-baseline="central" fill="#383838" dy="1.25" textLength="3.17" lengthAdjust="spacingAndGlyphs">5</text>
<text x="247.80" y="471.57" font-size="6.1" text-anchor="end" dominant-baseline="central" fill="#383838" dy="1.25" textLength="6.34" lengthAdjust="spacingAndGlyphs">10</text>
<text x="247.80" y="458.30" font-size="6.1" text-anchor="end" dominant-baseline="central" fill="#383838" dy="1.25" textLength="6.34" lengthAdjust="spacingAndGlyphs">15</text>
<path d="M265.20,498.10 L265.20,490.14 L267.40,490.14 L267.40,487.49 L269.90,487.49 L269.90,482.18 L272.10,482.18 L272.10,476.87 L274.60,476.87 L274.60,482.18 L276.70,482.18 L276.70,490.14 L278.00,490.14 L278.00,476.87 L280.20,476.87 L280.20,495.45 L281.40,495.45 L281.40,498.10 Z" fill="#1e1e8c" stroke="#1e1e8c" stroke-width="0.3"/>
<path d="M261.00,497.80 L261.42,497.71 L261.84,497.59 L262.25,497.44 L262.67,497.26 L263.09,497.03 L263.51,496.76 L263.93,496.44 L264.35,496.05 L264.76,495.60 L265.18,495.07 L265.60,494.47 L266.02,493.79 L266.44,493.02 L266.86,492.17 L267.27,491.24 L267.69,490.24 L268.11,489.17 L268.53,488.05 L268.95,486.88 L269.37,485.70 L269.79,484.52 L270.20,483.35 L270.62,482.23 L271.04,481.18 L271.46,480.22 L271.88,479.38 L272.30,478.67 L272.71,478.12 L273.13,477.74 L273.55,477.53 L273.97,477.52 L274.39,477.68 L274.81,478.03 L275.22,478.55 L275.64,479.23 L276.06,480.05 L276.48,480.98 L276.90,482.02 L277.31,483.13 L277.73,484.29 L278.15,485.47 L278.57,486.65 L278.99,487.82 L279.41,488.95 L279.82,490.03 L280.24,491.05 L280.66,491.99 L281.08,492.86 L281.50,493.64 L281.92,494.34 L282.34,494.96 L282.75,495.50 L283.17,495.97 L283.59,496.37 L284.01,496.70 L284.43,496.99 L284.85,497.22 L285.26,497.41 L285.68,497.56 L286.10,497.69" fill="none" stroke="#ff3636" stroke-width="1.0"/>
<line x1="273.3" y1="458.30" x2="273.3" y2="498.10" stroke="#30e030" stroke-width="1.1"/>
<rect x="249.50" y="458.30" width="48.30" height="39.80" fill="none" stroke="#c0c0c0" stroke-width="0.55"/>
<text x="167.20" y="466.55" font-family='"Liberation Serif", serif' font-size="6.6" text-anchor="middle" dominant-baseline="central" fill="#666" transform="rotate(-90 167.20 466.55)" textLength="69" lengthAdjust="spacingAndGlyphs">Probability of Exceedance</text>
<text x="244.40" y="522.20" font-family='"Liberation Serif", serif' font-size="6.6" text-anchor="middle" dominant-baseline="central" fill="#666"><tspan font-style="italic">S</tspan><tspan font-size="4.62" dy="1">a</tspan><tspan dy="-1"> [g]</tspan></text>
<text x="162.00" y="536.00" font-family='"Liberation Serif", serif' font-size="7.6" dominant-baseline="central" fill="#222" stroke="#222" stroke-width="0.18" textLength="150.0" lengthAdjust="spacingAndGlyphs"><tspan font-weight="bold">(k)</tspan> Multiple realizations of fitted fragility func-</text>
<text x="162.00" y="544.50" font-family='"Liberation Serif", serif' font-size="7.6" dominant-baseline="central" fill="#222" stroke="#222" stroke-width="0.18" textLength="42.6" lengthAdjust="spacingAndGlyphs">tions; 8-story</text>
<clipPath id="c16"><rect x="336.30" y="422.30" width="125.20" height="86.80"/></clipPath>
<rect x="336.30" y="422.30" width="125.20" height="86.80" fill="#fff"/>
<line x1="345.24" y1="422.30" x2="345.24" y2="509.10" stroke="#ececec" stroke-width="0.5"/>
<line x1="363.13" y1="422.30" x2="363.13" y2="509.10" stroke="#ececec" stroke-width="0.5"/>
<line x1="381.01" y1="422.30" x2="381.01" y2="509.10" stroke="#ececec" stroke-width="0.5"/>
<line x1="398.90" y1="422.30" x2="398.90" y2="509.10" stroke="#ececec" stroke-width="0.5"/>
<line x1="416.79" y1="422.30" x2="416.79" y2="509.10" stroke="#ececec" stroke-width="0.5"/>
<line x1="434.67" y1="422.30" x2="434.67" y2="509.10" stroke="#ececec" stroke-width="0.5"/>
<line x1="452.56" y1="422.30" x2="452.56" y2="509.10" stroke="#ececec" stroke-width="0.5"/>
<line x1="336.30" y1="509.10" x2="461.50" y2="509.10" stroke="#ececec" stroke-width="0.5"/>
<line x1="336.30" y1="491.74" x2="461.50" y2="491.74" stroke="#ececec" stroke-width="0.5"/>
<line x1="336.30" y1="474.38" x2="461.50" y2="474.38" stroke="#ececec" stroke-width="0.5"/>
<line x1="336.30" y1="457.02" x2="461.50" y2="457.02" stroke="#ececec" stroke-width="0.5"/>
<line x1="336.30" y1="439.66" x2="461.50" y2="439.66" stroke="#ececec" stroke-width="0.5"/>
<line x1="336.30" y1="422.30" x2="461.50" y2="422.30" stroke="#ececec" stroke-width="0.5"/>
<text x="345.24" y="515.90" font-size="6.1" text-anchor="middle" dominant-baseline="central" fill="#383838" textLength="7.92" lengthAdjust="spacingAndGlyphs">0.4</text>
<text x="363.13" y="515.90" font-size="6.1" text-anchor="middle" dominant-baseline="central" fill="#383838" textLength="7.92" lengthAdjust="spacingAndGlyphs">0.6</text>
<text x="381.01" y="515.90" font-size="6.1" text-anchor="middle" dominant-baseline="central" fill="#383838" textLength="7.92" lengthAdjust="spacingAndGlyphs">0.8</text>
<text x="398.90" y="515.90" font-size="6.1" text-anchor="middle" dominant-baseline="central" fill="#383838" textLength="3.17" lengthAdjust="spacingAndGlyphs">1</text>
<text x="416.79" y="515.90" font-size="6.1" text-anchor="middle" dominant-baseline="central" fill="#383838" textLength="7.92" lengthAdjust="spacingAndGlyphs">1.2</text>
<text x="434.67" y="515.90" font-size="6.1" text-anchor="middle" dominant-baseline="central" fill="#383838" textLength="7.92" lengthAdjust="spacingAndGlyphs">1.4</text>
<text x="452.56" y="515.90" font-size="6.1" text-anchor="middle" dominant-baseline="central" fill="#383838" textLength="7.92" lengthAdjust="spacingAndGlyphs">1.6</text>
<text x="334.60" y="509.10" font-size="6.1" text-anchor="end" dominant-baseline="central" fill="#383838" dy="1.25" textLength="3.17" lengthAdjust="spacingAndGlyphs">0</text>
<text x="334.60" y="491.74" font-size="6.1" text-anchor="end" dominant-baseline="central" fill="#383838" dy="1.25" textLength="7.92" lengthAdjust="spacingAndGlyphs">0.2</text>
<text x="334.60" y="474.38" font-size="6.1" text-anchor="end" dominant-baseline="central" fill="#383838" dy="1.25" textLength="7.92" lengthAdjust="spacingAndGlyphs">0.4</text>
<text x="334.60" y="457.02" font-size="6.1" text-anchor="end" dominant-baseline="central" fill="#383838" dy="1.25" textLength="7.92" lengthAdjust="spacingAndGlyphs">0.6</text>
<text x="334.60" y="439.66" font-size="6.1" text-anchor="end" dominant-baseline="central" fill="#383838" dy="1.25" textLength="7.92" lengthAdjust="spacingAndGlyphs">0.8</text>
<text x="334.60" y="422.30" font-size="6.1" text-anchor="end" dominant-baseline="central" fill="#383838" dy="1.25" textLength="3.17" lengthAdjust="spacingAndGlyphs">1</text>
<path d="M336.30,508.56 L338.80,508.04 L341.31,507.23 L343.81,506.07 L346.32,504.51 L348.82,502.53 L351.32,500.14 L353.83,497.36 L356.33,494.24 L358.84,490.84 L361.34,487.21 L363.84,483.43 L366.35,479.56 L368.85,475.66 L371.36,471.80 L373.86,468.02 L376.36,464.35 L378.87,460.83 L381.37,457.48 L383.88,454.32 L386.38,451.36 L388.88,448.61 L391.39,446.05 L393.89,443.70 L396.40,441.54 L398.90,439.56 L401.40,437.77 L403.91,436.14 L406.41,434.66 L408.92,433.33 L411.42,432.13 L413.92,431.05 L416.43,430.08 L418.93,429.22 L421.44,428.45 L423.94,427.76 L426.44,427.14 L428.95,426.59 L431.45,426.10 L433.96,425.67 L436.46,425.29 L438.96,424.95 L441.47,424.64 L443.97,424.37 L446.48,424.14 L448.98,423.93 L451.48,423.74 L453.99,423.57 L456.49,423.43 L459.00,423.30 L461.50,423.18" fill="none" stroke="#444" stroke-width="1.15" stroke-dasharray="1.4,1.2" stroke-linejoin="round" clip-path="url(#c16)"/>
<path d="M336.30,508.95 L338.80,508.77 L341.31,508.46 L343.81,507.98 L346.32,507.28 L348.82,506.32 L351.32,505.07 L353.83,503.51 L356.33,501.64 L358.84,499.47 L361.34,497.02 L363.84,494.32 L366.35,491.41 L368.85,488.33 L371.36,485.11 L373.86,481.82 L376.36,478.47 L378.87,475.12 L381.37,471.80 L383.88,468.54 L386.38,465.35 L388.88,462.28 L391.39,459.32 L393.89,456.50 L396.40,453.82 L398.90,451.29 L401.40,448.91 L403.91,446.68 L406.41,444.60 L408.92,442.66 L411.42,440.87 L413.92,439.21 L416.43,437.68 L418.93,436.27 L421.44,434.98 L423.94,433.80 L426.44,432.72 L428.95,431.73 L431.45,430.83 L433.96,430.02 L436.46,429.27 L438.96,428.60 L441.47,427.98 L443.97,427.43 L446.48,426.92 L448.98,426.47 L451.48,426.06 L453.99,425.69 L456.49,425.35 L459.00,425.05 L461.50,424.78" fill="none" stroke="#444" stroke-width="1.15" stroke-dasharray="1.4,1.2" stroke-linejoin="round" clip-path="url(#c16)"/>
<path d="M336.30,508.81 L338.80,508.50 L341.31,507.99 L343.81,507.22 L346.32,506.15 L348.82,504.75 L351.32,502.98 L353.83,500.85 L356.33,498.38 L358.84,495.61 L361.34,492.56 L363.84,489.30 L366.35,485.87 L368.85,482.32 L371.36,478.72 L373.86,475.11 L376.36,471.53 L378.87,468.03 L381.37,464.62 L383.88,461.34 L386.38,458.20 L388.88,455.22 L391.39,452.42 L393.89,449.78 L396.40,447.32 L398.90,445.04 L401.40,442.93 L403.91,440.98 L406.41,439.19 L408.92,437.54 L411.42,436.05 L413.92,434.68 L416.43,433.44 L418.93,432.31 L421.44,431.29 L423.94,430.37 L426.44,429.53 L428.95,428.78 L431.45,428.10 L433.96,427.50 L436.46,426.95 L438.96,426.46 L441.47,426.02 L443.97,425.62 L446.48,425.27 L448.98,424.95 L451.48,424.67 L453.99,424.42 L456.49,424.19 L459.00,423.99 L461.50,423.81" fill="none" stroke="#ff3636" stroke-width="1.1" stroke-linejoin="round" clip-path="url(#c16)"/>
<rect x="336.30" y="422.30" width="125.20" height="86.80" fill="none" stroke="#c0c0c0" stroke-width="0.55"/>
<rect x="396.40" y="491.20" width="62.20" height="15.00" fill="#fff" stroke="#d2d2d2" stroke-width="0.6"/>
<line x1="398.00" y1="496.00" x2="405.90" y2="496.00" stroke="#ff3636" stroke-width="1.2"/>
<text x="406.90" y="496.00" font-family='"Liberation Serif", serif' font-size="6.8" dominant-baseline="central" fill="#333" textLength="37.16" lengthAdjust="spacingAndGlyphs">Fragility (50%)</text>
<line x1="398.00" y1="502.50" x2="405.90" y2="502.50" stroke="#444" stroke-width="1.15" stroke-dasharray="1.4,1.2"/>
<text x="406.90" y="502.50" font-family='"Liberation Serif", serif' font-size="6.8" dominant-baseline="central" fill="#333" textLength="51.16" lengthAdjust="spacingAndGlyphs">Fragility (16%, 84%)</text>
<text x="321.70" y="466.10" font-family='"Liberation Serif", serif' font-size="6.6" text-anchor="middle" dominant-baseline="central" fill="#666" transform="rotate(-90 321.70 466.10)" textLength="69" lengthAdjust="spacingAndGlyphs">Probability of Exceedance</text>
<text x="398.90" y="521.70" font-family='"Liberation Serif", serif' font-size="6.6" text-anchor="middle" dominant-baseline="central" fill="#666"><tspan font-style="italic">S</tspan><tspan font-size="4.62" dy="1">a</tspan><tspan dy="-1"> [g]</tspan></text>
<text x="331.20" y="536.00" font-family='"Liberation Serif", serif' font-size="7.6" dominant-baseline="central" fill="#222" stroke="#222" stroke-width="0.18" textLength="119.4" lengthAdjust="spacingAndGlyphs"><tspan font-weight="bold">(l)</tspan> Robust fragility functions; 8-story</text>
</svg></body></html>
